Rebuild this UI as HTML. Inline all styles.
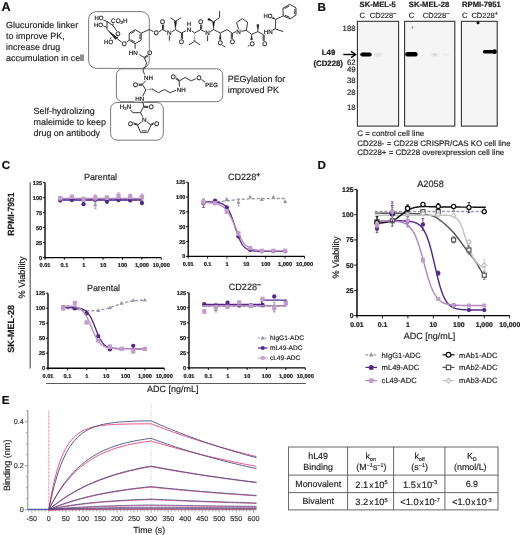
<!DOCTYPE html>
<html><head><meta charset="utf-8"><style>
html,body{margin:0;padding:0;background:#fff;}
svg{display:block;font-family:'Liberation Sans', Arial, sans-serif;text-rendering:geometricPrecision;}
</style></head><body>
<svg width="520" height="535" viewBox="0 0 520 535">
<rect width="520" height="535" fill="#fff"/>
<text x="1.50" y="11.30" font-size="12.6" font-weight="700" text-anchor="start" fill="#111" stroke="#111" stroke-width="0.22" >A</text>
<text x="6.10" y="28.10" font-size="8.95" font-weight="400" text-anchor="start" fill="#1e1e1e" stroke="#1e1e1e" stroke-width="0.16" >Glucuronide linker</text>
<text x="6.10" y="38.90" font-size="8.95" font-weight="400" text-anchor="start" fill="#1e1e1e" stroke="#1e1e1e" stroke-width="0.16" >to improve PK,</text>
<text x="6.10" y="49.70" font-size="8.95" font-weight="400" text-anchor="start" fill="#1e1e1e" stroke="#1e1e1e" stroke-width="0.16" >increase drug</text>
<text x="6.10" y="60.50" font-size="8.95" font-weight="400" text-anchor="start" fill="#1e1e1e" stroke="#1e1e1e" stroke-width="0.16" >accumulation in cell</text>
<text x="227.70" y="81.90" font-size="8.95" font-weight="400" text-anchor="start" fill="#1e1e1e" stroke="#1e1e1e" stroke-width="0.16" >PEGylation for</text>
<text x="227.70" y="92.60" font-size="8.95" font-weight="400" text-anchor="start" fill="#1e1e1e" stroke="#1e1e1e" stroke-width="0.16" >improved PK</text>
<text x="33.50" y="114.20" font-size="8.95" font-weight="400" text-anchor="start" fill="#1e1e1e" stroke="#1e1e1e" stroke-width="0.16" >Self-hydrolizing</text>
<text x="33.50" y="124.90" font-size="8.95" font-weight="400" text-anchor="start" fill="#1e1e1e" stroke="#1e1e1e" stroke-width="0.16" >maleimide to keep</text>
<text x="33.50" y="135.60" font-size="8.95" font-weight="400" text-anchor="start" fill="#1e1e1e" stroke="#1e1e1e" stroke-width="0.16" >drug on antibody</text>
<rect x="88.6" y="11.6" width="60.7" height="56.8" rx="8" fill="none" stroke="#6a6a6a" stroke-width="0.9"/>
<rect x="116.4" y="68.8" width="106.3" height="32.9" rx="6" fill="none" stroke="#6a6a6a" stroke-width="0.9"/>
<rect x="110.6" y="102.5" width="52.7" height="37.7" rx="6.5" fill="none" stroke="#6a6a6a" stroke-width="0.9"/>
<polyline points="102.50,19.50 107.00,21.50 113.00,25.50 117.50,32.00" fill="none" stroke="#151515" stroke-width="0.85" stroke-linejoin="round"/>
<polyline points="117.50,34.50 117.00,38.50" fill="none" stroke="#151515" stroke-width="0.85" stroke-linejoin="round"/>
<polyline points="107.00,21.50 107.00,29.50" fill="none" stroke="#151515" stroke-width="0.85" stroke-linejoin="round"/>
<polygon points="107.00,29.50 115.61,39.44 117.39,37.56" fill="#151515" stroke="#151515" stroke-width="0.3" />
<polyline points="113.00,25.50 113.50,21.80" fill="none" stroke="#151515" stroke-width="0.85" stroke-linejoin="round"/>
<polyline points="101.50,25.00 107.00,27.50" fill="none" stroke="#151515" stroke-width="0.85" stroke-linejoin="round"/>
<polyline points="111.00,37.50 109.50,40.00" fill="none" stroke="#151515" stroke-width="0.85" stroke-linejoin="round"/>
<polyline points="117.00,38.50 122.00,42.50" fill="none" stroke="#151515" stroke-width="0.85" stroke-linejoin="round"/>
<polygon points="129.20,40.20 129.20,33.20 135.10,29.70 141.20,33.20 141.20,40.20 135.10,43.60" fill="none" stroke="#151515" stroke-width="0.85" stroke-linejoin="round"/>
<line x1="130.68" y1="33.71" x2="134.81" y2="31.26" stroke="#151515" stroke-width="0.85" />
<line x1="140.00" y1="34.24" x2="140.00" y2="39.14" stroke="#151515" stroke-width="0.85" />
<line x1="134.81" y1="42.05" x2="130.68" y2="39.67" stroke="#151515" stroke-width="0.85" />
<polyline points="126.00,43.00 129.20,40.20" fill="none" stroke="#151515" stroke-width="0.85" stroke-linejoin="round"/>
<polyline points="135.10,43.60 135.10,48.80" fill="none" stroke="#151515" stroke-width="0.85" stroke-linejoin="round"/>
<polyline points="141.20,33.20 149.30,29.50 154.50,32.20" fill="none" stroke="#151515" stroke-width="0.85" stroke-linejoin="round"/>
<polyline points="158.30,32.20 162.50,29.60 167.50,32.20" fill="none" stroke="#151515" stroke-width="0.85" stroke-linejoin="round"/>
<polyline points="162.50,29.60 162.50,23.80" fill="none" stroke="#151515" stroke-width="0.85" stroke-linejoin="round"/>
<line x1="163.60" y1="29.60" x2="163.60" y2="23.80" stroke="#151515" stroke-width="0.85" />
<polyline points="169.40,35.20 169.40,40.70" fill="none" stroke="#151515" stroke-width="0.85" stroke-linejoin="round"/>
<polyline points="171.30,32.20 175.50,29.60 181.40,33.00" fill="none" stroke="#151515" stroke-width="0.85" stroke-linejoin="round"/>
<polygon points="175.50,29.60 176.70,21.20 174.30,21.20" fill="#151515" stroke="#151515" stroke-width="0.3" />
<polyline points="170.40,17.70 175.50,21.20 181.10,17.70" fill="none" stroke="#151515" stroke-width="0.85" stroke-linejoin="round"/>
<polyline points="181.40,33.00 181.40,39.00" fill="none" stroke="#151515" stroke-width="0.85" stroke-linejoin="round"/>
<line x1="182.50" y1="33.00" x2="182.50" y2="39.00" stroke="#151515" stroke-width="0.85" />
<polyline points="181.40,33.00 186.50,30.50" fill="none" stroke="#151515" stroke-width="0.85" stroke-linejoin="round"/>
<polyline points="191.20,30.50 194.60,33.00 200.60,29.60" fill="none" stroke="#151515" stroke-width="0.85" stroke-linejoin="round"/>
<line x1="194.30" y1="34.95" x2="194.90" y2="34.95" stroke="#151515" stroke-width="0.6" />
<line x1="194.00" y1="36.91" x2="195.20" y2="36.91" stroke="#151515" stroke-width="0.6" />
<line x1="193.69" y1="38.86" x2="195.51" y2="38.86" stroke="#151515" stroke-width="0.6" />
<line x1="193.39" y1="40.81" x2="195.81" y2="40.81" stroke="#151515" stroke-width="0.6" />
<polyline points="189.00,44.80 194.60,41.40 200.20,44.80" fill="none" stroke="#151515" stroke-width="0.85" stroke-linejoin="round"/>
<polyline points="200.60,29.60 200.60,24.00" fill="none" stroke="#151515" stroke-width="0.85" stroke-linejoin="round"/>
<line x1="201.70" y1="29.60" x2="201.70" y2="24.00" stroke="#151515" stroke-width="0.85" />
<polyline points="200.60,29.60 205.80,32.30" fill="none" stroke="#151515" stroke-width="0.85" stroke-linejoin="round"/>
<polyline points="207.60,35.30 207.60,41.20" fill="none" stroke="#151515" stroke-width="0.85" stroke-linejoin="round"/>
<polyline points="209.50,32.30 213.60,29.60 220.20,33.00" fill="none" stroke="#151515" stroke-width="0.85" stroke-linejoin="round"/>
<polygon points="213.60,29.60 214.70,21.80 212.50,21.80" fill="#151515" stroke="#151515" stroke-width="0.3" />
<polygon points="213.60,21.80 208.71,18.02 207.69,19.98" fill="#151515" stroke="#151515" stroke-width="0.3" />
<polyline points="213.60,21.80 219.60,17.60 219.60,11.00" fill="none" stroke="#151515" stroke-width="0.85" stroke-linejoin="round"/>
<polygon points="220.20,33.00 219.20,39.60 221.20,39.60" fill="#151515" stroke="#151515" stroke-width="0.3" />
<polyline points="221.80,44.60 225.20,47.00" fill="none" stroke="#151515" stroke-width="0.85" stroke-linejoin="round"/>
<polyline points="220.20,33.00 227.10,29.60 232.40,33.40" fill="none" stroke="#151515" stroke-width="0.85" stroke-linejoin="round"/>
<polyline points="232.40,33.40 232.40,39.80" fill="none" stroke="#151515" stroke-width="0.85" stroke-linejoin="round"/>
<line x1="231.30" y1="33.40" x2="231.30" y2="39.80" stroke="#151515" stroke-width="0.85" />
<polyline points="232.40,33.40 236.60,31.20" fill="none" stroke="#151515" stroke-width="0.85" stroke-linejoin="round"/>
<polyline points="238.60,29.00 236.60,22.60 242.20,18.60 247.60,22.20 246.40,30.40 240.60,31.40" fill="none" stroke="#151515" stroke-width="0.85" stroke-linejoin="round"/>
<polyline points="246.40,30.40 251.60,34.40 257.90,31.60 264.20,35.20" fill="none" stroke="#151515" stroke-width="0.85" stroke-linejoin="round"/>
<polygon points="251.60,34.40 250.60,39.80 252.60,39.80" fill="#151515" stroke="#151515" stroke-width="0.3" />
<polyline points="250.20,44.60 247.80,46.40" fill="none" stroke="#151515" stroke-width="0.85" stroke-linejoin="round"/>
<polygon points="257.90,31.60 259.00,24.60 256.80,24.60" fill="#151515" stroke="#151515" stroke-width="0.3" />
<polyline points="264.20,35.20 264.20,41.20" fill="none" stroke="#151515" stroke-width="0.85" stroke-linejoin="round"/>
<line x1="263.10" y1="35.20" x2="263.10" y2="41.20" stroke="#151515" stroke-width="0.85" />
<polyline points="264.20,35.20 266.20,33.20" fill="none" stroke="#151515" stroke-width="0.85" stroke-linejoin="round"/>
<polygon points="275.20,28.80 270.35,30.11 271.25,31.89" fill="#151515" stroke="#151515" stroke-width="0.3" />
<polyline points="275.20,28.80 283.20,31.60" fill="none" stroke="#151515" stroke-width="0.85" stroke-linejoin="round"/>
<polyline points="275.20,28.80 275.80,19.40" fill="none" stroke="#151515" stroke-width="0.85" stroke-linejoin="round"/>
<polygon points="275.80,19.40 271.88,16.12 270.92,17.88" fill="#151515" stroke="#151515" stroke-width="0.3" />
<polyline points="275.80,19.40 283.30,15.90" fill="none" stroke="#151515" stroke-width="0.85" stroke-linejoin="round"/>
<polygon points="283.30,15.90 282.90,8.30 289.60,4.40 296.00,7.80 296.00,15.00 290.20,18.80" fill="none" stroke="#151515" stroke-width="0.85" stroke-linejoin="round"/>
<line x1="284.55" y1="8.73" x2="289.24" y2="6.00" stroke="#151515" stroke-width="0.85" />
<line x1="294.80" y1="8.92" x2="294.80" y2="13.96" stroke="#151515" stroke-width="0.85" />
<line x1="289.70" y1="17.29" x2="284.87" y2="15.26" stroke="#151515" stroke-width="0.85" />
<polyline points="139.30,54.60 144.20,57.40" fill="none" stroke="#151515" stroke-width="0.85" stroke-linejoin="round"/>
<polyline points="144.20,57.40 148.20,54.60" fill="none" stroke="#151515" stroke-width="0.85" stroke-linejoin="round"/>
<line x1="144.77" y1="58.22" x2="148.77" y2="55.42" stroke="#151515" stroke-width="0.85" />
<polyline points="144.20,57.40 146.50,63.00 145.80,65.50 142.90,70.20 144.60,74.60" fill="none" stroke="#151515" stroke-width="0.85" stroke-linejoin="round"/>
<polyline points="146.00,80.40 142.30,84.20" fill="none" stroke="#151515" stroke-width="0.85" stroke-linejoin="round"/>
<polyline points="142.30,84.20 137.60,84.20" fill="none" stroke="#151515" stroke-width="0.85" stroke-linejoin="round"/>
<line x1="142.30" y1="85.20" x2="137.60" y2="85.20" stroke="#151515" stroke-width="0.85" />
<polyline points="142.30,84.20 145.80,89.80" fill="none" stroke="#151515" stroke-width="0.85" stroke-linejoin="round"/>
<line x1="147.43" y1="89.96" x2="147.38" y2="89.36" stroke="#151515" stroke-width="0.6" />
<line x1="149.06" y1="90.12" x2="148.96" y2="88.92" stroke="#151515" stroke-width="0.6" />
<line x1="150.69" y1="90.28" x2="150.54" y2="88.48" stroke="#151515" stroke-width="0.6" />
<line x1="152.32" y1="90.45" x2="152.11" y2="88.04" stroke="#151515" stroke-width="0.6" />
<polyline points="152.70,89.20 158.40,92.70 164.30,89.60 170.20,92.70 176.20,90.20" fill="none" stroke="#151515" stroke-width="0.85" stroke-linejoin="round"/>
<polyline points="145.80,89.80 142.60,96.40" fill="none" stroke="#151515" stroke-width="0.85" stroke-linejoin="round"/>
<polyline points="179.40,86.60 179.20,81.10" fill="none" stroke="#151515" stroke-width="0.85" stroke-linejoin="round"/>
<polyline points="179.20,81.10 175.00,78.30" fill="none" stroke="#151515" stroke-width="0.85" stroke-linejoin="round"/>
<line x1="179.75" y1="80.27" x2="175.55" y2="77.47" stroke="#151515" stroke-width="0.85" />
<polyline points="179.20,81.10 185.00,77.50 191.30,80.80 196.60,78.40" fill="none" stroke="#151515" stroke-width="0.85" stroke-linejoin="round"/>
<polyline points="201.00,79.00 205.30,82.40" fill="none" stroke="#151515" stroke-width="0.85" stroke-linejoin="round"/>
<polyline points="142.40,100.80 143.80,106.20" fill="none" stroke="#151515" stroke-width="0.85" stroke-linejoin="round"/>
<polyline points="143.80,106.20 149.00,106.60" fill="none" stroke="#151515" stroke-width="0.85" stroke-linejoin="round"/>
<line x1="143.72" y1="107.20" x2="148.92" y2="107.60" stroke="#151515" stroke-width="0.85" />
<polyline points="143.80,106.20 140.50,112.70 132.80,112.70 130.60,110.00" fill="none" stroke="#151515" stroke-width="0.85" stroke-linejoin="round"/>
<polyline points="140.50,112.70 143.20,117.80" fill="none" stroke="#151515" stroke-width="0.85" stroke-linejoin="round"/>
<polyline points="142.20,121.40 137.60,125.20 140.50,132.40" fill="none" stroke="#151515" stroke-width="0.85" stroke-linejoin="round"/>
<polyline points="146.40,121.40 151.10,125.20 147.70,132.40" fill="none" stroke="#151515" stroke-width="0.85" stroke-linejoin="round"/>
<line x1="140.5" y1="132.4" x2="147.7" y2="132.4" stroke="#2a2a2a" stroke-width="0.85"/>
<line x1="141.5" y1="130.8" x2="146.7" y2="130.8" stroke="#2a2a2a" stroke-width="0.85"/>
<polyline points="137.60,125.20 132.60,123.60" fill="none" stroke="#151515" stroke-width="0.85" stroke-linejoin="round"/>
<line x1="137.87" y1="124.34" x2="132.87" y2="122.74" stroke="#151515" stroke-width="0.85" />
<polyline points="151.10,125.20 154.40,123.60" fill="none" stroke="#151515" stroke-width="0.85" stroke-linejoin="round"/>
<line x1="150.71" y1="124.39" x2="154.01" y2="122.79" stroke="#151515" stroke-width="0.85" />
<text x="99.00" y="20.46" font-size="5.99" text-anchor="middle" fill="#fff" stroke="#fff" stroke-width="1.6" stroke-linejoin="round">HO</text>
<text x="99.00" y="20.46" font-size="5.99" text-anchor="middle" fill="#151515" stroke="#151515" stroke-width="0.2">HO</text>
<text x="98.40" y="26.76" font-size="5.99" text-anchor="middle" fill="#fff" stroke="#fff" stroke-width="1.6" stroke-linejoin="round">HO</text>
<text x="98.40" y="26.76" font-size="5.99" text-anchor="middle" fill="#151515" stroke="#151515" stroke-width="0.2">HO</text>
<text x="108.60" y="43.56" font-size="5.99" text-anchor="middle" fill="#fff" stroke="#fff" stroke-width="1.6" stroke-linejoin="round">HO</text>
<text x="108.60" y="43.56" font-size="5.99" text-anchor="middle" fill="#151515" stroke="#151515" stroke-width="0.2">HO</text>
<text x="111.1" y="23.1" font-size="6.3" fill="#fff" stroke="#fff" stroke-width="1.6">CO<tspan font-size="4.4" dy="1.3">2</tspan><tspan dy="-1.3">H</tspan></text>
<text x="111.1" y="23.1" font-size="6.3" fill="#151515" stroke="#151515" stroke-width="0.2">CO<tspan font-size="4.4" dy="1.3">2</tspan><tspan dy="-1.3">H</tspan></text>
<text x="118.00" y="35.58" font-size="6.33" text-anchor="middle" fill="#fff" stroke="#fff" stroke-width="1.6" stroke-linejoin="round">O</text>
<text x="118.00" y="35.58" font-size="6.33" text-anchor="middle" fill="#151515" stroke="#151515" stroke-width="0.2">O</text>
<text x="124.20" y="46.48" font-size="6.33" text-anchor="middle" fill="#fff" stroke="#fff" stroke-width="1.6" stroke-linejoin="round">O</text>
<text x="124.20" y="46.48" font-size="6.33" text-anchor="middle" fill="#151515" stroke="#151515" stroke-width="0.2">O</text>
<text x="133.20" y="54.84" font-size="6.21" text-anchor="middle" fill="#fff" stroke="#fff" stroke-width="1.6" stroke-linejoin="round">HN</text>
<text x="133.20" y="54.84" font-size="6.21" text-anchor="middle" fill="#151515" stroke="#151515" stroke-width="0.2">HN</text>
<text x="149.70" y="54.98" font-size="6.33" text-anchor="middle" fill="#fff" stroke="#fff" stroke-width="1.6" stroke-linejoin="round">O</text>
<text x="149.70" y="54.98" font-size="6.33" text-anchor="middle" fill="#151515" stroke="#151515" stroke-width="0.2">O</text>
<text x="156.30" y="35.28" font-size="6.33" text-anchor="middle" fill="#fff" stroke="#fff" stroke-width="1.6" stroke-linejoin="round">O</text>
<text x="156.30" y="35.28" font-size="6.33" text-anchor="middle" fill="#151515" stroke="#151515" stroke-width="0.2">O</text>
<text x="162.50" y="23.88" font-size="6.33" text-anchor="middle" fill="#fff" stroke="#fff" stroke-width="1.6" stroke-linejoin="round">O</text>
<text x="162.50" y="23.88" font-size="6.33" text-anchor="middle" fill="#151515" stroke="#151515" stroke-width="0.2">O</text>
<text x="169.40" y="35.48" font-size="6.33" text-anchor="middle" fill="#fff" stroke="#fff" stroke-width="1.6" stroke-linejoin="round">N</text>
<text x="169.40" y="35.48" font-size="6.33" text-anchor="middle" fill="#151515" stroke="#151515" stroke-width="0.2">N</text>
<text x="181.40" y="43.88" font-size="6.33" text-anchor="middle" fill="#fff" stroke="#fff" stroke-width="1.6" stroke-linejoin="round">O</text>
<text x="181.40" y="43.88" font-size="6.33" text-anchor="middle" fill="#151515" stroke="#151515" stroke-width="0.2">O</text>
<text x="189.00" y="31.88" font-size="6.33" text-anchor="middle" fill="#fff" stroke="#fff" stroke-width="1.6" stroke-linejoin="round">N</text>
<text x="189.00" y="31.88" font-size="6.33" text-anchor="middle" fill="#151515" stroke="#151515" stroke-width="0.2">N</text>
<text x="189.00" y="26.36" font-size="5.99" text-anchor="middle" fill="#fff" stroke="#fff" stroke-width="1.6" stroke-linejoin="round">H</text>
<text x="189.00" y="26.36" font-size="5.99" text-anchor="middle" fill="#151515" stroke="#151515" stroke-width="0.2">H</text>
<text x="200.60" y="24.28" font-size="6.33" text-anchor="middle" fill="#fff" stroke="#fff" stroke-width="1.6" stroke-linejoin="round">O</text>
<text x="200.60" y="24.28" font-size="6.33" text-anchor="middle" fill="#151515" stroke="#151515" stroke-width="0.2">O</text>
<text x="207.60" y="35.48" font-size="6.33" text-anchor="middle" fill="#fff" stroke="#fff" stroke-width="1.6" stroke-linejoin="round">N</text>
<text x="207.60" y="35.48" font-size="6.33" text-anchor="middle" fill="#151515" stroke="#151515" stroke-width="0.2">N</text>
<text x="220.20" y="44.88" font-size="6.33" text-anchor="middle" fill="#fff" stroke="#fff" stroke-width="1.6" stroke-linejoin="round">O</text>
<text x="220.20" y="44.88" font-size="6.33" text-anchor="middle" fill="#151515" stroke="#151515" stroke-width="0.2">O</text>
<text x="232.40" y="44.28" font-size="6.33" text-anchor="middle" fill="#fff" stroke="#fff" stroke-width="1.6" stroke-linejoin="round">O</text>
<text x="232.40" y="44.28" font-size="6.33" text-anchor="middle" fill="#151515" stroke="#151515" stroke-width="0.2">O</text>
<text x="238.60" y="34.08" font-size="6.33" text-anchor="middle" fill="#fff" stroke="#fff" stroke-width="1.6" stroke-linejoin="round">N</text>
<text x="238.60" y="34.08" font-size="6.33" text-anchor="middle" fill="#151515" stroke="#151515" stroke-width="0.2">N</text>
<text x="252.10" y="45.88" font-size="6.33" text-anchor="middle" fill="#fff" stroke="#fff" stroke-width="1.6" stroke-linejoin="round">O</text>
<text x="252.10" y="45.88" font-size="6.33" text-anchor="middle" fill="#151515" stroke="#151515" stroke-width="0.2">O</text>
<text x="264.60" y="45.88" font-size="6.33" text-anchor="middle" fill="#fff" stroke="#fff" stroke-width="1.6" stroke-linejoin="round">O</text>
<text x="264.60" y="45.88" font-size="6.33" text-anchor="middle" fill="#151515" stroke="#151515" stroke-width="0.2">O</text>
<text x="268.20" y="33.84" font-size="6.21" text-anchor="middle" fill="#fff" stroke="#fff" stroke-width="1.6" stroke-linejoin="round">HN</text>
<text x="268.20" y="33.84" font-size="6.21" text-anchor="middle" fill="#151515" stroke="#151515" stroke-width="0.2">HN</text>
<text x="267.90" y="18.36" font-size="5.99" text-anchor="middle" fill="#fff" stroke="#fff" stroke-width="1.6" stroke-linejoin="round">HO</text>
<text x="267.90" y="18.36" font-size="5.99" text-anchor="middle" fill="#151515" stroke="#151515" stroke-width="0.2">HO</text>
<text x="148.50" y="79.94" font-size="6.21" text-anchor="middle" fill="#fff" stroke="#fff" stroke-width="1.6" stroke-linejoin="round">NH</text>
<text x="148.50" y="79.94" font-size="6.21" text-anchor="middle" fill="#151515" stroke="#151515" stroke-width="0.2">NH</text>
<text x="135.40" y="86.68" font-size="6.33" text-anchor="middle" fill="#fff" stroke="#fff" stroke-width="1.6" stroke-linejoin="round">O</text>
<text x="135.40" y="86.68" font-size="6.33" text-anchor="middle" fill="#151515" stroke="#151515" stroke-width="0.2">O</text>
<text x="173.20" y="79.38" font-size="6.33" text-anchor="middle" fill="#fff" stroke="#fff" stroke-width="1.6" stroke-linejoin="round">O</text>
<text x="173.20" y="79.38" font-size="6.33" text-anchor="middle" fill="#151515" stroke="#151515" stroke-width="0.2">O</text>
<text x="181.30" y="91.54" font-size="6.21" text-anchor="middle" fill="#fff" stroke="#fff" stroke-width="1.6" stroke-linejoin="round">NH</text>
<text x="181.30" y="91.54" font-size="6.21" text-anchor="middle" fill="#151515" stroke="#151515" stroke-width="0.2">NH</text>
<text x="198.90" y="79.88" font-size="6.33" text-anchor="middle" fill="#fff" stroke="#fff" stroke-width="1.6" stroke-linejoin="round">O</text>
<text x="198.90" y="79.88" font-size="6.33" text-anchor="middle" fill="#151515" stroke="#151515" stroke-width="0.2">O</text>
<text x="211.60" y="86.56" font-size="5.99" text-anchor="middle" fill="#fff" stroke="#fff" stroke-width="1.6" stroke-linejoin="round">PEG</text>
<text x="211.60" y="86.56" font-size="5.99" text-anchor="middle" fill="#151515" stroke="#151515" stroke-width="0.2">PEG</text>
<text x="139.80" y="100.94" font-size="6.21" text-anchor="middle" fill="#fff" stroke="#fff" stroke-width="1.6" stroke-linejoin="round">HN</text>
<text x="139.80" y="100.94" font-size="6.21" text-anchor="middle" fill="#151515" stroke="#151515" stroke-width="0.2">HN</text>
<text x="151.30" y="109.18" font-size="6.33" text-anchor="middle" fill="#fff" stroke="#fff" stroke-width="1.6" stroke-linejoin="round">O</text>
<text x="151.30" y="109.18" font-size="6.33" text-anchor="middle" fill="#151515" stroke="#151515" stroke-width="0.2">O</text>
<text x="125.6" y="109.1" font-size="6.3" text-anchor="middle" fill="#fff" stroke="#fff" stroke-width="1.6">H<tspan font-size="4.4" dy="1.3">2</tspan><tspan dy="-1.3">N</tspan></text>
<text x="125.6" y="109.1" font-size="6.3" text-anchor="middle" fill="#151515" stroke="#151515" stroke-width="0.2">H<tspan font-size="4.4" dy="1.3">2</tspan><tspan dy="-1.3">N</tspan></text>
<text x="144.30" y="122.18" font-size="6.33" text-anchor="middle" fill="#fff" stroke="#fff" stroke-width="1.6" stroke-linejoin="round">N</text>
<text x="144.30" y="122.18" font-size="6.33" text-anchor="middle" fill="#151515" stroke="#151515" stroke-width="0.2">N</text>
<text x="130.40" y="125.58" font-size="6.33" text-anchor="middle" fill="#fff" stroke="#fff" stroke-width="1.6" stroke-linejoin="round">O</text>
<text x="130.40" y="125.58" font-size="6.33" text-anchor="middle" fill="#151515" stroke="#151515" stroke-width="0.2">O</text>
<text x="156.60" y="125.58" font-size="6.33" text-anchor="middle" fill="#fff" stroke="#fff" stroke-width="1.6" stroke-linejoin="round">O</text>
<text x="156.60" y="125.58" font-size="6.33" text-anchor="middle" fill="#151515" stroke="#151515" stroke-width="0.2">O</text>
<text x="317.60" y="11.20" font-size="11.6" font-weight="700" text-anchor="start" fill="#111" stroke="#111" stroke-width="0.22" >B</text>
<text x="359.50" y="7.40" font-size="7.7" font-weight="700" text-anchor="start" fill="#1e1e1e" stroke="#1e1e1e" stroke-width="0.22" >SK-MEL-5</text>
<text x="408.80" y="7.40" font-size="7.7" font-weight="700" text-anchor="start" fill="#1e1e1e" stroke="#1e1e1e" stroke-width="0.22" >SK-MEL-28</text>
<text x="462.00" y="7.40" font-size="7.7" font-weight="700" text-anchor="start" fill="#1e1e1e" stroke="#1e1e1e" stroke-width="0.22" >RPMI-7951</text>
<text x="359.60" y="18.20" font-size="7.6" font-weight="400" text-anchor="start" fill="#1e1e1e" stroke="#1e1e1e" stroke-width="0.16" >C</text>
<text x="369.8" y="18.2" font-size="7.5" fill="#1e1e1e" stroke="#1e1e1e" stroke-width="0.16">CD228<tspan font-size="5.2" dy="-3" font-weight="700">−</tspan></text>
<text x="408.70" y="18.20" font-size="7.6" font-weight="400" text-anchor="start" fill="#1e1e1e" stroke="#1e1e1e" stroke-width="0.16" >C</text>
<text x="422.8" y="18.2" font-size="7.5" fill="#1e1e1e" stroke="#1e1e1e" stroke-width="0.16">CD228<tspan font-size="5.2" dy="-3" font-weight="700">−</tspan></text>
<text x="462.00" y="18.20" font-size="7.6" font-weight="400" text-anchor="start" fill="#1e1e1e" stroke="#1e1e1e" stroke-width="0.16" >C</text>
<text x="471.4" y="18.2" font-size="7.5" fill="#1e1e1e" stroke="#1e1e1e" stroke-width="0.16">CD228<tspan font-size="5.2" dy="-3" font-weight="700">+</tspan></text>
<rect x="357.4" y="21.3" width="41.20" height="104.8" fill="#f5f5f6" stroke="#2a2a2a" stroke-width="1.05"/>
<rect x="404.6" y="21.3" width="50.20" height="104.8" fill="#f5f5f6" stroke="#2a2a2a" stroke-width="1.05"/>
<rect x="461.4" y="21.3" width="35.80" height="104.8" fill="#f5f5f6" stroke="#2a2a2a" stroke-width="1.05"/>
<defs><filter id="bl" x="-50%" y="-50%" width="200%" height="200%"><feGaussianBlur stdDeviation="0.6"/></filter><filter id="bl2" x="-50%" y="-50%" width="200%" height="200%"><feGaussianBlur stdDeviation="0.9"/></filter></defs>
<rect x="360.3" y="52.6" width="11.4" height="3.9" rx="1.95" fill="#000" filter="url(#bl)"/>
<ellipse cx="378.0" cy="54.7" rx="4" ry="0.9" fill="#ccc" filter="url(#bl2)"/>
<rect x="405.2" y="52.0" width="12.4" height="4.4" rx="2.2" fill="#000" filter="url(#bl)"/>
<ellipse cx="434.8" cy="54.6" rx="3.0" ry="0.75" fill="#aaa" filter="url(#bl2)"/>
<ellipse cx="446" cy="54.5" rx="3" ry="0.7" fill="#ddd" filter="url(#bl2)"/>
<rect x="482.8" y="49.9" width="13.6" height="3.6" rx="1.8" fill="#000" filter="url(#bl)"/>
<rect x="492.5" y="49.3" width="4.2" height="4.8" rx="2" fill="#000" filter="url(#bl)"/>
<circle cx="478" cy="22.8" r="1.5" fill="#000" filter="url(#bl)"/>
<ellipse cx="412.5" cy="27.5" rx="0.8" ry="1.5" fill="#999" filter="url(#bl)"/>
<text x="355.60" y="31.30" font-size="7.8" font-weight="400" text-anchor="end" fill="#222" stroke="#222" stroke-width="0.16" >188</text>
<text x="355.60" y="64.80" font-size="7.8" font-weight="400" text-anchor="end" fill="#222" stroke="#222" stroke-width="0.16" >62</text>
<text x="355.60" y="71.90" font-size="7.8" font-weight="400" text-anchor="end" fill="#222" stroke="#222" stroke-width="0.16" >49</text>
<text x="355.60" y="82.80" font-size="7.8" font-weight="400" text-anchor="end" fill="#222" stroke="#222" stroke-width="0.16" >38</text>
<text x="355.60" y="94.90" font-size="7.8" font-weight="400" text-anchor="end" fill="#222" stroke="#222" stroke-width="0.16" >28</text>
<text x="355.60" y="110.30" font-size="7.8" font-weight="400" text-anchor="end" fill="#222" stroke="#222" stroke-width="0.16" >18</text>
<text x="328.50" y="55.40" font-size="7.8" font-weight="700" text-anchor="middle" fill="#1e1e1e" stroke="#1e1e1e" stroke-width="0.22" >L49</text>
<text x="328.20" y="66.00" font-size="7.8" font-weight="700" text-anchor="middle" fill="#1e1e1e" stroke="#1e1e1e" stroke-width="0.22" >(CD228)</text>
<line x1="343.30" y1="54.50" x2="355.00" y2="54.50" stroke="#000" stroke-width="1.4" />
<polyline points="351.00,51.40 355.60,54.50 351.00,57.60" fill="none" stroke="#000" stroke-width="1.4" stroke-linejoin="miter"/>
<text x="357.30" y="136.00" font-size="7.9" font-weight="400" text-anchor="start" fill="#1e1e1e" stroke="#1e1e1e" stroke-width="0.16" >C = control cell line</text>
<text x="357.30" y="145.80" font-size="7.9" font-weight="400" text-anchor="start" fill="#1e1e1e" stroke="#1e1e1e" stroke-width="0.16" >CD228- = CD228 CRISPR/CAS KO cell line</text>
<text x="357.30" y="155.20" font-size="7.9" font-weight="400" text-anchor="start" fill="#1e1e1e" stroke="#1e1e1e" stroke-width="0.16" >CD228+ = CD228 overexpression cell line</text>
<text x="1.80" y="169.20" font-size="11.6" font-weight="700" text-anchor="start" fill="#111" stroke="#111" stroke-width="0.22" >C</text>
<line x1="45.00" y1="182.60" x2="45.00" y2="258.20" stroke="#000" stroke-width="1.35" />
<line x1="44.40" y1="257.60" x2="161.28" y2="257.60" stroke="#000" stroke-width="1.35" />
<line x1="42.80" y1="257.60" x2="45.00" y2="257.60" stroke="#000" stroke-width="0.9" />
<text x="42.20" y="259.62" font-size="5.6" font-weight="700" text-anchor="end" fill="#222" stroke="#222" stroke-width="0.22" >0</text>
<line x1="42.80" y1="242.60" x2="45.00" y2="242.60" stroke="#000" stroke-width="0.9" />
<text x="42.20" y="244.62" font-size="5.6" font-weight="700" text-anchor="end" fill="#222" stroke="#222" stroke-width="0.22" >25</text>
<line x1="42.80" y1="227.60" x2="45.00" y2="227.60" stroke="#000" stroke-width="0.9" />
<text x="42.20" y="229.62" font-size="5.6" font-weight="700" text-anchor="end" fill="#222" stroke="#222" stroke-width="0.22" >50</text>
<line x1="42.80" y1="212.60" x2="45.00" y2="212.60" stroke="#000" stroke-width="0.9" />
<text x="42.20" y="214.62" font-size="5.6" font-weight="700" text-anchor="end" fill="#222" stroke="#222" stroke-width="0.22" >75</text>
<line x1="42.80" y1="197.60" x2="45.00" y2="197.60" stroke="#000" stroke-width="0.9" />
<text x="42.20" y="199.62" font-size="5.6" font-weight="700" text-anchor="end" fill="#222" stroke="#222" stroke-width="0.22" >100</text>
<line x1="42.80" y1="182.60" x2="45.00" y2="182.60" stroke="#000" stroke-width="0.9" />
<text x="42.20" y="184.62" font-size="5.6" font-weight="700" text-anchor="end" fill="#222" stroke="#222" stroke-width="0.22" >125</text>
<line x1="45.00" y1="257.60" x2="45.00" y2="259.80" stroke="#000" stroke-width="0.9" />
<text x="45.00" y="267.31" font-size="5.6" font-weight="700" text-anchor="middle" fill="#222" stroke="#222" stroke-width="0.22" >0.01</text>
<line x1="64.38" y1="257.60" x2="64.38" y2="259.80" stroke="#000" stroke-width="0.9" />
<text x="64.38" y="267.31" font-size="5.6" font-weight="700" text-anchor="middle" fill="#222" stroke="#222" stroke-width="0.22" >0.1</text>
<line x1="83.76" y1="257.60" x2="83.76" y2="259.80" stroke="#000" stroke-width="0.9" />
<text x="83.76" y="267.31" font-size="5.6" font-weight="700" text-anchor="middle" fill="#222" stroke="#222" stroke-width="0.22" >1</text>
<line x1="103.14" y1="257.60" x2="103.14" y2="259.80" stroke="#000" stroke-width="0.9" />
<text x="103.14" y="267.31" font-size="5.6" font-weight="700" text-anchor="middle" fill="#222" stroke="#222" stroke-width="0.22" >10</text>
<line x1="122.52" y1="257.60" x2="122.52" y2="259.80" stroke="#000" stroke-width="0.9" />
<text x="122.52" y="267.31" font-size="5.6" font-weight="700" text-anchor="middle" fill="#222" stroke="#222" stroke-width="0.22" >100</text>
<line x1="141.90" y1="257.60" x2="141.90" y2="259.80" stroke="#000" stroke-width="0.9" />
<text x="141.90" y="267.31" font-size="5.6" font-weight="700" text-anchor="middle" fill="#222" stroke="#222" stroke-width="0.22" >1,000</text>
<line x1="161.28" y1="257.60" x2="161.28" y2="259.80" stroke="#000" stroke-width="0.9" />
<text x="161.28" y="267.31" font-size="5.6" font-weight="700" text-anchor="middle" fill="#222" stroke="#222" stroke-width="0.22" >10,000</text>
<text x="100.54" y="180.00" font-size="8.9" font-weight="400" text-anchor="middle" fill="#1e1e1e" stroke="#1e1e1e" stroke-width="0.16" >Parental</text>
<polyline points="58.55,199.70 59.25,199.70 59.95,199.70 60.65,199.70 61.35,199.70 62.05,199.70 62.75,199.70 63.46,199.70 64.16,199.70 64.86,199.70 65.56,199.70 66.26,199.70 66.96,199.70 67.66,199.70 68.36,199.70 69.07,199.70 69.77,199.70 70.47,199.70 71.17,199.70 71.87,199.70 72.57,199.70 73.27,199.70 73.97,199.70 74.68,199.70 75.38,199.70 76.08,199.70 76.78,199.70 77.48,199.70 78.18,199.70 78.88,199.70 79.59,199.70 80.29,199.70 80.99,199.70 81.69,199.70 82.39,199.70 83.09,199.70 83.79,199.70 84.49,199.70 85.20,199.70 85.90,199.70 86.60,199.70 87.30,199.70 88.00,199.70 88.70,199.70 89.40,199.70 90.10,199.70 90.81,199.70 91.51,199.70 92.21,199.70 92.91,199.70 93.61,199.70 94.31,199.70 95.01,199.70 95.72,199.70 96.42,199.70 97.12,199.70 97.82,199.70 98.52,199.70 99.22,199.70 99.92,199.70 100.62,199.70 101.33,199.70 102.03,199.70 102.73,199.70 103.43,199.70 104.13,199.70 104.83,199.70 105.53,199.70 106.23,199.70 106.94,199.70 107.64,199.70 108.34,199.70 109.04,199.70 109.74,199.70 110.44,199.70 111.14,199.70 111.84,199.70 112.55,199.70 113.25,199.70 113.95,199.70 114.65,199.70 115.35,199.70 116.05,199.70 116.75,199.70 117.46,199.70 118.16,199.70 118.86,199.70 119.56,199.70 120.26,199.70 120.96,199.70 121.66,199.70 122.36,199.70 123.07,199.70 123.77,199.70 124.47,199.70 125.17,199.70 125.87,199.70 126.57,199.70 127.27,199.70 127.97,199.70 128.68,199.70 129.38,199.70 130.08,199.70 130.78,199.70 131.48,199.70 132.18,199.70 132.88,199.70 133.59,199.70 134.29,199.70 134.99,199.70 135.69,199.70 136.39,199.70 137.09,199.70 137.79,199.70 138.49,199.70 139.20,199.70 139.90,199.70 140.60,199.70 141.30,199.70 142.00,199.70 142.70,199.70" fill="none" stroke="#9a9aa6" stroke-width="1.35" stroke-dasharray="3.2,1.8" stroke-linejoin="round"/>
<line x1="60.22" y1="198.20" x2="60.22" y2="200.60" stroke="#9a9aa6" stroke-width="0.8" />
<line x1="58.92" y1="198.20" x2="61.52" y2="198.20" stroke="#9a9aa6" stroke-width="0.8" />
<line x1="58.92" y1="200.60" x2="61.52" y2="200.60" stroke="#9a9aa6" stroke-width="0.8" />
<polygon points="60.22,197.09 62.32,200.87 58.12,200.87" fill="#9a9aa6"/>
<polygon points="71.89,196.49 73.99,200.27 69.79,200.27" fill="#9a9aa6"/>
<line x1="83.56" y1="197.00" x2="83.56" y2="203.00" stroke="#9a9aa6" stroke-width="0.8" />
<line x1="82.26" y1="197.00" x2="84.86" y2="197.00" stroke="#9a9aa6" stroke-width="0.8" />
<line x1="82.26" y1="203.00" x2="84.86" y2="203.00" stroke="#9a9aa6" stroke-width="0.8" />
<polygon points="83.56,197.69 85.66,201.47 81.46,201.47" fill="#9a9aa6"/>
<line x1="95.23" y1="201.20" x2="95.23" y2="208.40" stroke="#9a9aa6" stroke-width="0.8" />
<line x1="93.93" y1="201.20" x2="96.53" y2="201.20" stroke="#9a9aa6" stroke-width="0.8" />
<line x1="93.93" y1="208.40" x2="96.53" y2="208.40" stroke="#9a9aa6" stroke-width="0.8" />
<polygon points="95.23,202.49 97.33,206.27 93.13,206.27" fill="#9a9aa6"/>
<polygon points="106.90,197.69 109.00,201.47 104.80,201.47" fill="#9a9aa6"/>
<line x1="118.56" y1="197.00" x2="118.56" y2="201.80" stroke="#9a9aa6" stroke-width="0.8" />
<line x1="117.26" y1="197.00" x2="119.86" y2="197.00" stroke="#9a9aa6" stroke-width="0.8" />
<line x1="117.26" y1="201.80" x2="119.86" y2="201.80" stroke="#9a9aa6" stroke-width="0.8" />
<polygon points="118.56,197.09 120.66,200.87 116.46,200.87" fill="#9a9aa6"/>
<polygon points="130.23,197.69 132.33,201.47 128.13,201.47" fill="#9a9aa6"/>
<line x1="141.90" y1="198.80" x2="141.90" y2="204.80" stroke="#9a9aa6" stroke-width="0.8" />
<line x1="140.60" y1="198.80" x2="143.20" y2="198.80" stroke="#9a9aa6" stroke-width="0.8" />
<line x1="140.60" y1="204.80" x2="143.20" y2="204.80" stroke="#9a9aa6" stroke-width="0.8" />
<polygon points="141.90,199.49 144.00,203.27 139.80,203.27" fill="#9a9aa6"/>
<polyline points="58.55,200.00 59.25,200.00 59.95,200.00 60.65,200.00 61.35,200.00 62.05,200.00 62.75,200.00 63.46,200.00 64.16,200.00 64.86,200.00 65.56,200.00 66.26,200.00 66.96,200.00 67.66,200.00 68.36,200.00 69.07,200.00 69.77,200.00 70.47,200.00 71.17,200.00 71.87,200.00 72.57,200.00 73.27,200.00 73.97,200.00 74.68,200.00 75.38,200.00 76.08,200.00 76.78,200.00 77.48,200.00 78.18,200.00 78.88,200.00 79.59,200.00 80.29,200.00 80.99,200.00 81.69,200.00 82.39,200.00 83.09,200.00 83.79,200.00 84.49,200.00 85.20,200.00 85.90,200.00 86.60,200.00 87.30,200.00 88.00,200.00 88.70,200.00 89.40,200.00 90.10,200.00 90.81,200.00 91.51,200.00 92.21,200.00 92.91,200.00 93.61,200.00 94.31,200.00 95.01,200.00 95.72,200.00 96.42,200.00 97.12,200.00 97.82,200.00 98.52,200.00 99.22,200.00 99.92,200.00 100.62,200.00 101.33,200.00 102.03,200.00 102.73,200.00 103.43,200.00 104.13,200.00 104.83,200.00 105.53,200.00 106.23,200.00 106.94,200.00 107.64,200.00 108.34,200.00 109.04,200.00 109.74,200.00 110.44,200.00 111.14,200.00 111.84,200.00 112.55,200.00 113.25,200.00 113.95,200.00 114.65,200.00 115.35,200.00 116.05,200.00 116.75,200.00 117.46,200.00 118.16,200.00 118.86,200.00 119.56,200.00 120.26,200.00 120.96,200.00 121.66,200.00 122.36,200.00 123.07,200.00 123.77,200.00 124.47,200.00 125.17,200.00 125.87,200.00 126.57,200.00 127.27,200.00 127.97,200.00 128.68,200.00 129.38,200.00 130.08,200.00 130.78,200.00 131.48,200.00 132.18,200.00 132.88,200.00 133.59,200.00 134.29,200.00 134.99,200.00 135.69,200.00 136.39,200.00 137.09,200.00 137.79,200.00 138.49,200.00 139.20,200.00 139.90,200.00 140.60,200.00 141.30,200.00 142.00,200.00 142.70,200.00" fill="none" stroke="#52288a" stroke-width="1.35"  stroke-linejoin="round"/>
<circle cx="60.22" cy="200.60" r="2.15" fill="#52288a"/>
<circle cx="71.89" cy="200.00" r="2.15" fill="#52288a"/>
<circle cx="83.56" cy="204.20" r="2.15" fill="#52288a"/>
<circle cx="95.23" cy="200.00" r="2.15" fill="#52288a"/>
<circle cx="106.90" cy="201.80" r="2.15" fill="#52288a"/>
<circle cx="118.56" cy="200.00" r="2.15" fill="#52288a"/>
<circle cx="130.23" cy="200.60" r="2.15" fill="#52288a"/>
<circle cx="141.90" cy="203.00" r="2.15" fill="#52288a"/>
<polyline points="58.55,198.32 59.25,198.32 59.95,198.32 60.65,198.32 61.35,198.32 62.05,198.32 62.75,198.32 63.46,198.32 64.16,198.32 64.86,198.32 65.56,198.32 66.26,198.32 66.96,198.32 67.66,198.32 68.36,198.32 69.07,198.32 69.77,198.32 70.47,198.32 71.17,198.32 71.87,198.32 72.57,198.32 73.27,198.32 73.97,198.32 74.68,198.32 75.38,198.32 76.08,198.32 76.78,198.32 77.48,198.32 78.18,198.32 78.88,198.32 79.59,198.32 80.29,198.32 80.99,198.32 81.69,198.32 82.39,198.32 83.09,198.32 83.79,198.32 84.49,198.32 85.20,198.32 85.90,198.32 86.60,198.32 87.30,198.32 88.00,198.32 88.70,198.32 89.40,198.32 90.10,198.32 90.81,198.32 91.51,198.32 92.21,198.32 92.91,198.32 93.61,198.32 94.31,198.32 95.01,198.32 95.72,198.32 96.42,198.32 97.12,198.32 97.82,198.32 98.52,198.32 99.22,198.32 99.92,198.32 100.62,198.32 101.33,198.32 102.03,198.32 102.73,198.32 103.43,198.32 104.13,198.32 104.83,198.32 105.53,198.32 106.23,198.32 106.94,198.32 107.64,198.32 108.34,198.32 109.04,198.32 109.74,198.32 110.44,198.32 111.14,198.32 111.84,198.32 112.55,198.32 113.25,198.32 113.95,198.32 114.65,198.32 115.35,198.32 116.05,198.32 116.75,198.32 117.46,198.32 118.16,198.32 118.86,198.32 119.56,198.32 120.26,198.32 120.96,198.32 121.66,198.32 122.36,198.32 123.07,198.32 123.77,198.32 124.47,198.32 125.17,198.32 125.87,198.32 126.57,198.32 127.27,198.32 127.97,198.32 128.68,198.32 129.38,198.32 130.08,198.32 130.78,198.32 131.48,198.32 132.18,198.32 132.88,198.32 133.59,198.32 134.29,198.32 134.99,198.32 135.69,198.32 136.39,198.32 137.09,198.32 137.79,198.32 138.49,198.32 139.20,198.32 139.90,198.32 140.60,198.32 141.30,198.32 142.00,198.32 142.70,198.32" fill="none" stroke="#b286c0" stroke-width="1.35"  stroke-linejoin="round"/>
<line x1="60.22" y1="196.40" x2="60.22" y2="200.00" stroke="#c39ccb" stroke-width="0.8" />
<line x1="58.92" y1="196.40" x2="61.52" y2="196.40" stroke="#c39ccb" stroke-width="0.8" />
<line x1="58.92" y1="200.00" x2="61.52" y2="200.00" stroke="#c39ccb" stroke-width="0.8" />
<rect x="58.07" y="196.05" width="4.30" height="4.30" fill="#c39ccb"/>
<line x1="71.89" y1="195.50" x2="71.89" y2="197.90" stroke="#c39ccb" stroke-width="0.8" />
<line x1="70.59" y1="195.50" x2="73.19" y2="195.50" stroke="#c39ccb" stroke-width="0.8" />
<line x1="70.59" y1="197.90" x2="73.19" y2="197.90" stroke="#c39ccb" stroke-width="0.8" />
<rect x="69.74" y="194.55" width="4.30" height="4.30" fill="#c39ccb"/>
<line x1="83.56" y1="197.60" x2="83.56" y2="201.20" stroke="#c39ccb" stroke-width="0.8" />
<line x1="82.26" y1="197.60" x2="84.86" y2="197.60" stroke="#c39ccb" stroke-width="0.8" />
<line x1="82.26" y1="201.20" x2="84.86" y2="201.20" stroke="#c39ccb" stroke-width="0.8" />
<rect x="81.41" y="197.25" width="4.30" height="4.30" fill="#c39ccb"/>
<line x1="95.23" y1="194.60" x2="95.23" y2="200.60" stroke="#c39ccb" stroke-width="0.8" />
<line x1="93.93" y1="194.60" x2="96.53" y2="194.60" stroke="#c39ccb" stroke-width="0.8" />
<line x1="93.93" y1="200.60" x2="96.53" y2="200.60" stroke="#c39ccb" stroke-width="0.8" />
<rect x="93.08" y="195.45" width="4.30" height="4.30" fill="#c39ccb"/>
<line x1="106.90" y1="195.80" x2="106.90" y2="199.40" stroke="#c39ccb" stroke-width="0.8" />
<line x1="105.60" y1="195.80" x2="108.20" y2="195.80" stroke="#c39ccb" stroke-width="0.8" />
<line x1="105.60" y1="199.40" x2="108.20" y2="199.40" stroke="#c39ccb" stroke-width="0.8" />
<rect x="104.75" y="195.45" width="4.30" height="4.30" fill="#c39ccb"/>
<line x1="118.56" y1="192.80" x2="118.56" y2="198.80" stroke="#c39ccb" stroke-width="0.8" />
<line x1="117.26" y1="192.80" x2="119.86" y2="192.80" stroke="#c39ccb" stroke-width="0.8" />
<line x1="117.26" y1="198.80" x2="119.86" y2="198.80" stroke="#c39ccb" stroke-width="0.8" />
<rect x="116.41" y="193.65" width="4.30" height="4.30" fill="#c39ccb"/>
<line x1="130.23" y1="194.00" x2="130.23" y2="198.80" stroke="#c39ccb" stroke-width="0.8" />
<line x1="128.93" y1="194.00" x2="131.53" y2="194.00" stroke="#c39ccb" stroke-width="0.8" />
<line x1="128.93" y1="198.80" x2="131.53" y2="198.80" stroke="#c39ccb" stroke-width="0.8" />
<rect x="128.08" y="194.25" width="4.30" height="4.30" fill="#c39ccb"/>
<line x1="141.90" y1="194.00" x2="141.90" y2="200.00" stroke="#c39ccb" stroke-width="0.8" />
<line x1="140.60" y1="194.00" x2="143.20" y2="194.00" stroke="#c39ccb" stroke-width="0.8" />
<line x1="140.60" y1="200.00" x2="143.20" y2="200.00" stroke="#c39ccb" stroke-width="0.8" />
<rect x="139.75" y="194.85" width="4.30" height="4.30" fill="#c39ccb"/>
<line x1="188.20" y1="182.20" x2="188.20" y2="257.00" stroke="#000" stroke-width="1.35" />
<line x1="187.60" y1="256.40" x2="304.48" y2="256.40" stroke="#000" stroke-width="1.35" />
<line x1="186.00" y1="256.40" x2="188.20" y2="256.40" stroke="#000" stroke-width="0.9" />
<text x="185.40" y="258.42" font-size="5.6" font-weight="700" text-anchor="end" fill="#222" stroke="#222" stroke-width="0.22" >0</text>
<line x1="186.00" y1="241.56" x2="188.20" y2="241.56" stroke="#000" stroke-width="0.9" />
<text x="185.40" y="243.58" font-size="5.6" font-weight="700" text-anchor="end" fill="#222" stroke="#222" stroke-width="0.22" >25</text>
<line x1="186.00" y1="226.72" x2="188.20" y2="226.72" stroke="#000" stroke-width="0.9" />
<text x="185.40" y="228.74" font-size="5.6" font-weight="700" text-anchor="end" fill="#222" stroke="#222" stroke-width="0.22" >50</text>
<line x1="186.00" y1="211.88" x2="188.20" y2="211.88" stroke="#000" stroke-width="0.9" />
<text x="185.40" y="213.90" font-size="5.6" font-weight="700" text-anchor="end" fill="#222" stroke="#222" stroke-width="0.22" >75</text>
<line x1="186.00" y1="197.04" x2="188.20" y2="197.04" stroke="#000" stroke-width="0.9" />
<text x="185.40" y="199.06" font-size="5.6" font-weight="700" text-anchor="end" fill="#222" stroke="#222" stroke-width="0.22" >100</text>
<line x1="186.00" y1="182.20" x2="188.20" y2="182.20" stroke="#000" stroke-width="0.9" />
<text x="185.40" y="184.22" font-size="5.6" font-weight="700" text-anchor="end" fill="#222" stroke="#222" stroke-width="0.22" >125</text>
<line x1="188.20" y1="256.40" x2="188.20" y2="258.60" stroke="#000" stroke-width="0.9" />
<text x="188.20" y="266.11" font-size="5.6" font-weight="700" text-anchor="middle" fill="#222" stroke="#222" stroke-width="0.22" >0.01</text>
<line x1="207.58" y1="256.40" x2="207.58" y2="258.60" stroke="#000" stroke-width="0.9" />
<text x="207.58" y="266.11" font-size="5.6" font-weight="700" text-anchor="middle" fill="#222" stroke="#222" stroke-width="0.22" >0.1</text>
<line x1="226.96" y1="256.40" x2="226.96" y2="258.60" stroke="#000" stroke-width="0.9" />
<text x="226.96" y="266.11" font-size="5.6" font-weight="700" text-anchor="middle" fill="#222" stroke="#222" stroke-width="0.22" >1</text>
<line x1="246.34" y1="256.40" x2="246.34" y2="258.60" stroke="#000" stroke-width="0.9" />
<text x="246.34" y="266.11" font-size="5.6" font-weight="700" text-anchor="middle" fill="#222" stroke="#222" stroke-width="0.22" >10</text>
<line x1="265.72" y1="256.40" x2="265.72" y2="258.60" stroke="#000" stroke-width="0.9" />
<text x="265.72" y="266.11" font-size="5.6" font-weight="700" text-anchor="middle" fill="#222" stroke="#222" stroke-width="0.22" >100</text>
<line x1="285.10" y1="256.40" x2="285.10" y2="258.60" stroke="#000" stroke-width="0.9" />
<text x="285.10" y="266.11" font-size="5.6" font-weight="700" text-anchor="middle" fill="#222" stroke="#222" stroke-width="0.22" >1,000</text>
<line x1="304.48" y1="256.40" x2="304.48" y2="258.60" stroke="#000" stroke-width="0.9" />
<text x="304.48" y="266.11" font-size="5.6" font-weight="700" text-anchor="middle" fill="#222" stroke="#222" stroke-width="0.22" >10,000</text>
<text x="244.14" y="179.70" font-size="9.1" text-anchor="middle" fill="#1e1e1e" stroke="#1e1e1e" stroke-width="0.15">CD228<tspan font-size="7" dy="-3.2" font-weight="700">+</tspan></text>
<polyline points="201.75,202.26 202.45,202.25 203.15,202.24 203.85,202.22 204.55,202.21 205.25,202.20 205.95,202.18 206.66,202.16 207.36,202.15 208.06,202.13 208.76,202.11 209.46,202.09 210.16,202.06 210.86,202.04 211.56,202.01 212.27,201.98 212.97,201.95 213.67,201.92 214.37,201.88 215.07,201.84 215.77,201.80 216.47,201.76 217.17,201.72 217.88,201.67 218.58,201.62 219.28,201.57 219.98,201.51 220.68,201.46 221.38,201.40 222.08,201.33 222.79,201.27 223.49,201.20 224.19,201.13 224.89,201.06 225.59,200.99 226.29,200.91 226.99,200.84 227.69,200.76 228.40,200.68 229.10,200.60 229.80,200.52 230.50,200.44 231.20,200.36 231.90,200.28 232.60,200.20 233.30,200.12 234.01,200.04 234.71,199.97 235.41,199.89 236.11,199.82 236.81,199.75 237.51,199.68 238.21,199.61 238.92,199.55 239.62,199.49 240.32,199.43 241.02,199.37 241.72,199.32 242.42,199.27 243.12,199.22 243.82,199.17 244.53,199.13 245.23,199.09 245.93,199.05 246.63,199.01 247.33,198.98 248.03,198.95 248.73,198.92 249.43,198.89 250.14,198.86 250.84,198.84 251.54,198.81 252.24,198.79 252.94,198.77 253.64,198.75 254.34,198.74 255.04,198.72 255.75,198.70 256.45,198.69 257.15,198.68 257.85,198.67 258.55,198.66 259.25,198.64 259.95,198.64 260.66,198.63 261.36,198.62 262.06,198.61 262.76,198.60 263.46,198.60 264.16,198.59 264.86,198.59 265.56,198.58 266.27,198.58 266.97,198.57 267.67,198.57 268.37,198.57 269.07,198.56 269.77,198.56 270.47,198.56 271.17,198.55 271.88,198.55 272.58,198.55 273.28,198.55 273.98,198.55 274.68,198.54 275.38,198.54 276.08,198.54 276.79,198.54 277.49,198.54 278.19,198.54 278.89,198.54 279.59,198.54 280.29,198.53 280.99,198.53 281.69,198.53 282.40,198.53 283.10,198.53 283.80,198.53 284.50,198.53 285.20,198.53 285.90,198.53" fill="none" stroke="#9a9aa6" stroke-width="1.35" stroke-dasharray="3.2,1.8" stroke-linejoin="round"/>
<polygon points="203.42,200.67 205.52,204.45 201.32,204.45" fill="#9a9aa6"/>
<polygon points="215.09,200.07 217.19,203.85 212.99,203.85" fill="#9a9aa6"/>
<line x1="226.76" y1="198.41" x2="226.76" y2="200.78" stroke="#9a9aa6" stroke-width="0.8" />
<line x1="225.46" y1="198.41" x2="228.06" y2="198.41" stroke="#9a9aa6" stroke-width="0.8" />
<line x1="225.46" y1="200.78" x2="228.06" y2="200.78" stroke="#9a9aa6" stroke-width="0.8" />
<polygon points="226.76,197.28 228.86,201.06 224.66,201.06" fill="#9a9aa6"/>
<line x1="238.43" y1="198.82" x2="238.43" y2="205.94" stroke="#9a9aa6" stroke-width="0.8" />
<line x1="237.13" y1="198.82" x2="239.73" y2="198.82" stroke="#9a9aa6" stroke-width="0.8" />
<line x1="237.13" y1="205.94" x2="239.73" y2="205.94" stroke="#9a9aa6" stroke-width="0.8" />
<polygon points="238.43,200.07 240.53,203.85 236.33,203.85" fill="#9a9aa6"/>
<polygon points="250.10,194.73 252.20,198.51 248.00,198.51" fill="#9a9aa6"/>
<polygon points="261.76,197.10 263.86,200.88 259.66,200.88" fill="#9a9aa6"/>
<polygon points="273.43,194.73 275.53,198.51 271.33,198.51" fill="#9a9aa6"/>
<polygon points="285.10,199.18 287.20,202.96 283.00,202.96" fill="#9a9aa6"/>
<polyline points="201.75,201.80 202.45,201.80 203.15,201.81 203.85,201.81 204.55,201.81 205.25,201.82 205.95,201.82 206.66,201.83 207.36,201.84 208.06,201.85 208.76,201.86 209.46,201.87 210.16,201.89 210.86,201.91 211.56,201.93 212.27,201.96 212.97,201.99 213.67,202.03 214.37,202.08 215.07,202.13 215.77,202.19 216.47,202.27 217.17,202.36 217.88,202.47 218.58,202.60 219.28,202.75 219.98,202.93 220.68,203.14 221.38,203.39 222.08,203.69 222.79,204.03 223.49,204.44 224.19,204.92 224.89,205.47 225.59,206.11 226.29,206.85 226.99,207.71 227.69,208.68 228.40,209.78 229.10,211.03 229.80,212.42 230.50,213.95 231.20,215.63 231.90,217.44 232.60,219.37 233.30,221.40 234.01,223.51 234.71,225.66 235.41,227.83 236.11,229.97 236.81,232.07 237.51,234.09 238.21,236.00 238.92,237.79 239.62,239.45 240.32,240.96 241.02,242.32 241.72,243.54 242.42,244.63 243.12,245.58 243.82,246.42 244.53,247.14 245.23,247.77 245.93,248.31 246.63,248.77 247.33,249.17 248.03,249.51 248.73,249.79 249.43,250.04 250.14,250.24 250.84,250.42 251.54,250.57 252.24,250.69 252.94,250.80 253.64,250.89 254.34,250.96 255.04,251.02 255.75,251.08 256.45,251.12 257.15,251.16 257.85,251.19 258.55,251.22 259.25,251.24 259.95,251.26 260.66,251.27 261.36,251.29 262.06,251.30 262.76,251.31 263.46,251.31 264.16,251.32 264.86,251.33 265.56,251.33 266.27,251.33 266.97,251.34 267.67,251.34 268.37,251.34 269.07,251.34 269.77,251.35 270.47,251.35 271.17,251.35 271.88,251.35 272.58,251.35 273.28,251.35 273.98,251.35 274.68,251.35 275.38,251.35 276.08,251.35 276.79,251.35 277.49,251.35 278.19,251.35 278.89,251.35 279.59,251.35 280.29,251.35 280.99,251.35 281.69,251.35 282.40,251.35 283.10,251.35 283.80,251.35 284.50,251.35 285.20,251.35 285.90,251.35" fill="none" stroke="#52288a" stroke-width="1.35"  stroke-linejoin="round"/>
<line x1="203.42" y1="199.12" x2="203.42" y2="207.43" stroke="#52288a" stroke-width="0.8" />
<line x1="202.12" y1="199.12" x2="204.72" y2="199.12" stroke="#52288a" stroke-width="0.8" />
<line x1="202.12" y1="207.43" x2="204.72" y2="207.43" stroke="#52288a" stroke-width="0.8" />
<circle cx="203.42" cy="203.27" r="2.15" fill="#52288a"/>
<circle cx="215.09" cy="200.60" r="2.15" fill="#52288a"/>
<circle cx="226.76" cy="207.31" r="2.15" fill="#52288a"/>
<circle cx="238.43" cy="236.57" r="2.15" fill="#52288a"/>
<circle cx="250.10" cy="249.93" r="2.15" fill="#52288a"/>
<circle cx="261.76" cy="251.24" r="2.15" fill="#52288a"/>
<circle cx="273.43" cy="251.24" r="2.15" fill="#52288a"/>
<circle cx="285.10" cy="251.24" r="2.15" fill="#52288a"/>
<polyline points="201.75,202.47 202.45,202.48 203.15,202.49 203.85,202.51 204.55,202.53 205.25,202.55 205.95,202.57 206.66,202.60 207.36,202.63 208.06,202.66 208.76,202.70 209.46,202.74 210.16,202.80 210.86,202.85 211.56,202.92 212.27,203.00 212.97,203.08 213.67,203.18 214.37,203.29 215.07,203.42 215.77,203.56 216.47,203.73 217.17,203.91 217.88,204.12 218.58,204.36 219.28,204.63 219.98,204.93 220.68,205.28 221.38,205.66 222.08,206.09 222.79,206.58 223.49,207.12 224.19,207.72 224.89,208.38 225.59,209.12 226.29,209.93 226.99,210.82 227.69,211.79 228.40,212.84 229.10,213.98 229.80,215.20 230.50,216.49 231.20,217.86 231.90,219.30 232.60,220.80 233.30,222.35 234.01,223.93 234.71,225.54 235.41,227.16 236.11,228.77 236.81,230.36 237.51,231.93 238.21,233.44 238.92,234.91 239.62,236.30 240.32,237.63 241.02,238.88 241.72,240.05 242.42,241.13 243.12,242.13 243.82,243.05 244.53,243.90 245.23,244.66 245.93,245.35 246.63,245.98 247.33,246.54 248.03,247.05 248.73,247.50 249.43,247.90 250.14,248.26 250.84,248.58 251.54,248.86 252.24,249.11 252.94,249.33 253.64,249.53 254.34,249.70 255.04,249.85 255.75,249.98 256.45,250.10 257.15,250.20 257.85,250.29 258.55,250.37 259.25,250.44 259.95,250.50 260.66,250.56 261.36,250.61 262.06,250.65 262.76,250.68 263.46,250.71 264.16,250.74 264.86,250.77 265.56,250.79 266.27,250.81 266.97,250.82 267.67,250.84 268.37,250.85 269.07,250.86 269.77,250.87 270.47,250.88 271.17,250.89 271.88,250.89 272.58,250.90 273.28,250.90 273.98,250.91 274.68,250.91 275.38,250.92 276.08,250.92 276.79,250.92 277.49,250.92 278.19,250.93 278.89,250.93 279.59,250.93 280.29,250.93 280.99,250.93 281.69,250.93 282.40,250.93 283.10,250.93 283.80,250.93 284.50,250.93 285.20,250.94 285.90,250.94" fill="none" stroke="#b286c0" stroke-width="1.35"  stroke-linejoin="round"/>
<line x1="203.42" y1="199.41" x2="203.42" y2="205.35" stroke="#c39ccb" stroke-width="0.8" />
<line x1="202.12" y1="199.41" x2="204.72" y2="199.41" stroke="#c39ccb" stroke-width="0.8" />
<line x1="202.12" y1="205.35" x2="204.72" y2="205.35" stroke="#c39ccb" stroke-width="0.8" />
<rect x="201.27" y="200.23" width="4.30" height="4.30" fill="#c39ccb"/>
<rect x="212.94" y="201.12" width="4.30" height="4.30" fill="#c39ccb"/>
<line x1="226.76" y1="209.74" x2="226.76" y2="213.30" stroke="#c39ccb" stroke-width="0.8" />
<line x1="225.46" y1="209.74" x2="228.06" y2="209.74" stroke="#c39ccb" stroke-width="0.8" />
<line x1="225.46" y1="213.30" x2="228.06" y2="213.30" stroke="#c39ccb" stroke-width="0.8" />
<rect x="224.61" y="209.37" width="4.30" height="4.30" fill="#c39ccb"/>
<line x1="238.43" y1="231.65" x2="238.43" y2="235.21" stroke="#c39ccb" stroke-width="0.8" />
<line x1="237.13" y1="231.65" x2="239.73" y2="231.65" stroke="#c39ccb" stroke-width="0.8" />
<line x1="237.13" y1="235.21" x2="239.73" y2="235.21" stroke="#c39ccb" stroke-width="0.8" />
<rect x="236.28" y="231.28" width="4.30" height="4.30" fill="#c39ccb"/>
<line x1="250.10" y1="246.90" x2="250.10" y2="249.28" stroke="#c39ccb" stroke-width="0.8" />
<line x1="248.80" y1="246.90" x2="251.40" y2="246.90" stroke="#c39ccb" stroke-width="0.8" />
<line x1="248.80" y1="249.28" x2="251.40" y2="249.28" stroke="#c39ccb" stroke-width="0.8" />
<rect x="247.95" y="245.94" width="4.30" height="4.30" fill="#c39ccb"/>
<rect x="259.61" y="248.67" width="4.30" height="4.30" fill="#c39ccb"/>
<rect x="271.28" y="248.67" width="4.30" height="4.30" fill="#c39ccb"/>
<rect x="282.95" y="248.67" width="4.30" height="4.30" fill="#c39ccb"/>
<line x1="48.00" y1="293.20" x2="48.00" y2="368.80" stroke="#000" stroke-width="1.35" />
<line x1="47.40" y1="368.20" x2="164.28" y2="368.20" stroke="#000" stroke-width="1.35" />
<line x1="45.80" y1="368.20" x2="48.00" y2="368.20" stroke="#000" stroke-width="0.9" />
<text x="45.20" y="370.22" font-size="5.6" font-weight="700" text-anchor="end" fill="#222" stroke="#222" stroke-width="0.22" >0</text>
<line x1="45.80" y1="353.20" x2="48.00" y2="353.20" stroke="#000" stroke-width="0.9" />
<text x="45.20" y="355.22" font-size="5.6" font-weight="700" text-anchor="end" fill="#222" stroke="#222" stroke-width="0.22" >25</text>
<line x1="45.80" y1="338.20" x2="48.00" y2="338.20" stroke="#000" stroke-width="0.9" />
<text x="45.20" y="340.22" font-size="5.6" font-weight="700" text-anchor="end" fill="#222" stroke="#222" stroke-width="0.22" >50</text>
<line x1="45.80" y1="323.20" x2="48.00" y2="323.20" stroke="#000" stroke-width="0.9" />
<text x="45.20" y="325.22" font-size="5.6" font-weight="700" text-anchor="end" fill="#222" stroke="#222" stroke-width="0.22" >75</text>
<line x1="45.80" y1="308.20" x2="48.00" y2="308.20" stroke="#000" stroke-width="0.9" />
<text x="45.20" y="310.22" font-size="5.6" font-weight="700" text-anchor="end" fill="#222" stroke="#222" stroke-width="0.22" >100</text>
<line x1="45.80" y1="293.20" x2="48.00" y2="293.20" stroke="#000" stroke-width="0.9" />
<text x="45.20" y="295.22" font-size="5.6" font-weight="700" text-anchor="end" fill="#222" stroke="#222" stroke-width="0.22" >125</text>
<line x1="48.00" y1="368.20" x2="48.00" y2="370.40" stroke="#000" stroke-width="0.9" />
<text x="48.00" y="377.91" font-size="5.6" font-weight="700" text-anchor="middle" fill="#222" stroke="#222" stroke-width="0.22" >0.01</text>
<line x1="67.38" y1="368.20" x2="67.38" y2="370.40" stroke="#000" stroke-width="0.9" />
<text x="67.38" y="377.91" font-size="5.6" font-weight="700" text-anchor="middle" fill="#222" stroke="#222" stroke-width="0.22" >0.1</text>
<line x1="86.76" y1="368.20" x2="86.76" y2="370.40" stroke="#000" stroke-width="0.9" />
<text x="86.76" y="377.91" font-size="5.6" font-weight="700" text-anchor="middle" fill="#222" stroke="#222" stroke-width="0.22" >1</text>
<line x1="106.14" y1="368.20" x2="106.14" y2="370.40" stroke="#000" stroke-width="0.9" />
<text x="106.14" y="377.91" font-size="5.6" font-weight="700" text-anchor="middle" fill="#222" stroke="#222" stroke-width="0.22" >10</text>
<line x1="125.52" y1="368.20" x2="125.52" y2="370.40" stroke="#000" stroke-width="0.9" />
<text x="125.52" y="377.91" font-size="5.6" font-weight="700" text-anchor="middle" fill="#222" stroke="#222" stroke-width="0.22" >100</text>
<line x1="144.90" y1="368.20" x2="144.90" y2="370.40" stroke="#000" stroke-width="0.9" />
<text x="144.90" y="377.91" font-size="5.6" font-weight="700" text-anchor="middle" fill="#222" stroke="#222" stroke-width="0.22" >1,000</text>
<line x1="164.28" y1="368.20" x2="164.28" y2="370.40" stroke="#000" stroke-width="0.9" />
<text x="164.28" y="377.91" font-size="5.6" font-weight="700" text-anchor="middle" fill="#222" stroke="#222" stroke-width="0.22" >10,000</text>
<text x="103.54" y="290.60" font-size="8.9" font-weight="400" text-anchor="middle" fill="#1e1e1e" stroke="#1e1e1e" stroke-width="0.16" >Parental</text>
<polyline points="61.55,308.51 62.25,308.52 62.95,308.54 63.65,308.55 64.35,308.57 65.05,308.60 65.75,308.62 66.46,308.65 67.16,308.68 67.86,308.71 68.56,308.74 69.26,308.78 69.96,308.81 70.66,308.85 71.36,308.89 72.07,308.93 72.77,308.98 73.47,309.02 74.17,309.06 74.87,309.11 75.57,309.17 76.27,309.25 76.97,309.36 77.68,309.48 78.38,309.61 79.08,309.75 79.78,309.89 80.48,310.04 81.18,310.19 81.88,310.33 82.59,310.46 83.29,310.58 83.99,310.69 84.69,310.78 85.39,310.84 86.09,310.89 86.79,310.90 87.49,310.90 88.20,310.89 88.90,310.87 89.60,310.85 90.30,310.83 91.00,310.80 91.70,310.76 92.40,310.73 93.10,310.69 93.81,310.64 94.51,310.59 95.21,310.54 95.91,310.49 96.61,310.43 97.31,310.38 98.01,310.32 98.72,310.25 99.42,310.17 100.12,310.07 100.82,309.95 101.52,309.81 102.22,309.66 102.92,309.50 103.62,309.33 104.33,309.15 105.03,308.97 105.73,308.77 106.43,308.58 107.13,308.38 107.83,308.18 108.53,307.98 109.23,307.78 109.94,307.59 110.64,307.39 111.34,307.17 112.04,306.95 112.74,306.72 113.44,306.48 114.14,306.23 114.84,305.98 115.55,305.73 116.25,305.48 116.95,305.22 117.65,304.97 118.35,304.73 119.05,304.49 119.75,304.25 120.46,304.03 121.16,303.82 121.86,303.62 122.56,303.41 123.26,303.20 123.96,302.99 124.66,302.78 125.36,302.57 126.07,302.37 126.77,302.17 127.47,301.97 128.17,301.78 128.87,301.61 129.57,301.44 130.27,301.29 130.97,301.15 131.68,301.02 132.38,300.92 133.08,300.84 133.78,300.77 134.48,300.70 135.18,300.64 135.88,300.59 136.59,300.53 137.29,300.48 137.99,300.43 138.69,300.39 139.39,300.35 140.09,300.31 140.79,300.27 141.49,300.24 142.20,300.21 142.90,300.18 143.60,300.15 144.30,300.12 145.00,300.10 145.70,300.07" fill="none" stroke="#9a9aa6" stroke-width="1.35" stroke-dasharray="3.2,1.8" stroke-linejoin="round"/>
<polygon points="63.22,306.01 65.32,309.79 61.12,309.79" fill="#9a9aa6"/>
<polygon points="74.89,306.49 76.99,310.27 72.79,310.27" fill="#9a9aa6"/>
<polygon points="86.56,309.31 88.66,313.09 84.46,313.09" fill="#9a9aa6"/>
<polygon points="98.23,308.17 100.33,311.95 96.13,311.95" fill="#9a9aa6"/>
<polygon points="109.90,305.41 112.00,309.19 107.80,309.19" fill="#9a9aa6"/>
<polygon points="121.56,300.85 123.66,304.63 119.46,304.63" fill="#9a9aa6"/>
<polygon points="133.23,298.09 135.33,301.87 131.13,301.87" fill="#9a9aa6"/>
<polygon points="144.90,297.73 147.00,301.51 142.80,301.51" fill="#9a9aa6"/>
<polyline points="61.55,307.61 62.25,307.61 62.95,307.61 63.65,307.61 64.35,307.62 65.05,307.62 65.75,307.63 66.46,307.63 67.16,307.64 67.86,307.64 68.56,307.65 69.26,307.66 69.96,307.67 70.66,307.69 71.36,307.70 72.07,307.72 72.77,307.74 73.47,307.77 74.17,307.80 74.87,307.84 75.57,307.89 76.27,307.94 76.97,308.01 77.68,308.08 78.38,308.18 79.08,308.28 79.78,308.41 80.48,308.56 81.18,308.74 81.88,308.95 82.59,309.20 83.29,309.50 83.99,309.84 84.69,310.24 85.39,310.71 86.09,311.25 86.79,311.87 87.49,312.59 88.20,313.41 88.90,314.34 89.60,315.38 90.30,316.55 91.00,317.83 91.70,319.24 92.40,320.75 93.10,322.36 93.81,324.05 94.51,325.80 95.21,327.59 95.91,329.39 96.61,331.17 97.31,332.90 98.01,334.56 98.72,336.14 99.42,337.61 100.12,338.97 100.82,340.21 101.52,341.33 102.22,342.33 102.92,343.21 103.62,343.99 104.33,344.68 105.03,345.27 105.73,345.78 106.43,346.22 107.13,346.60 107.83,346.92 108.53,347.20 109.23,347.43 109.94,347.63 110.64,347.80 111.34,347.94 112.04,348.06 112.74,348.16 113.44,348.25 114.14,348.32 114.84,348.38 115.55,348.43 116.25,348.47 116.95,348.51 117.65,348.54 118.35,348.57 119.05,348.59 119.75,348.61 120.46,348.62 121.16,348.63 121.86,348.64 122.56,348.65 123.26,348.66 123.96,348.67 124.66,348.67 125.36,348.68 126.07,348.68 126.77,348.68 127.47,348.69 128.17,348.69 128.87,348.69 129.57,348.69 130.27,348.69 130.97,348.69 131.68,348.70 132.38,348.70 133.08,348.70 133.78,348.70 134.48,348.70 135.18,348.70 135.88,348.70 136.59,348.70 137.29,348.70 137.99,348.70 138.69,348.70 139.39,348.70 140.09,348.70 140.79,348.70 141.49,348.70 142.20,348.70 142.90,348.70 143.60,348.70 144.30,348.70 145.00,348.70 145.70,348.70" fill="none" stroke="#52288a" stroke-width="1.35"  stroke-linejoin="round"/>
<circle cx="63.22" cy="307.42" r="2.15" fill="#52288a"/>
<circle cx="74.89" cy="308.32" r="2.15" fill="#52288a"/>
<circle cx="86.56" cy="313.42" r="2.15" fill="#52288a"/>
<circle cx="98.23" cy="336.10" r="2.15" fill="#52288a"/>
<circle cx="109.90" cy="349.42" r="2.15" fill="#52288a"/>
<circle cx="121.56" cy="348.88" r="2.15" fill="#52288a"/>
<circle cx="133.23" cy="345.82" r="2.15" fill="#52288a"/>
<circle cx="144.90" cy="348.88" r="2.15" fill="#52288a"/>
<polyline points="61.55,305.85 62.25,305.86 62.95,305.87 63.65,305.88 64.35,305.89 65.05,305.91 65.75,305.93 66.46,305.95 67.16,305.98 67.86,306.01 68.56,306.04 69.26,306.08 69.96,306.13 70.66,306.19 71.36,306.25 72.07,306.33 72.77,306.42 73.47,306.52 74.17,306.65 74.87,306.79 75.57,306.95 76.27,307.15 76.97,307.37 77.68,307.62 78.38,307.92 79.08,308.27 79.78,308.66 80.48,309.11 81.18,309.63 81.88,310.22 82.59,310.89 83.29,311.64 83.99,312.49 84.69,313.43 85.39,314.48 86.09,315.62 86.79,316.87 87.49,318.22 88.20,319.66 88.90,321.19 89.60,322.78 90.30,324.43 91.00,326.11 91.70,327.81 92.40,329.50 93.10,331.16 93.81,332.78 94.51,334.33 95.21,335.80 95.91,337.18 96.61,338.47 97.31,339.65 98.01,340.73 98.72,341.70 99.42,342.58 100.12,343.37 100.82,344.06 101.52,344.68 102.22,345.22 102.92,345.69 103.62,346.11 104.33,346.47 105.03,346.78 105.73,347.05 106.43,347.28 107.13,347.48 107.83,347.66 108.53,347.81 109.23,347.94 109.94,348.05 110.64,348.14 111.34,348.22 112.04,348.29 112.74,348.35 113.44,348.40 114.14,348.44 114.84,348.48 115.55,348.51 116.25,348.54 116.95,348.56 117.65,348.58 118.35,348.60 119.05,348.62 119.75,348.63 120.46,348.64 121.16,348.65 121.86,348.66 122.56,348.66 123.26,348.67 123.96,348.67 124.66,348.68 125.36,348.68 126.07,348.68 126.77,348.69 127.47,348.69 128.17,348.69 128.87,348.69 129.57,348.69 130.27,348.69 130.97,348.69 131.68,348.70 132.38,348.70 133.08,348.70 133.78,348.70 134.48,348.70 135.18,348.70 135.88,348.70 136.59,348.70 137.29,348.70 137.99,348.70 138.69,348.70 139.39,348.70 140.09,348.70 140.79,348.70 141.49,348.70 142.20,348.70 142.90,348.70 143.60,348.70 144.30,348.70 145.00,348.70 145.70,348.70" fill="none" stroke="#b286c0" stroke-width="1.35"  stroke-linejoin="round"/>
<line x1="63.22" y1="306.52" x2="63.22" y2="310.12" stroke="#c39ccb" stroke-width="0.8" />
<line x1="61.92" y1="306.52" x2="64.52" y2="306.52" stroke="#c39ccb" stroke-width="0.8" />
<line x1="61.92" y1="310.12" x2="64.52" y2="310.12" stroke="#c39ccb" stroke-width="0.8" />
<rect x="61.07" y="306.17" width="4.30" height="4.30" fill="#c39ccb"/>
<line x1="74.89" y1="301.42" x2="74.89" y2="305.02" stroke="#c39ccb" stroke-width="0.8" />
<line x1="73.59" y1="301.42" x2="76.19" y2="301.42" stroke="#c39ccb" stroke-width="0.8" />
<line x1="73.59" y1="305.02" x2="76.19" y2="305.02" stroke="#c39ccb" stroke-width="0.8" />
<rect x="72.74" y="301.07" width="4.30" height="4.30" fill="#c39ccb"/>
<rect x="84.41" y="320.33" width="4.30" height="4.30" fill="#c39ccb"/>
<rect x="96.08" y="338.15" width="4.30" height="4.30" fill="#c39ccb"/>
<line x1="109.90" y1="344.92" x2="109.90" y2="348.52" stroke="#c39ccb" stroke-width="0.8" />
<line x1="108.60" y1="344.92" x2="111.20" y2="344.92" stroke="#c39ccb" stroke-width="0.8" />
<line x1="108.60" y1="348.52" x2="111.20" y2="348.52" stroke="#c39ccb" stroke-width="0.8" />
<rect x="107.75" y="344.57" width="4.30" height="4.30" fill="#c39ccb"/>
<rect x="119.41" y="346.73" width="4.30" height="4.30" fill="#c39ccb"/>
<line x1="133.23" y1="349.60" x2="133.23" y2="353.20" stroke="#c39ccb" stroke-width="0.8" />
<line x1="131.93" y1="349.60" x2="134.53" y2="349.60" stroke="#c39ccb" stroke-width="0.8" />
<line x1="131.93" y1="353.20" x2="134.53" y2="353.20" stroke="#c39ccb" stroke-width="0.8" />
<rect x="131.08" y="349.25" width="4.30" height="4.30" fill="#c39ccb"/>
<rect x="142.75" y="346.73" width="4.30" height="4.30" fill="#c39ccb"/>
<line x1="189.00" y1="292.80" x2="189.00" y2="368.40" stroke="#000" stroke-width="1.35" />
<line x1="188.40" y1="367.80" x2="305.28" y2="367.80" stroke="#000" stroke-width="1.35" />
<line x1="186.80" y1="367.80" x2="189.00" y2="367.80" stroke="#000" stroke-width="0.9" />
<text x="186.20" y="369.82" font-size="5.6" font-weight="700" text-anchor="end" fill="#222" stroke="#222" stroke-width="0.22" >0</text>
<line x1="186.80" y1="352.80" x2="189.00" y2="352.80" stroke="#000" stroke-width="0.9" />
<text x="186.20" y="354.82" font-size="5.6" font-weight="700" text-anchor="end" fill="#222" stroke="#222" stroke-width="0.22" >25</text>
<line x1="186.80" y1="337.80" x2="189.00" y2="337.80" stroke="#000" stroke-width="0.9" />
<text x="186.20" y="339.82" font-size="5.6" font-weight="700" text-anchor="end" fill="#222" stroke="#222" stroke-width="0.22" >50</text>
<line x1="186.80" y1="322.80" x2="189.00" y2="322.80" stroke="#000" stroke-width="0.9" />
<text x="186.20" y="324.82" font-size="5.6" font-weight="700" text-anchor="end" fill="#222" stroke="#222" stroke-width="0.22" >75</text>
<line x1="186.80" y1="307.80" x2="189.00" y2="307.80" stroke="#000" stroke-width="0.9" />
<text x="186.20" y="309.82" font-size="5.6" font-weight="700" text-anchor="end" fill="#222" stroke="#222" stroke-width="0.22" >100</text>
<line x1="186.80" y1="292.80" x2="189.00" y2="292.80" stroke="#000" stroke-width="0.9" />
<text x="186.20" y="294.82" font-size="5.6" font-weight="700" text-anchor="end" fill="#222" stroke="#222" stroke-width="0.22" >125</text>
<line x1="189.00" y1="367.80" x2="189.00" y2="370.00" stroke="#000" stroke-width="0.9" />
<text x="189.00" y="377.51" font-size="5.6" font-weight="700" text-anchor="middle" fill="#222" stroke="#222" stroke-width="0.22" >0.01</text>
<line x1="208.38" y1="367.80" x2="208.38" y2="370.00" stroke="#000" stroke-width="0.9" />
<text x="208.38" y="377.51" font-size="5.6" font-weight="700" text-anchor="middle" fill="#222" stroke="#222" stroke-width="0.22" >0.1</text>
<line x1="227.76" y1="367.80" x2="227.76" y2="370.00" stroke="#000" stroke-width="0.9" />
<text x="227.76" y="377.51" font-size="5.6" font-weight="700" text-anchor="middle" fill="#222" stroke="#222" stroke-width="0.22" >1</text>
<line x1="247.14" y1="367.80" x2="247.14" y2="370.00" stroke="#000" stroke-width="0.9" />
<text x="247.14" y="377.51" font-size="5.6" font-weight="700" text-anchor="middle" fill="#222" stroke="#222" stroke-width="0.22" >10</text>
<line x1="266.52" y1="367.80" x2="266.52" y2="370.00" stroke="#000" stroke-width="0.9" />
<text x="266.52" y="377.51" font-size="5.6" font-weight="700" text-anchor="middle" fill="#222" stroke="#222" stroke-width="0.22" >100</text>
<line x1="285.90" y1="367.80" x2="285.90" y2="370.00" stroke="#000" stroke-width="0.9" />
<text x="285.90" y="377.51" font-size="5.6" font-weight="700" text-anchor="middle" fill="#222" stroke="#222" stroke-width="0.22" >1,000</text>
<line x1="305.28" y1="367.80" x2="305.28" y2="370.00" stroke="#000" stroke-width="0.9" />
<text x="305.28" y="377.51" font-size="5.6" font-weight="700" text-anchor="middle" fill="#222" stroke="#222" stroke-width="0.22" >10,000</text>
<text x="244.94" y="290.30" font-size="9.1" text-anchor="middle" fill="#1e1e1e" stroke="#1e1e1e" stroke-width="0.15">CD228<tspan font-size="7" dy="-3.2" font-weight="700">−</tspan></text>
<polyline points="202.55,306.30 203.25,306.30 203.95,306.30 204.65,306.30 205.35,306.30 206.05,306.30 206.75,306.30 207.46,306.30 208.16,306.30 208.86,306.30 209.56,306.30 210.26,306.30 210.96,306.30 211.66,306.30 212.36,306.30 213.07,306.30 213.77,306.30 214.47,306.30 215.17,306.30 215.87,306.30 216.57,306.30 217.27,306.30 217.97,306.30 218.68,306.30 219.38,306.30 220.08,306.30 220.78,306.30 221.48,306.30 222.18,306.30 222.88,306.30 223.59,306.30 224.29,306.30 224.99,306.30 225.69,306.30 226.39,306.30 227.09,306.30 227.79,306.30 228.49,306.30 229.20,306.30 229.90,306.30 230.60,306.30 231.30,306.30 232.00,306.30 232.70,306.30 233.40,306.30 234.10,306.30 234.81,306.30 235.51,306.30 236.21,306.30 236.91,306.30 237.61,306.30 238.31,306.30 239.01,306.30 239.72,306.30 240.42,306.30 241.12,306.30 241.82,306.30 242.52,306.30 243.22,306.30 243.92,306.30 244.62,306.30 245.33,306.30 246.03,306.30 246.73,306.30 247.43,306.30 248.13,306.30 248.83,306.30 249.53,306.30 250.23,306.30 250.94,306.30 251.64,306.30 252.34,306.30 253.04,306.30 253.74,306.30 254.44,306.30 255.14,306.30 255.84,306.30 256.55,306.30 257.25,306.30 257.95,306.30 258.65,306.30 259.35,306.30 260.05,306.30 260.75,306.30 261.46,306.30 262.16,306.30 262.86,306.30 263.56,306.30 264.26,306.30 264.96,306.30 265.66,306.30 266.36,306.30 267.07,306.30 267.77,306.30 268.47,306.30 269.17,306.30 269.87,306.30 270.57,306.30 271.27,306.30 271.97,306.30 272.68,306.30 273.38,306.30 274.08,306.30 274.78,306.30 275.48,306.30 276.18,306.30 276.88,306.30 277.59,306.30 278.29,306.30 278.99,306.30 279.69,306.30 280.39,306.30 281.09,306.30 281.79,306.30 282.49,306.30 283.20,306.30 283.90,306.30 284.60,306.30 285.30,306.30 286.00,306.30 286.70,306.30" fill="none" stroke="#9a9aa6" stroke-width="1.35" stroke-dasharray="3.2,1.8" stroke-linejoin="round"/>
<polygon points="204.22,303.09 206.32,306.87 202.12,306.87" fill="#9a9aa6"/>
<line x1="215.89" y1="307.20" x2="215.89" y2="312.00" stroke="#9a9aa6" stroke-width="0.8" />
<line x1="214.59" y1="307.20" x2="217.19" y2="307.20" stroke="#9a9aa6" stroke-width="0.8" />
<line x1="214.59" y1="312.00" x2="217.19" y2="312.00" stroke="#9a9aa6" stroke-width="0.8" />
<polygon points="215.89,307.29 217.99,311.07 213.79,311.07" fill="#9a9aa6"/>
<polygon points="227.56,303.69 229.66,307.47 225.46,307.47" fill="#9a9aa6"/>
<polygon points="239.23,303.69 241.33,307.47 237.13,307.47" fill="#9a9aa6"/>
<polygon points="250.90,303.69 253.00,307.47 248.80,307.47" fill="#9a9aa6"/>
<polygon points="262.56,303.69 264.66,307.47 260.46,307.47" fill="#9a9aa6"/>
<line x1="274.23" y1="302.40" x2="274.23" y2="312.00" stroke="#9a9aa6" stroke-width="0.8" />
<line x1="272.93" y1="302.40" x2="275.53" y2="302.40" stroke="#9a9aa6" stroke-width="0.8" />
<line x1="272.93" y1="312.00" x2="275.53" y2="312.00" stroke="#9a9aa6" stroke-width="0.8" />
<polygon points="274.23,304.89 276.33,308.67 272.13,308.67" fill="#9a9aa6"/>
<polygon points="285.90,299.49 288.00,303.27 283.80,303.27" fill="#9a9aa6"/>
<polyline points="202.55,304.50 203.25,304.50 203.95,304.50 204.65,304.50 205.35,304.50 206.05,304.50 206.75,304.50 207.46,304.50 208.16,304.50 208.86,304.50 209.56,304.50 210.26,304.50 210.96,304.50 211.66,304.50 212.36,304.50 213.07,304.50 213.77,304.50 214.47,304.50 215.17,304.50 215.87,304.50 216.57,304.50 217.27,304.50 217.97,304.50 218.68,304.50 219.38,304.50 220.08,304.50 220.78,304.50 221.48,304.50 222.18,304.50 222.88,304.50 223.59,304.50 224.29,304.50 224.99,304.50 225.69,304.50 226.39,304.50 227.09,304.50 227.79,304.50 228.49,304.50 229.20,304.50 229.90,304.50 230.60,304.50 231.30,304.50 232.00,304.50 232.70,304.50 233.40,304.50 234.10,304.50 234.81,304.50 235.51,304.50 236.21,304.50 236.91,304.50 237.61,304.50 238.31,304.50 239.01,304.50 239.72,304.50 240.42,304.50 241.12,304.50 241.82,304.50 242.52,304.50 243.22,304.50 243.92,304.50 244.62,304.50 245.33,304.50 246.03,304.50 246.73,304.50 247.43,304.50 248.13,304.50 248.83,304.50 249.53,304.50 250.23,304.50 250.94,304.50 251.64,304.50 252.34,304.50 253.04,304.50 253.74,304.50 254.44,304.50 255.14,304.50 255.84,304.50 256.55,304.50 257.25,304.50 257.95,304.50 258.65,304.50 259.35,304.50 260.05,304.50 260.75,304.50 261.46,304.50 262.16,300.12 262.86,300.12 263.56,300.12 264.26,300.12 264.96,300.12 265.66,300.12 266.36,300.12 267.07,300.12 267.77,300.12 268.47,300.12 269.17,300.12 269.87,300.12 270.57,300.12 271.27,300.12 271.97,300.12 272.68,300.12 273.38,300.12 274.08,300.12 274.78,300.12 275.48,300.12 276.18,300.12 276.88,300.12 277.59,300.12 278.29,300.12 278.99,300.12 279.69,300.12 280.39,300.12 281.09,300.12 281.79,300.12 282.49,300.12 283.20,300.12 283.90,300.12 284.60,300.12 285.30,300.12 286.00,300.12 286.70,300.12" fill="none" stroke="#52288a" stroke-width="1.35"  stroke-linejoin="round"/>
<circle cx="204.22" cy="304.20" r="2.15" fill="#52288a"/>
<circle cx="215.89" cy="305.40" r="2.15" fill="#52288a"/>
<circle cx="227.56" cy="302.70" r="2.15" fill="#52288a"/>
<circle cx="239.23" cy="305.40" r="2.15" fill="#52288a"/>
<circle cx="250.90" cy="305.40" r="2.15" fill="#52288a"/>
<circle cx="262.56" cy="304.80" r="2.15" fill="#52288a"/>
<circle cx="274.23" cy="296.52" r="2.15" fill="#52288a"/>
<circle cx="285.90" cy="302.70" r="2.15" fill="#52288a"/>
<polyline points="202.55,305.70 203.25,305.70 203.95,305.70 204.65,305.70 205.35,305.70 206.05,305.70 206.75,305.70 207.46,305.70 208.16,305.70 208.86,305.70 209.56,305.70 210.26,305.70 210.96,305.70 211.66,305.70 212.36,305.70 213.07,305.70 213.77,305.70 214.47,305.70 215.17,305.70 215.87,305.70 216.57,305.70 217.27,305.70 217.97,305.70 218.68,305.70 219.38,305.70 220.08,305.70 220.78,305.70 221.48,305.70 222.18,305.70 222.88,305.70 223.59,305.70 224.29,305.70 224.99,305.70 225.69,305.70 226.39,305.70 227.09,305.70 227.79,305.70 228.49,305.70 229.20,305.70 229.90,305.70 230.60,305.70 231.30,305.70 232.00,305.70 232.70,305.70 233.40,305.70 234.10,305.70 234.81,305.70 235.51,305.70 236.21,305.70 236.91,305.70 237.61,305.70 238.31,305.70 239.01,305.70 239.72,305.70 240.42,305.70 241.12,305.70 241.82,305.70 242.52,305.70 243.22,305.70 243.92,305.70 244.62,305.70 245.33,305.70 246.03,305.70 246.73,305.70 247.43,305.70 248.13,305.70 248.83,305.70 249.53,305.70 250.23,305.70 250.94,305.70 251.64,305.70 252.34,305.70 253.04,305.70 253.74,305.70 254.44,305.70 255.14,305.70 255.84,305.70 256.55,305.70 257.25,305.70 257.95,305.70 258.65,305.70 259.35,305.70 260.05,305.70 260.75,305.70 261.46,305.70 262.16,305.70 262.86,305.70 263.56,305.70 264.26,305.70 264.96,305.70 265.66,305.70 266.36,305.70 267.07,305.70 267.77,305.70 268.47,305.70 269.17,305.70 269.87,305.70 270.57,305.70 271.27,305.70 271.97,305.70 272.68,305.70 273.38,305.70 274.08,305.70 274.78,305.70 275.48,305.70 276.18,305.70 276.88,305.70 277.59,305.70 278.29,305.70 278.99,305.70 279.69,305.70 280.39,305.70 281.09,305.70 281.79,305.70 282.49,305.70 283.20,305.70 283.90,305.70 284.60,305.70 285.30,305.70 286.00,305.70 286.70,305.70" fill="none" stroke="#b286c0" stroke-width="1.35"  stroke-linejoin="round"/>
<line x1="204.22" y1="309.72" x2="204.22" y2="313.32" stroke="#c39ccb" stroke-width="0.8" />
<line x1="202.92" y1="309.72" x2="205.52" y2="309.72" stroke="#c39ccb" stroke-width="0.8" />
<line x1="202.92" y1="313.32" x2="205.52" y2="313.32" stroke="#c39ccb" stroke-width="0.8" />
<rect x="202.07" y="309.37" width="4.30" height="4.30" fill="#c39ccb"/>
<line x1="215.89" y1="305.40" x2="215.89" y2="309.00" stroke="#c39ccb" stroke-width="0.8" />
<line x1="214.59" y1="305.40" x2="217.19" y2="305.40" stroke="#c39ccb" stroke-width="0.8" />
<line x1="214.59" y1="309.00" x2="217.19" y2="309.00" stroke="#c39ccb" stroke-width="0.8" />
<rect x="213.74" y="305.05" width="4.30" height="4.30" fill="#c39ccb"/>
<line x1="227.56" y1="305.70" x2="227.56" y2="308.10" stroke="#c39ccb" stroke-width="0.8" />
<line x1="226.26" y1="305.70" x2="228.86" y2="305.70" stroke="#c39ccb" stroke-width="0.8" />
<line x1="226.26" y1="308.10" x2="228.86" y2="308.10" stroke="#c39ccb" stroke-width="0.8" />
<rect x="225.41" y="304.75" width="4.30" height="4.30" fill="#c39ccb"/>
<rect x="237.08" y="300.25" width="4.30" height="4.30" fill="#c39ccb"/>
<line x1="250.90" y1="304.80" x2="250.90" y2="307.20" stroke="#c39ccb" stroke-width="0.8" />
<line x1="249.60" y1="304.80" x2="252.20" y2="304.80" stroke="#c39ccb" stroke-width="0.8" />
<line x1="249.60" y1="307.20" x2="252.20" y2="307.20" stroke="#c39ccb" stroke-width="0.8" />
<rect x="248.75" y="303.85" width="4.30" height="4.30" fill="#c39ccb"/>
<line x1="262.56" y1="297.24" x2="262.56" y2="300.84" stroke="#c39ccb" stroke-width="0.8" />
<line x1="261.26" y1="297.24" x2="263.86" y2="297.24" stroke="#c39ccb" stroke-width="0.8" />
<line x1="261.26" y1="300.84" x2="263.86" y2="300.84" stroke="#c39ccb" stroke-width="0.8" />
<rect x="260.41" y="296.89" width="4.30" height="4.30" fill="#c39ccb"/>
<line x1="274.23" y1="304.20" x2="274.23" y2="311.40" stroke="#c39ccb" stroke-width="0.8" />
<line x1="272.93" y1="304.20" x2="275.53" y2="304.20" stroke="#c39ccb" stroke-width="0.8" />
<line x1="272.93" y1="311.40" x2="275.53" y2="311.40" stroke="#c39ccb" stroke-width="0.8" />
<rect x="272.08" y="305.65" width="4.30" height="4.30" fill="#c39ccb"/>
<line x1="285.90" y1="301.44" x2="285.90" y2="305.04" stroke="#c39ccb" stroke-width="0.8" />
<line x1="284.60" y1="301.44" x2="287.20" y2="301.44" stroke="#c39ccb" stroke-width="0.8" />
<line x1="284.60" y1="305.04" x2="287.20" y2="305.04" stroke="#c39ccb" stroke-width="0.8" />
<rect x="283.75" y="301.09" width="4.30" height="4.30" fill="#c39ccb"/>
<line x1="30.20" y1="182.30" x2="30.20" y2="368.40" stroke="#6a6a6a" stroke-width="1.3" />
<line x1="46.00" y1="383.50" x2="305.80" y2="383.50" stroke="#5a5a5a" stroke-width="1.2" />
<text transform="translate(14.4,214.1) rotate(-90)" font-size="9.0" font-weight="700" text-anchor="middle" fill="#1e1e1e" textLength="43.2" lengthAdjust="spacingAndGlyphs" stroke="#1e1e1e" stroke-width="0.16">RPMI-7951</text>
<text transform="translate(14.3,328.8) rotate(-90)" font-size="9.05" font-weight="700" text-anchor="middle" fill="#1e1e1e" textLength="47.8" lengthAdjust="spacingAndGlyphs" stroke="#1e1e1e" stroke-width="0.16">SK-MEL-28</text>
<text transform="translate(25.4,277.4) rotate(-90)" font-size="9.2" text-anchor="middle" fill="#1e1e1e" stroke="#1e1e1e" stroke-width="0.16">% Viability</text>
<text x="172.70" y="392.30" font-size="9.0" font-weight="400" text-anchor="middle" fill="#1e1e1e" stroke="#1e1e1e" stroke-width="0.16" >ADC [ng/mL]</text>
<line x1="258.00" y1="338.00" x2="267.50" y2="338.00" stroke="#8a90a8" stroke-width="1.2" stroke-dasharray="2,1.2"/>
<polygon points="262.75,335.80 264.75,339.40 260.75,339.40" fill="#8a90a8"/>
<text x="269.90" y="340.38" font-size="6.6" font-weight="400" text-anchor="start" fill="#222" stroke="#222" stroke-width="0.16" >hIgG1-ADC</text>
<line x1="258.00" y1="348.00" x2="267.50" y2="348.00" stroke="#52288a" stroke-width="1.2" />
<circle cx="262.75" cy="348.00" r="2.00" fill="#52288a"/>
<text x="269.90" y="350.38" font-size="6.6" font-weight="400" text-anchor="start" fill="#222" stroke="#222" stroke-width="0.16" >mL49-ADC</text>
<line x1="258.00" y1="358.00" x2="267.50" y2="358.00" stroke="#c8a2cc" stroke-width="1.2" />
<rect x="260.85" y="356.10" width="3.80" height="3.80" fill="#c8a2cc"/>
<text x="269.90" y="360.38" font-size="6.6" font-weight="400" text-anchor="start" fill="#222" stroke="#222" stroke-width="0.16" >cL49-ADC</text>
<text x="317.60" y="169.40" font-size="11.6" font-weight="700" text-anchor="start" fill="#111" stroke="#111" stroke-width="0.22" >D</text>
<line x1="357.00" y1="189.40" x2="357.00" y2="316.20" stroke="#000" stroke-width="1.45" />
<line x1="356.40" y1="315.60" x2="509.70" y2="315.60" stroke="#000" stroke-width="1.45" />
<line x1="354.20" y1="315.60" x2="357.00" y2="315.60" stroke="#000" stroke-width="0.9" />
<text x="353.60" y="318.08" font-size="6.9" font-weight="700" text-anchor="end" fill="#222" stroke="#222" stroke-width="0.22" >0</text>
<line x1="354.20" y1="290.36" x2="357.00" y2="290.36" stroke="#000" stroke-width="0.9" />
<text x="353.60" y="292.84" font-size="6.9" font-weight="700" text-anchor="end" fill="#222" stroke="#222" stroke-width="0.22" >25</text>
<line x1="354.20" y1="265.12" x2="357.00" y2="265.12" stroke="#000" stroke-width="0.9" />
<text x="353.60" y="267.60" font-size="6.9" font-weight="700" text-anchor="end" fill="#222" stroke="#222" stroke-width="0.22" >50</text>
<line x1="354.20" y1="239.88" x2="357.00" y2="239.88" stroke="#000" stroke-width="0.9" />
<text x="353.60" y="242.36" font-size="6.9" font-weight="700" text-anchor="end" fill="#222" stroke="#222" stroke-width="0.22" >75</text>
<line x1="354.20" y1="214.64" x2="357.00" y2="214.64" stroke="#000" stroke-width="0.9" />
<text x="353.60" y="217.12" font-size="6.9" font-weight="700" text-anchor="end" fill="#222" stroke="#222" stroke-width="0.22" >100</text>
<line x1="354.20" y1="189.40" x2="357.00" y2="189.40" stroke="#000" stroke-width="0.9" />
<text x="353.60" y="191.88" font-size="6.9" font-weight="700" text-anchor="end" fill="#222" stroke="#222" stroke-width="0.22" >125</text>
<line x1="357.00" y1="315.60" x2="357.00" y2="318.40" stroke="#000" stroke-width="0.9" />
<text x="357.00" y="327.24" font-size="6.9" font-weight="700" text-anchor="middle" fill="#222" stroke="#222" stroke-width="0.22" >0.01</text>
<line x1="382.45" y1="315.60" x2="382.45" y2="318.40" stroke="#000" stroke-width="0.9" />
<text x="382.45" y="327.24" font-size="6.9" font-weight="700" text-anchor="middle" fill="#222" stroke="#222" stroke-width="0.22" >0.1</text>
<line x1="407.90" y1="315.60" x2="407.90" y2="318.40" stroke="#000" stroke-width="0.9" />
<text x="407.90" y="327.24" font-size="6.9" font-weight="700" text-anchor="middle" fill="#222" stroke="#222" stroke-width="0.22" >1</text>
<line x1="433.35" y1="315.60" x2="433.35" y2="318.40" stroke="#000" stroke-width="0.9" />
<text x="433.35" y="327.24" font-size="6.9" font-weight="700" text-anchor="middle" fill="#222" stroke="#222" stroke-width="0.22" >10</text>
<line x1="458.80" y1="315.60" x2="458.80" y2="318.40" stroke="#000" stroke-width="0.9" />
<text x="458.80" y="327.24" font-size="6.9" font-weight="700" text-anchor="middle" fill="#222" stroke="#222" stroke-width="0.22" >100</text>
<line x1="484.25" y1="315.60" x2="484.25" y2="318.40" stroke="#000" stroke-width="0.9" />
<text x="484.25" y="327.24" font-size="6.9" font-weight="700" text-anchor="middle" fill="#222" stroke="#222" stroke-width="0.22" >1,000</text>
<line x1="509.70" y1="315.60" x2="509.70" y2="318.40" stroke="#000" stroke-width="0.9" />
<text x="509.70" y="327.24" font-size="6.9" font-weight="700" text-anchor="middle" fill="#222" stroke="#222" stroke-width="0.22" >10,000</text>
<text x="430.50" y="187.40" font-size="9.2" font-weight="400" text-anchor="middle" fill="#1e1e1e" stroke="#1e1e1e" stroke-width="0.16" >A2058</text>
<text transform="translate(338.6,257.5) rotate(-90)" font-size="9.2" text-anchor="middle" fill="#1e1e1e" stroke="#1e1e1e" stroke-width="0.16">% Viability</text>
<text x="429.60" y="339.20" font-size="9.0" font-weight="400" text-anchor="middle" fill="#1e1e1e" stroke="#1e1e1e" stroke-width="0.16" >ADC [ng/mL]</text>
<polyline points="374.79,211.41 375.71,211.41 376.64,211.41 377.56,211.41 378.49,211.41 379.41,211.41 380.34,211.41 381.26,211.41 382.19,211.41 383.11,211.41 384.04,211.41 384.96,211.41 385.89,211.41 386.81,211.41 387.74,211.41 388.66,211.41 389.59,211.41 390.51,211.41 391.44,211.41 392.36,211.41 393.29,211.41 394.21,211.41 395.14,211.41 396.06,211.41 396.99,211.41 397.92,211.41 398.84,211.41 399.77,211.41 400.69,211.41 401.62,211.41 402.54,211.41 403.47,211.41 404.39,211.41 405.32,211.41 406.24,211.41 407.17,211.41 408.09,211.41 409.02,211.41 409.94,211.41 410.87,211.41 411.79,211.41 412.72,211.41 413.64,211.41 414.57,211.41 415.49,211.41 416.42,211.41 417.34,211.41 418.27,211.41 419.19,211.41 420.12,211.41 421.04,211.41 421.97,211.41 422.89,211.41 423.82,211.41 424.74,211.41 425.67,211.41 426.59,211.41 427.52,211.41 428.44,211.41 429.37,211.41 430.29,211.41 431.22,211.41 432.14,211.41 433.07,211.41 433.99,211.41 434.92,211.41 435.84,211.41 436.77,211.41 437.69,211.41 438.62,211.41 439.54,211.41 440.47,211.41 441.39,211.41 442.32,211.41 443.24,211.41 444.17,211.41 445.09,211.41 446.02,211.41 446.94,211.41 447.87,211.41 448.79,211.41 449.72,211.41 450.64,211.41 451.57,211.41 452.49,211.41 453.42,211.41 454.34,211.41 455.27,211.41 456.19,211.41 457.12,211.41 458.04,211.41 458.97,211.41 459.89,211.41 460.82,211.41 461.74,211.41 462.67,211.41 463.59,211.41 464.52,211.41 465.44,211.41 466.37,211.41 467.29,211.41 468.22,211.41 469.14,211.41 470.07,211.41 470.99,211.41 471.92,211.41 472.84,211.41 473.77,211.41 474.69,211.41 475.62,211.41 476.54,211.41 477.47,211.41 478.39,211.41 479.32,211.41 480.24,211.41 481.17,211.41 482.09,211.41 483.02,211.41 483.94,211.41 484.87,211.41 485.79,211.41" fill="none" stroke="#9898a8" stroke-width="1.45" stroke-dasharray="3,1.8" stroke-linejoin="round"/>
<polyline points="374.79,213.13 375.71,213.13 376.64,213.13 377.56,213.13 378.49,213.14 379.41,213.14 380.34,213.14 381.26,213.15 382.19,213.15 383.11,213.16 384.04,213.16 384.96,213.17 385.89,213.17 386.81,213.18 387.74,213.19 388.66,213.20 389.59,213.21 390.51,213.22 391.44,213.23 392.36,213.24 393.29,213.25 394.21,213.26 395.14,213.27 396.06,213.28 396.99,213.30 397.92,213.31 398.84,213.33 399.77,213.34 400.69,213.36 401.62,213.37 402.54,213.39 403.47,213.41 404.39,213.42 405.32,213.44 406.24,213.46 407.17,213.48 408.09,213.50 409.02,213.53 409.94,213.55 410.87,213.57 411.79,213.59 412.72,213.62 413.64,213.64 414.57,213.67 415.49,213.69 416.42,213.72 417.34,213.75 418.27,213.78 419.19,213.80 420.12,213.83 421.04,213.88 421.97,213.94 422.89,214.02 423.82,214.13 424.74,214.25 425.67,214.39 426.59,214.55 427.52,214.72 428.44,214.91 429.37,215.12 430.29,215.34 431.22,215.57 432.14,215.82 433.07,216.07 433.99,216.37 434.92,216.78 435.84,217.29 436.77,217.88 437.69,218.52 438.62,219.20 439.54,219.90 440.47,220.59 441.39,221.27 442.32,221.99 443.24,222.73 444.17,223.50 445.09,224.29 446.02,225.11 446.94,225.95 447.87,226.82 448.79,227.71 449.72,228.63 450.64,229.56 451.57,230.52 452.49,231.50 453.42,232.50 454.34,233.57 455.27,234.68 456.19,235.84 457.12,237.04 458.04,238.26 458.97,239.51 459.89,240.78 460.82,242.05 461.74,243.33 462.67,244.60 463.59,245.86 464.52,247.10 465.44,248.31 466.37,249.50 467.29,250.69 468.22,251.86 469.14,253.03 470.07,254.21 470.99,255.39 471.92,256.59 472.84,257.80 473.77,259.04 474.69,260.30 475.62,261.59 476.54,262.98 477.47,264.52 478.39,266.13 479.32,267.77 480.24,269.37 481.17,270.88 482.09,272.24 483.02,273.39 483.94,274.28 484.87,274.99 485.79,275.59" fill="none" stroke="#555" stroke-width="1.45"  stroke-linejoin="round"/>
<polyline points="374.79,215.14 375.71,215.14 376.64,215.15 377.56,215.15 378.49,215.15 379.41,215.15 380.34,215.15 381.26,215.15 382.19,215.15 383.11,215.15 384.04,215.15 384.96,215.15 385.89,215.15 386.81,215.15 387.74,215.15 388.66,215.15 389.59,215.15 390.51,215.15 391.44,215.15 392.36,215.15 393.29,215.15 394.21,215.15 395.14,215.15 396.06,215.15 396.99,215.16 397.92,215.16 398.84,215.16 399.77,215.16 400.69,215.16 401.62,215.16 402.54,215.16 403.47,215.16 404.39,215.17 405.32,215.17 406.24,215.17 407.17,215.17 408.09,215.17 409.02,215.17 409.94,215.18 410.87,215.18 411.79,215.18 412.72,215.18 413.64,215.18 414.57,215.19 415.49,215.19 416.42,215.19 417.34,215.19 418.27,215.20 419.19,215.20 420.12,215.20 421.04,215.21 421.97,215.21 422.89,215.21 423.82,215.22 424.74,215.22 425.67,215.22 426.59,215.23 427.52,215.23 428.44,215.23 429.37,215.24 430.29,215.24 431.22,215.25 432.14,215.25 433.07,215.25 433.99,215.26 434.92,215.26 435.84,215.27 436.77,215.27 437.69,215.28 438.62,215.28 439.54,215.29 440.47,215.29 441.39,215.30 442.32,215.30 443.24,215.31 444.17,215.32 445.09,215.32 446.02,215.33 446.94,215.33 447.87,215.34 448.79,215.35 449.72,215.42 450.64,215.59 451.57,215.84 452.49,216.17 453.42,216.57 454.34,217.03 455.27,217.54 456.19,218.09 457.12,218.80 458.04,219.87 458.97,221.23 459.89,222.81 460.82,224.54 461.74,226.48 462.67,228.99 463.59,231.89 464.52,234.96 465.44,237.99 466.37,240.76 467.29,243.42 468.22,246.08 469.14,248.64 470.07,251.02 470.99,253.11 471.92,255.03 472.84,256.87 473.77,258.60 474.69,260.15 475.62,261.49 476.54,262.55 477.47,263.41 478.39,264.19 479.32,264.89 480.24,265.52 481.17,266.09 482.09,266.61 483.02,267.08 483.94,267.51 484.87,267.90 485.79,268.24" fill="none" stroke="#c4c4c4" stroke-width="1.45"  stroke-linejoin="round"/>
<polyline points="374.79,223.44 375.71,223.39 376.64,223.33 377.56,223.27 378.49,223.20 379.41,223.13 380.34,223.04 381.26,222.95 382.19,222.84 383.11,222.73 384.04,222.61 384.96,222.47 385.89,222.32 386.81,222.17 387.74,221.99 388.66,221.81 389.59,221.61 390.51,221.40 391.44,221.18 392.36,220.93 393.29,220.58 394.21,220.09 395.14,219.51 396.06,218.85 396.99,218.14 397.92,217.41 398.84,216.69 399.77,215.99 400.69,215.33 401.62,214.62 402.54,213.88 403.47,213.13 404.39,212.38 405.32,211.67 406.24,211.03 407.17,210.46 408.09,210.00 409.02,209.57 409.94,209.15 410.87,208.77 411.79,208.41 412.72,208.09 413.64,207.80 414.57,207.57 415.49,207.38 416.42,207.23 417.34,207.08 418.27,206.94 419.19,206.82 420.12,206.72 421.04,206.64 421.97,206.58 422.89,206.56 423.82,206.57 424.74,206.57 425.67,206.59 426.59,206.60 427.52,206.62 428.44,206.64 429.37,206.67 430.29,206.69 431.22,206.72 432.14,206.75 433.07,206.78 433.99,206.81 434.92,206.84 435.84,206.87 436.77,206.89 437.69,206.91 438.62,206.93 439.54,206.95 440.47,206.96 441.39,206.97 442.32,206.98 443.24,206.98 444.17,206.99 445.09,207.00 446.02,207.01 446.94,207.01 447.87,207.02 448.79,207.03 449.72,207.03 450.64,207.04 451.57,207.04 452.49,207.05 453.42,207.06 454.34,207.06 455.27,207.07 456.19,207.07 457.12,207.08 458.04,207.08 458.97,207.09 459.89,207.09 460.82,207.10 461.74,207.10 462.67,207.11 463.59,207.11 464.52,207.12 465.44,207.12 466.37,207.12 467.29,207.13 468.22,207.13 469.14,207.14 470.07,207.14 470.99,207.14 471.92,207.14 472.84,207.15 473.77,207.15 474.69,207.15 475.62,207.15 476.54,207.16 477.47,207.16 478.39,207.16 479.32,207.16 480.24,207.16 481.17,207.17 482.09,207.17 483.02,207.17 483.94,207.17 484.87,207.17 485.79,207.17" fill="none" stroke="#111" stroke-width="1.45"  stroke-linejoin="round"/>
<polyline points="374.79,220.70 375.71,220.70 376.64,220.70 377.56,220.70 378.49,220.70 379.41,220.70 380.34,220.70 381.26,220.70 382.19,220.70 383.11,220.70 384.04,220.70 384.96,220.70 385.89,220.70 386.81,220.71 387.74,220.71 388.66,220.71 389.59,220.71 390.51,220.71 391.44,220.72 392.36,220.72 393.29,220.73 394.21,220.73 395.14,220.74 396.06,220.75 396.99,220.75 397.92,220.77 398.84,220.78 399.77,220.80 400.69,220.81 401.62,220.84 402.54,220.87 403.47,220.90 404.39,220.94 405.32,220.99 406.24,221.04 407.17,221.11 408.09,221.19 409.02,221.29 409.94,221.40 410.87,221.54 411.79,221.70 412.72,221.90 413.64,222.13 414.57,222.41 415.49,222.74 416.42,223.13 417.34,223.59 418.27,224.14 419.19,224.79 420.12,225.56 421.04,226.45 421.97,227.50 422.89,228.72 423.82,230.14 424.74,231.77 425.67,233.63 426.59,235.75 427.52,238.14 428.44,240.81 429.37,243.75 430.29,246.96 431.22,250.41 432.14,254.08 433.07,257.92 433.99,261.88 434.92,265.89 435.84,269.89 436.77,273.82 437.69,277.62 438.62,281.24 439.54,284.64 440.47,287.78 441.39,290.65 442.32,293.24 443.24,295.56 444.17,297.62 445.09,299.42 446.02,300.99 446.94,302.36 447.87,303.53 448.79,304.54 449.72,305.40 450.64,306.13 451.57,306.75 452.49,307.28 453.42,307.72 454.34,308.10 455.27,308.41 456.19,308.68 457.12,308.90 458.04,309.09 458.97,309.24 459.89,309.37 460.82,309.48 461.74,309.58 462.67,309.65 463.59,309.72 464.52,309.77 465.44,309.82 466.37,309.86 467.29,309.89 468.22,309.91 469.14,309.94 470.07,309.95 470.99,309.97 471.92,309.98 472.84,309.99 473.77,310.00 474.69,310.01 475.62,310.02 476.54,310.02 477.47,310.03 478.39,310.03 479.32,310.03 480.24,310.03 481.17,310.04 482.09,310.04 483.02,310.04 483.94,310.04 484.87,310.04 485.79,310.04" fill="none" stroke="#52288a" stroke-width="1.45"  stroke-linejoin="round"/>
<polyline points="374.79,220.71 375.71,220.71 376.64,220.72 377.56,220.72 378.49,220.73 379.41,220.73 380.34,220.74 381.26,220.74 382.19,220.75 383.11,220.76 384.04,220.77 384.96,220.78 385.89,220.80 386.81,220.82 387.74,220.84 388.66,220.86 389.59,220.89 390.51,220.93 391.44,220.97 392.36,221.01 393.29,221.07 394.21,221.14 395.14,221.21 396.06,221.30 396.99,221.41 397.92,221.54 398.84,221.68 399.77,221.86 400.69,222.06 401.62,222.29 402.54,222.57 403.47,222.90 404.39,223.27 405.32,223.71 406.24,224.23 407.17,224.82 408.09,225.51 409.02,226.31 409.94,227.23 410.87,228.28 411.79,229.48 412.72,230.85 413.64,232.41 414.57,234.15 415.49,236.10 416.42,238.27 417.34,240.65 418.27,243.25 419.19,246.05 420.12,249.04 421.04,252.20 421.97,255.50 422.89,258.89 423.82,262.33 424.74,265.79 425.67,269.21 426.59,272.55 427.52,275.77 428.44,278.84 429.37,281.73 430.29,284.42 431.22,286.90 432.14,289.16 433.07,291.21 433.99,293.04 434.92,294.68 435.84,296.13 436.77,297.41 437.69,298.53 438.62,299.50 439.54,300.35 440.47,301.09 441.39,301.72 442.32,302.27 443.24,302.74 444.17,303.15 445.09,303.49 446.02,303.79 446.94,304.04 447.87,304.26 448.79,304.44 449.72,304.60 450.64,304.74 451.57,304.85 452.49,304.95 453.42,305.03 454.34,305.10 455.27,305.16 456.19,305.21 457.12,305.26 458.04,305.29 458.97,305.33 459.89,305.35 460.82,305.38 461.74,305.39 462.67,305.41 463.59,305.43 464.52,305.44 465.44,305.45 466.37,305.46 467.29,305.46 468.22,305.47 469.14,305.47 470.07,305.48 470.99,305.48 471.92,305.49 472.84,305.49 473.77,305.49 474.69,305.49 475.62,305.49 476.54,305.50 477.47,305.50 478.39,305.50 479.32,305.50 480.24,305.50 481.17,305.50 482.09,305.50 483.02,305.50 483.94,305.50 484.87,305.50 485.79,305.50" fill="none" stroke="#b286c0" stroke-width="1.45"  stroke-linejoin="round"/>
<line x1="376.99" y1="216.66" x2="376.99" y2="222.72" stroke="#9898a8" stroke-width="0.8" />
<line x1="375.69" y1="216.66" x2="378.29" y2="216.66" stroke="#9898a8" stroke-width="0.8" />
<line x1="375.69" y1="222.72" x2="378.29" y2="222.72" stroke="#9898a8" stroke-width="0.8" />
<polygon points="376.99,217.38 379.09,221.16 374.89,221.16" fill="#9898a8"/>
<line x1="392.32" y1="207.57" x2="392.32" y2="213.63" stroke="#9898a8" stroke-width="0.8" />
<line x1="391.02" y1="207.57" x2="393.62" y2="207.57" stroke="#9898a8" stroke-width="0.8" />
<line x1="391.02" y1="213.63" x2="393.62" y2="213.63" stroke="#9898a8" stroke-width="0.8" />
<polygon points="392.32,208.29 394.42,212.07 390.22,212.07" fill="#9898a8"/>
<line x1="407.64" y1="208.58" x2="407.64" y2="214.64" stroke="#9898a8" stroke-width="0.8" />
<line x1="406.34" y1="208.58" x2="408.94" y2="208.58" stroke="#9898a8" stroke-width="0.8" />
<line x1="406.34" y1="214.64" x2="408.94" y2="214.64" stroke="#9898a8" stroke-width="0.8" />
<polygon points="407.64,209.30 409.74,213.08 405.54,213.08" fill="#9898a8"/>
<polygon points="422.96,209.30 425.06,213.08 420.86,213.08" fill="#9898a8"/>
<polygon points="438.28,208.29 440.38,212.07 436.18,212.07" fill="#9898a8"/>
<polygon points="453.61,208.29 455.71,212.07 451.51,212.07" fill="#9898a8"/>
<polygon points="468.93,206.27 471.03,210.05 466.83,210.05" fill="#9898a8"/>
<line x1="484.25" y1="208.58" x2="484.25" y2="212.62" stroke="#9898a8" stroke-width="0.8" />
<line x1="482.95" y1="208.58" x2="485.55" y2="208.58" stroke="#9898a8" stroke-width="0.8" />
<line x1="482.95" y1="212.62" x2="485.55" y2="212.62" stroke="#9898a8" stroke-width="0.8" />
<polygon points="484.25,208.29 486.35,212.07 482.15,212.07" fill="#9898a8"/>
<line x1="376.99" y1="216.66" x2="376.99" y2="226.76" stroke="#555" stroke-width="0.8" />
<line x1="375.69" y1="216.66" x2="378.29" y2="216.66" stroke="#555" stroke-width="0.8" />
<line x1="375.69" y1="226.76" x2="378.29" y2="226.76" stroke="#555" stroke-width="0.8" />
<rect x="374.99" y="219.71" width="4.00" height="4.00" fill="#fff" stroke="#555" stroke-width="1.2"/>
<rect x="390.32" y="218.70" width="4.00" height="4.00" fill="#fff" stroke="#555" stroke-width="1.2"/>
<line x1="407.64" y1="204.54" x2="407.64" y2="212.62" stroke="#555" stroke-width="0.8" />
<line x1="406.34" y1="204.54" x2="408.94" y2="204.54" stroke="#555" stroke-width="0.8" />
<line x1="406.34" y1="212.62" x2="408.94" y2="212.62" stroke="#555" stroke-width="0.8" />
<rect x="405.64" y="206.58" width="4.00" height="4.00" fill="#fff" stroke="#555" stroke-width="1.2"/>
<rect x="420.96" y="209.61" width="4.00" height="4.00" fill="#fff" stroke="#555" stroke-width="1.2"/>
<rect x="436.28" y="209.61" width="4.00" height="4.00" fill="#fff" stroke="#555" stroke-width="1.2"/>
<line x1="453.61" y1="236.85" x2="453.61" y2="242.91" stroke="#555" stroke-width="0.8" />
<line x1="452.31" y1="236.85" x2="454.91" y2="236.85" stroke="#555" stroke-width="0.8" />
<line x1="452.31" y1="242.91" x2="454.91" y2="242.91" stroke="#555" stroke-width="0.8" />
<rect x="451.61" y="237.88" width="4.00" height="4.00" fill="#fff" stroke="#555" stroke-width="1.2"/>
<line x1="468.93" y1="245.94" x2="468.93" y2="254.01" stroke="#555" stroke-width="0.8" />
<line x1="467.63" y1="245.94" x2="470.23" y2="245.94" stroke="#555" stroke-width="0.8" />
<line x1="467.63" y1="254.01" x2="470.23" y2="254.01" stroke="#555" stroke-width="0.8" />
<rect x="466.93" y="247.98" width="4.00" height="4.00" fill="#fff" stroke="#555" stroke-width="1.2"/>
<line x1="484.25" y1="271.18" x2="484.25" y2="279.25" stroke="#555" stroke-width="0.8" />
<line x1="482.95" y1="271.18" x2="485.55" y2="271.18" stroke="#555" stroke-width="0.8" />
<line x1="482.95" y1="279.25" x2="485.55" y2="279.25" stroke="#555" stroke-width="0.8" />
<rect x="482.25" y="273.22" width="4.00" height="4.00" fill="#fff" stroke="#555" stroke-width="1.2"/>
<polygon points="376.99,221.57 379.15,223.73 376.99,225.89 374.83,223.73" fill="#fff" stroke="#c4c4c4" stroke-width="1.3"/>
<polygon points="392.32,212.48 394.48,214.64 392.32,216.80 390.16,214.64" fill="#fff" stroke="#c4c4c4" stroke-width="1.3"/>
<polygon points="407.64,212.48 409.80,214.64 407.64,216.80 405.48,214.64" fill="#fff" stroke="#c4c4c4" stroke-width="1.3"/>
<polygon points="422.96,211.47 425.12,213.63 422.96,215.79 420.80,213.63" fill="#fff" stroke="#c4c4c4" stroke-width="1.3"/>
<polygon points="438.28,212.48 440.44,214.64 438.28,216.80 436.12,214.64" fill="#fff" stroke="#c4c4c4" stroke-width="1.3"/>
<polygon points="453.61,213.49 455.77,215.65 453.61,217.81 451.45,215.65" fill="#fff" stroke="#c4c4c4" stroke-width="1.3"/>
<polygon points="468.93,239.74 471.09,241.90 468.93,244.06 466.77,241.90" fill="#fff" stroke="#c4c4c4" stroke-width="1.3"/>
<line x1="484.25" y1="259.06" x2="484.25" y2="271.18" stroke="#c4c4c4" stroke-width="0.8" />
<line x1="482.95" y1="259.06" x2="485.55" y2="259.06" stroke="#c4c4c4" stroke-width="0.8" />
<line x1="482.95" y1="271.18" x2="485.55" y2="271.18" stroke="#c4c4c4" stroke-width="0.8" />
<polygon points="484.25,262.96 486.41,265.12 484.25,267.28 482.09,265.12" fill="#fff" stroke="#c4c4c4" stroke-width="1.3"/>
<line x1="376.99" y1="216.66" x2="376.99" y2="228.77" stroke="#111" stroke-width="0.8" />
<line x1="375.69" y1="216.66" x2="378.29" y2="216.66" stroke="#111" stroke-width="0.8" />
<line x1="375.69" y1="228.77" x2="378.29" y2="228.77" stroke="#111" stroke-width="0.8" />
<circle cx="376.99" cy="222.72" r="2.10" fill="#fff" stroke="#111" stroke-width="1.25"/>
<line x1="392.32" y1="205.55" x2="392.32" y2="221.71" stroke="#111" stroke-width="0.8" />
<line x1="391.02" y1="205.55" x2="393.62" y2="205.55" stroke="#111" stroke-width="0.8" />
<line x1="391.02" y1="221.71" x2="393.62" y2="221.71" stroke="#111" stroke-width="0.8" />
<circle cx="392.32" cy="213.63" r="2.10" fill="#fff" stroke="#111" stroke-width="1.25"/>
<line x1="407.64" y1="205.55" x2="407.64" y2="211.61" stroke="#111" stroke-width="0.8" />
<line x1="406.34" y1="205.55" x2="408.94" y2="205.55" stroke="#111" stroke-width="0.8" />
<line x1="406.34" y1="211.61" x2="408.94" y2="211.61" stroke="#111" stroke-width="0.8" />
<circle cx="407.64" cy="208.58" r="2.10" fill="#fff" stroke="#111" stroke-width="1.25"/>
<circle cx="422.96" cy="204.54" r="2.10" fill="#fff" stroke="#111" stroke-width="1.25"/>
<line x1="438.28" y1="203.53" x2="438.28" y2="209.59" stroke="#111" stroke-width="0.8" />
<line x1="436.98" y1="203.53" x2="439.58" y2="203.53" stroke="#111" stroke-width="0.8" />
<line x1="436.98" y1="209.59" x2="439.58" y2="209.59" stroke="#111" stroke-width="0.8" />
<circle cx="438.28" cy="206.56" r="2.10" fill="#fff" stroke="#111" stroke-width="1.25"/>
<circle cx="453.61" cy="206.56" r="2.10" fill="#fff" stroke="#111" stroke-width="1.25"/>
<line x1="468.93" y1="202.52" x2="468.93" y2="212.62" stroke="#111" stroke-width="0.8" />
<line x1="467.63" y1="202.52" x2="470.23" y2="202.52" stroke="#111" stroke-width="0.8" />
<line x1="467.63" y1="212.62" x2="470.23" y2="212.62" stroke="#111" stroke-width="0.8" />
<circle cx="468.93" cy="207.57" r="2.10" fill="#fff" stroke="#111" stroke-width="1.25"/>
<line x1="484.25" y1="209.59" x2="484.25" y2="213.63" stroke="#111" stroke-width="0.8" />
<line x1="482.95" y1="209.59" x2="485.55" y2="209.59" stroke="#111" stroke-width="0.8" />
<line x1="482.95" y1="213.63" x2="485.55" y2="213.63" stroke="#111" stroke-width="0.8" />
<circle cx="484.25" cy="211.61" r="2.10" fill="#fff" stroke="#111" stroke-width="1.25"/>
<line x1="376.99" y1="224.74" x2="376.99" y2="232.81" stroke="#52288a" stroke-width="0.8" />
<line x1="375.69" y1="224.74" x2="378.29" y2="224.74" stroke="#52288a" stroke-width="0.8" />
<line x1="375.69" y1="232.81" x2="378.29" y2="232.81" stroke="#52288a" stroke-width="0.8" />
<circle cx="376.99" cy="228.77" r="2.15" fill="#52288a"/>
<line x1="392.32" y1="201.92" x2="392.32" y2="226.15" stroke="#52288a" stroke-width="0.8" />
<line x1="391.02" y1="201.92" x2="393.62" y2="201.92" stroke="#52288a" stroke-width="0.8" />
<line x1="391.02" y1="226.15" x2="393.62" y2="226.15" stroke="#52288a" stroke-width="0.8" />
<circle cx="392.32" cy="214.03" r="2.15" fill="#52288a"/>
<line x1="407.64" y1="216.66" x2="407.64" y2="226.76" stroke="#52288a" stroke-width="0.8" />
<line x1="406.34" y1="216.66" x2="408.94" y2="216.66" stroke="#52288a" stroke-width="0.8" />
<line x1="406.34" y1="226.76" x2="408.94" y2="226.76" stroke="#52288a" stroke-width="0.8" />
<circle cx="407.64" cy="221.71" r="2.15" fill="#52288a"/>
<line x1="422.96" y1="218.38" x2="422.96" y2="230.49" stroke="#52288a" stroke-width="0.8" />
<line x1="421.66" y1="218.38" x2="424.26" y2="218.38" stroke="#52288a" stroke-width="0.8" />
<line x1="421.66" y1="230.49" x2="424.26" y2="230.49" stroke="#52288a" stroke-width="0.8" />
<circle cx="422.96" cy="224.43" r="2.15" fill="#52288a"/>
<line x1="438.28" y1="271.18" x2="438.28" y2="275.22" stroke="#52288a" stroke-width="0.8" />
<line x1="436.98" y1="271.18" x2="439.58" y2="271.18" stroke="#52288a" stroke-width="0.8" />
<line x1="436.98" y1="275.22" x2="439.58" y2="275.22" stroke="#52288a" stroke-width="0.8" />
<circle cx="438.28" cy="273.20" r="2.15" fill="#52288a"/>
<circle cx="453.61" cy="305.50" r="2.15" fill="#52288a"/>
<circle cx="468.93" cy="310.05" r="2.15" fill="#52288a"/>
<circle cx="484.25" cy="310.05" r="2.15" fill="#52288a"/>
<line x1="376.99" y1="221.71" x2="376.99" y2="227.76" stroke="#c39ccb" stroke-width="0.8" />
<line x1="375.69" y1="221.71" x2="378.29" y2="221.71" stroke="#c39ccb" stroke-width="0.8" />
<line x1="375.69" y1="227.76" x2="378.29" y2="227.76" stroke="#c39ccb" stroke-width="0.8" />
<rect x="374.99" y="222.74" width="4.00" height="4.00" fill="#c39ccb"/>
<line x1="392.32" y1="203.53" x2="392.32" y2="219.69" stroke="#c39ccb" stroke-width="0.8" />
<line x1="391.02" y1="203.53" x2="393.62" y2="203.53" stroke="#c39ccb" stroke-width="0.8" />
<line x1="391.02" y1="219.69" x2="393.62" y2="219.69" stroke="#c39ccb" stroke-width="0.8" />
<rect x="390.32" y="209.61" width="4.00" height="4.00" fill="#c39ccb"/>
<line x1="407.64" y1="214.64" x2="407.64" y2="226.76" stroke="#c39ccb" stroke-width="0.8" />
<line x1="406.34" y1="214.64" x2="408.94" y2="214.64" stroke="#c39ccb" stroke-width="0.8" />
<line x1="406.34" y1="226.76" x2="408.94" y2="226.76" stroke="#c39ccb" stroke-width="0.8" />
<rect x="405.64" y="218.70" width="4.00" height="4.00" fill="#c39ccb"/>
<line x1="422.96" y1="258.05" x2="422.96" y2="262.09" stroke="#c39ccb" stroke-width="0.8" />
<line x1="421.66" y1="258.05" x2="424.26" y2="258.05" stroke="#c39ccb" stroke-width="0.8" />
<line x1="421.66" y1="262.09" x2="424.26" y2="262.09" stroke="#c39ccb" stroke-width="0.8" />
<rect x="420.96" y="258.07" width="4.00" height="4.00" fill="#c39ccb"/>
<line x1="438.28" y1="298.03" x2="438.28" y2="300.05" stroke="#c39ccb" stroke-width="0.8" />
<line x1="436.98" y1="298.03" x2="439.58" y2="298.03" stroke="#c39ccb" stroke-width="0.8" />
<line x1="436.98" y1="300.05" x2="439.58" y2="300.05" stroke="#c39ccb" stroke-width="0.8" />
<rect x="436.28" y="297.04" width="4.00" height="4.00" fill="#c39ccb"/>
<rect x="451.61" y="303.50" width="4.00" height="4.00" fill="#c39ccb"/>
<rect x="466.93" y="303.50" width="4.00" height="4.00" fill="#c39ccb"/>
<rect x="482.25" y="303.50" width="4.00" height="4.00" fill="#c39ccb"/>
<line x1="365.50" y1="354.80" x2="377.00" y2="354.80" stroke="#9898a8" stroke-width="1.2" stroke-dasharray="2.5,1.5"/>
<polygon points="371.25,352.27 373.55,356.41 368.95,356.41" fill="#9898a8"/>
<text x="381.60" y="357.54" font-size="7.6" font-weight="400" text-anchor="start" fill="#222" stroke="#222" stroke-width="0.16" >hIgG1-ADC</text>
<line x1="365.50" y1="367.40" x2="377.00" y2="367.40" stroke="#52288a" stroke-width="1.2" />
<circle cx="371.25" cy="367.40" r="2.50" fill="#52288a"/>
<text x="381.60" y="370.14" font-size="7.6" font-weight="400" text-anchor="start" fill="#222" stroke="#222" stroke-width="0.16" >mL49-ADC</text>
<line x1="365.50" y1="380.60" x2="377.00" y2="380.60" stroke="#b286c0" stroke-width="1.2" />
<rect x="368.95" y="378.30" width="4.60" height="4.60" fill="#c39ccb"/>
<text x="381.60" y="383.34" font-size="7.6" font-weight="400" text-anchor="start" fill="#222" stroke="#222" stroke-width="0.16" >cL49-ADC</text>
<line x1="442.50" y1="354.80" x2="454.50" y2="354.80" stroke="#111" stroke-width="1.2" />
<circle cx="448.50" cy="354.80" r="2.40" fill="#fff" stroke="#111" stroke-width="1.25"/>
<text x="459.10" y="357.54" font-size="7.6" font-weight="400" text-anchor="start" fill="#222" stroke="#222" stroke-width="0.16" >mAb1-ADC</text>
<line x1="442.50" y1="367.40" x2="454.50" y2="367.40" stroke="#555" stroke-width="1.2" />
<rect x="446.30" y="365.20" width="4.40" height="4.40" fill="#fff" stroke="#555" stroke-width="1.2"/>
<text x="459.10" y="370.14" font-size="7.6" font-weight="400" text-anchor="start" fill="#222" stroke="#222" stroke-width="0.16" >mAb2-ADC</text>
<line x1="442.50" y1="380.60" x2="454.50" y2="380.60" stroke="#c4c4c4" stroke-width="1.2" />
<polygon points="448.50,378.20 450.90,380.60 448.50,383.00 446.10,380.60" fill="#fff" stroke="#c4c4c4" stroke-width="1.3"/>
<text x="459.10" y="383.34" font-size="7.6" font-weight="400" text-anchor="start" fill="#222" stroke="#222" stroke-width="0.16" >mAb3-ADC</text>
<text x="1.80" y="404.30" font-size="11.6" font-weight="700" text-anchor="start" fill="#111" stroke="#111" stroke-width="0.22" >E</text>
<line x1="27.80" y1="410.20" x2="27.80" y2="509.70" stroke="#888" stroke-width="1.0" />
<line x1="24.80" y1="509.70" x2="27.80" y2="509.70" stroke="#888" stroke-width="0.8" />
<line x1="26.00" y1="498.70" x2="27.80" y2="498.70" stroke="#888" stroke-width="0.8" />
<line x1="26.00" y1="487.70" x2="27.80" y2="487.70" stroke="#888" stroke-width="0.8" />
<line x1="26.00" y1="476.70" x2="27.80" y2="476.70" stroke="#888" stroke-width="0.8" />
<line x1="24.80" y1="465.70" x2="27.80" y2="465.70" stroke="#888" stroke-width="0.8" />
<line x1="26.00" y1="454.70" x2="27.80" y2="454.70" stroke="#888" stroke-width="0.8" />
<line x1="26.00" y1="443.70" x2="27.80" y2="443.70" stroke="#888" stroke-width="0.8" />
<line x1="26.00" y1="432.70" x2="27.80" y2="432.70" stroke="#888" stroke-width="0.8" />
<line x1="24.80" y1="421.70" x2="27.80" y2="421.70" stroke="#888" stroke-width="0.8" />
<line x1="26.00" y1="410.70" x2="27.80" y2="410.70" stroke="#888" stroke-width="0.8" />
<text x="23.80" y="424.29" font-size="7.2" font-weight="400" text-anchor="end" fill="#333" stroke="#333" stroke-width="0.16" >0.4</text>
<text x="23.80" y="468.29" font-size="7.2" font-weight="400" text-anchor="end" fill="#333" stroke="#333" stroke-width="0.16" >0.2</text>
<text x="23.80" y="512.29" font-size="7.2" font-weight="400" text-anchor="end" fill="#333" stroke="#333" stroke-width="0.16" >0</text>
<line x1="27.80" y1="509.70" x2="256.50" y2="509.70" stroke="#888" stroke-width="1.0" />
<line x1="28.34" y1="509.70" x2="28.34" y2="511.50" stroke="#888" stroke-width="0.7" />
<line x1="31.75" y1="509.70" x2="31.75" y2="512.70" stroke="#888" stroke-width="0.7" />
<line x1="35.16" y1="509.70" x2="35.16" y2="511.50" stroke="#888" stroke-width="0.7" />
<line x1="38.57" y1="509.70" x2="38.57" y2="511.50" stroke="#888" stroke-width="0.7" />
<line x1="41.98" y1="509.70" x2="41.98" y2="511.50" stroke="#888" stroke-width="0.7" />
<line x1="45.39" y1="509.70" x2="45.39" y2="511.50" stroke="#888" stroke-width="0.7" />
<line x1="48.80" y1="509.70" x2="48.80" y2="512.70" stroke="#888" stroke-width="0.7" />
<line x1="52.21" y1="509.70" x2="52.21" y2="511.50" stroke="#888" stroke-width="0.7" />
<line x1="55.62" y1="509.70" x2="55.62" y2="511.50" stroke="#888" stroke-width="0.7" />
<line x1="59.03" y1="509.70" x2="59.03" y2="511.50" stroke="#888" stroke-width="0.7" />
<line x1="62.44" y1="509.70" x2="62.44" y2="511.50" stroke="#888" stroke-width="0.7" />
<line x1="65.85" y1="509.70" x2="65.85" y2="512.70" stroke="#888" stroke-width="0.7" />
<line x1="69.26" y1="509.70" x2="69.26" y2="511.50" stroke="#888" stroke-width="0.7" />
<line x1="72.67" y1="509.70" x2="72.67" y2="511.50" stroke="#888" stroke-width="0.7" />
<line x1="76.08" y1="509.70" x2="76.08" y2="511.50" stroke="#888" stroke-width="0.7" />
<line x1="79.49" y1="509.70" x2="79.49" y2="511.50" stroke="#888" stroke-width="0.7" />
<line x1="82.90" y1="509.70" x2="82.90" y2="512.70" stroke="#888" stroke-width="0.7" />
<line x1="86.31" y1="509.70" x2="86.31" y2="511.50" stroke="#888" stroke-width="0.7" />
<line x1="89.72" y1="509.70" x2="89.72" y2="511.50" stroke="#888" stroke-width="0.7" />
<line x1="93.13" y1="509.70" x2="93.13" y2="511.50" stroke="#888" stroke-width="0.7" />
<line x1="96.54" y1="509.70" x2="96.54" y2="511.50" stroke="#888" stroke-width="0.7" />
<line x1="99.95" y1="509.70" x2="99.95" y2="512.70" stroke="#888" stroke-width="0.7" />
<line x1="103.36" y1="509.70" x2="103.36" y2="511.50" stroke="#888" stroke-width="0.7" />
<line x1="106.77" y1="509.70" x2="106.77" y2="511.50" stroke="#888" stroke-width="0.7" />
<line x1="110.18" y1="509.70" x2="110.18" y2="511.50" stroke="#888" stroke-width="0.7" />
<line x1="113.59" y1="509.70" x2="113.59" y2="511.50" stroke="#888" stroke-width="0.7" />
<line x1="117.00" y1="509.70" x2="117.00" y2="512.70" stroke="#888" stroke-width="0.7" />
<line x1="120.41" y1="509.70" x2="120.41" y2="511.50" stroke="#888" stroke-width="0.7" />
<line x1="123.82" y1="509.70" x2="123.82" y2="511.50" stroke="#888" stroke-width="0.7" />
<line x1="127.23" y1="509.70" x2="127.23" y2="511.50" stroke="#888" stroke-width="0.7" />
<line x1="130.64" y1="509.70" x2="130.64" y2="511.50" stroke="#888" stroke-width="0.7" />
<line x1="134.05" y1="509.70" x2="134.05" y2="512.70" stroke="#888" stroke-width="0.7" />
<line x1="137.46" y1="509.70" x2="137.46" y2="511.50" stroke="#888" stroke-width="0.7" />
<line x1="140.87" y1="509.70" x2="140.87" y2="511.50" stroke="#888" stroke-width="0.7" />
<line x1="144.28" y1="509.70" x2="144.28" y2="511.50" stroke="#888" stroke-width="0.7" />
<line x1="147.69" y1="509.70" x2="147.69" y2="511.50" stroke="#888" stroke-width="0.7" />
<line x1="151.10" y1="509.70" x2="151.10" y2="512.70" stroke="#888" stroke-width="0.7" />
<line x1="154.51" y1="509.70" x2="154.51" y2="511.50" stroke="#888" stroke-width="0.7" />
<line x1="157.92" y1="509.70" x2="157.92" y2="511.50" stroke="#888" stroke-width="0.7" />
<line x1="161.33" y1="509.70" x2="161.33" y2="511.50" stroke="#888" stroke-width="0.7" />
<line x1="164.74" y1="509.70" x2="164.74" y2="511.50" stroke="#888" stroke-width="0.7" />
<line x1="168.15" y1="509.70" x2="168.15" y2="512.70" stroke="#888" stroke-width="0.7" />
<line x1="171.56" y1="509.70" x2="171.56" y2="511.50" stroke="#888" stroke-width="0.7" />
<line x1="174.97" y1="509.70" x2="174.97" y2="511.50" stroke="#888" stroke-width="0.7" />
<line x1="178.38" y1="509.70" x2="178.38" y2="511.50" stroke="#888" stroke-width="0.7" />
<line x1="181.79" y1="509.70" x2="181.79" y2="511.50" stroke="#888" stroke-width="0.7" />
<line x1="185.20" y1="509.70" x2="185.20" y2="512.70" stroke="#888" stroke-width="0.7" />
<line x1="188.61" y1="509.70" x2="188.61" y2="511.50" stroke="#888" stroke-width="0.7" />
<line x1="192.02" y1="509.70" x2="192.02" y2="511.50" stroke="#888" stroke-width="0.7" />
<line x1="195.43" y1="509.70" x2="195.43" y2="511.50" stroke="#888" stroke-width="0.7" />
<line x1="198.84" y1="509.70" x2="198.84" y2="511.50" stroke="#888" stroke-width="0.7" />
<line x1="202.25" y1="509.70" x2="202.25" y2="512.70" stroke="#888" stroke-width="0.7" />
<line x1="205.66" y1="509.70" x2="205.66" y2="511.50" stroke="#888" stroke-width="0.7" />
<line x1="209.07" y1="509.70" x2="209.07" y2="511.50" stroke="#888" stroke-width="0.7" />
<line x1="212.48" y1="509.70" x2="212.48" y2="511.50" stroke="#888" stroke-width="0.7" />
<line x1="215.89" y1="509.70" x2="215.89" y2="511.50" stroke="#888" stroke-width="0.7" />
<line x1="219.30" y1="509.70" x2="219.30" y2="512.70" stroke="#888" stroke-width="0.7" />
<line x1="222.71" y1="509.70" x2="222.71" y2="511.50" stroke="#888" stroke-width="0.7" />
<line x1="226.12" y1="509.70" x2="226.12" y2="511.50" stroke="#888" stroke-width="0.7" />
<line x1="229.53" y1="509.70" x2="229.53" y2="511.50" stroke="#888" stroke-width="0.7" />
<line x1="232.94" y1="509.70" x2="232.94" y2="511.50" stroke="#888" stroke-width="0.7" />
<line x1="236.35" y1="509.70" x2="236.35" y2="512.70" stroke="#888" stroke-width="0.7" />
<line x1="239.76" y1="509.70" x2="239.76" y2="511.50" stroke="#888" stroke-width="0.7" />
<line x1="243.17" y1="509.70" x2="243.17" y2="511.50" stroke="#888" stroke-width="0.7" />
<line x1="246.58" y1="509.70" x2="246.58" y2="511.50" stroke="#888" stroke-width="0.7" />
<line x1="249.99" y1="509.70" x2="249.99" y2="511.50" stroke="#888" stroke-width="0.7" />
<line x1="253.40" y1="509.70" x2="253.40" y2="512.70" stroke="#888" stroke-width="0.7" />
<text x="31.75" y="520.60" font-size="7.2" font-weight="400" text-anchor="middle" fill="#333" stroke="#333" stroke-width="0.16" >-50</text>
<text x="48.80" y="520.60" font-size="7.2" font-weight="400" text-anchor="middle" fill="#333" stroke="#333" stroke-width="0.16" >0</text>
<text x="65.85" y="520.60" font-size="7.2" font-weight="400" text-anchor="middle" fill="#333" stroke="#333" stroke-width="0.16" >50</text>
<text x="82.90" y="520.60" font-size="7.2" font-weight="400" text-anchor="middle" fill="#333" stroke="#333" stroke-width="0.16" >100</text>
<text x="99.95" y="520.60" font-size="7.2" font-weight="400" text-anchor="middle" fill="#333" stroke="#333" stroke-width="0.16" >150</text>
<text x="117.00" y="520.60" font-size="7.2" font-weight="400" text-anchor="middle" fill="#333" stroke="#333" stroke-width="0.16" >200</text>
<text x="134.05" y="520.60" font-size="7.2" font-weight="400" text-anchor="middle" fill="#333" stroke="#333" stroke-width="0.16" >250</text>
<text x="151.10" y="520.60" font-size="7.2" font-weight="400" text-anchor="middle" fill="#333" stroke="#333" stroke-width="0.16" >300</text>
<text x="168.15" y="520.60" font-size="7.2" font-weight="400" text-anchor="middle" fill="#333" stroke="#333" stroke-width="0.16" >350</text>
<text x="185.20" y="520.60" font-size="7.2" font-weight="400" text-anchor="middle" fill="#333" stroke="#333" stroke-width="0.16" >400</text>
<text x="202.25" y="520.60" font-size="7.2" font-weight="400" text-anchor="middle" fill="#333" stroke="#333" stroke-width="0.16" >450</text>
<text x="219.30" y="520.60" font-size="7.2" font-weight="400" text-anchor="middle" fill="#333" stroke="#333" stroke-width="0.16" >500</text>
<text x="236.35" y="520.60" font-size="7.2" font-weight="400" text-anchor="middle" fill="#333" stroke="#333" stroke-width="0.16" >550</text>
<text x="253.40" y="520.60" font-size="7.2" font-weight="400" text-anchor="middle" fill="#333" stroke="#333" stroke-width="0.16" >600</text>
<text x="149.20" y="532.60" font-size="8.8" font-weight="400" text-anchor="middle" fill="#1e1e1e" stroke="#1e1e1e" stroke-width="0.16" >Time (s)</text>
<text transform="translate(10.2,465.3) rotate(-90)" font-size="9.1" text-anchor="middle" fill="#1e1e1e" stroke="#1e1e1e" stroke-width="0.16">Binding (nm)</text>
<line x1="27.80" y1="509.40" x2="48.80" y2="509.40" stroke="#4a5aa0" stroke-width="1.3" />
<line x1="48.80" y1="410.50" x2="48.80" y2="509.70" stroke="#e84860" stroke-width="0.9" stroke-dasharray="0.7,0.7"/>
<line x1="151.10" y1="404.00" x2="151.10" y2="509.70" stroke="#c8a0b0" stroke-width="0.6" stroke-dasharray="0.8,0.8"/>
<polyline points="48.80,509.55 50.16,501.39 51.53,494.00 52.89,487.31 54.26,481.26 55.62,475.79 56.98,470.84 58.35,466.36 59.71,462.30 61.08,458.63 62.44,455.31 63.80,452.31 65.17,449.59 66.53,447.13 67.90,444.91 69.26,442.89 70.62,441.07 71.99,439.42 73.35,437.93 74.72,436.58 76.08,435.36 77.44,434.26 78.81,433.26 80.17,432.35 81.54,431.53 82.90,430.79 84.26,430.12 85.63,429.52 86.99,428.97 88.36,428.47 89.72,428.02 91.08,427.62 92.45,427.25 93.81,426.91 95.18,426.61 96.54,426.34 97.90,426.09 99.27,425.87 100.63,425.67 102.00,425.49 103.36,425.32 104.72,425.17 106.09,425.04 107.45,424.91 108.82,424.80 110.18,424.70 111.54,424.61 112.91,424.53 114.27,424.46 115.64,424.39 117.00,424.33 118.36,424.27 119.73,424.22 121.09,424.18 122.46,424.14 123.82,424.10 125.18,424.07 126.55,424.04 127.91,424.01 129.28,423.99 130.64,423.96 132.00,423.94 133.37,423.92 134.73,423.91 136.10,423.89 137.46,423.88 138.82,423.87 140.19,423.86 141.55,423.85 142.92,423.84 144.28,423.83 145.64,423.82 147.01,423.81 148.37,423.81 149.74,423.80 151.10,423.80 152.46,424.33 153.83,424.86 155.19,425.39 156.56,425.91 157.92,426.43 159.28,426.95 160.65,427.46 162.01,427.97 163.38,428.48 164.74,428.98 166.10,429.49 167.47,429.98 168.83,430.48 170.20,430.97 171.56,431.46 172.92,431.95 174.29,432.43 175.65,432.91 177.02,433.38 178.38,433.86 179.74,434.33 181.11,434.80 182.47,435.26 183.84,435.72 185.20,436.18 186.56,436.64 187.93,437.09 189.29,437.54 190.66,437.99 192.02,438.44 193.38,438.88 194.75,439.32 196.11,439.76 197.48,440.19 198.84,440.62 200.20,441.05 201.57,441.48 202.93,441.90 204.30,442.32 205.66,442.74 207.02,443.15 208.39,443.57 209.75,443.98 211.12,444.39 212.48,444.79 213.84,445.19 215.21,445.59 216.57,445.99 217.94,446.39 219.30,446.78 220.66,447.17 222.03,447.56 223.39,447.94 224.76,448.33 226.12,448.71 227.48,449.09 228.85,449.46 230.21,449.84 231.58,450.21 232.94,450.58 234.30,450.94 235.67,451.31 237.03,451.67 238.40,452.03 239.76,452.39 241.12,452.74 242.49,453.10 243.85,453.45 245.22,453.80 246.58,454.15 247.94,454.49 249.31,454.83 250.67,455.17 252.04,455.51 253.40,455.85 254.76,456.18 256.13,456.51 256.47,456.60" fill="none" stroke="#ea3a70" stroke-width="0.95" stroke-linejoin="round" opacity="0.95"/>
<polyline points="48.80,509.90 50.16,503.10 51.53,496.82 52.89,491.01 54.26,485.65 55.62,480.69 56.98,476.12 58.35,471.89 59.71,467.98 61.08,464.37 62.44,461.04 63.80,457.96 65.17,455.11 66.53,452.48 67.90,450.05 69.26,447.81 70.62,445.73 71.99,443.82 73.35,442.05 74.72,440.41 76.08,438.90 77.44,437.51 78.81,436.22 80.17,435.03 81.54,433.93 82.90,432.91 84.26,431.97 85.63,431.11 86.99,430.30 88.36,429.56 89.72,428.88 91.08,428.25 92.45,427.66 93.81,427.12 95.18,426.63 96.54,426.17 97.90,425.74 99.27,425.35 100.63,424.98 102.00,424.65 103.36,424.34 104.72,424.05 106.09,423.79 107.45,423.54 108.82,423.32 110.18,423.11 111.54,422.92 112.91,422.74 114.27,422.57 115.64,422.42 117.00,422.28 118.36,422.15 119.73,422.03 121.09,421.92 122.46,421.82 123.82,421.73 125.18,421.64 126.55,421.56 127.91,421.48 129.28,421.41 130.64,421.35 132.00,421.29 133.37,421.24 134.73,421.19 136.10,421.14 137.46,421.10 138.82,421.06 140.19,421.02 141.55,420.99 142.92,420.96 144.28,420.93 145.64,420.90 147.01,420.88 148.37,420.86 149.74,420.83 151.10,420.82 152.46,421.43 153.83,422.04 155.19,422.65 156.56,423.25 157.92,423.84 159.28,424.44 160.65,425.03 162.01,425.61 163.38,426.19 164.74,426.77 166.10,427.34 167.47,427.91 168.83,428.48 170.20,429.04 171.56,429.60 172.92,430.15 174.29,430.70 175.65,431.25 177.02,431.79 178.38,432.33 179.74,432.86 181.11,433.40 182.47,433.92 183.84,434.45 185.20,434.97 186.56,435.48 187.93,436.00 189.29,436.51 190.66,437.01 192.02,437.52 193.38,438.01 194.75,438.51 196.11,439.00 197.48,439.49 198.84,439.98 200.20,440.46 201.57,440.94 202.93,441.41 204.30,441.89 205.66,442.36 207.02,442.82 208.39,443.28 209.75,443.74 211.12,444.20 212.48,444.65 213.84,445.10 215.21,445.55 216.57,445.99 217.94,446.43 219.30,446.87 220.66,447.31 222.03,447.74 223.39,448.17 224.76,448.59 226.12,449.01 227.48,449.43 228.85,449.85 230.21,450.27 231.58,450.68 232.94,451.09 234.30,451.49 235.67,451.89 237.03,452.29 238.40,452.69 239.76,453.09 241.12,453.48 242.49,453.87 243.85,454.25 245.22,454.64 246.58,455.02 247.94,455.40 249.31,455.77 250.67,456.15 252.04,456.52 253.40,456.88 254.76,457.25 256.13,457.61 256.47,457.70" fill="none" stroke="#3e4684" stroke-width="0.95" stroke-linejoin="round" opacity="0.95"/>
<polyline points="48.80,509.55 50.16,506.88 51.53,504.31 52.89,501.84 54.26,499.45 55.62,497.15 56.98,494.94 58.35,492.81 59.71,490.75 61.08,488.77 62.44,486.86 63.80,485.02 65.17,483.25 66.53,481.54 67.90,479.90 69.26,478.31 70.62,476.79 71.99,475.32 73.35,473.90 74.72,472.53 76.08,471.22 77.44,469.95 78.81,468.73 80.17,467.55 81.54,466.42 82.90,465.33 84.26,464.28 85.63,463.26 86.99,462.29 88.36,461.34 89.72,460.44 91.08,459.56 92.45,458.72 93.81,457.91 95.18,457.13 96.54,456.38 97.90,455.65 99.27,454.95 100.63,454.28 102.00,453.63 103.36,453.00 104.72,452.40 106.09,451.82 107.45,451.26 108.82,450.72 110.18,450.20 111.54,449.70 112.91,449.22 114.27,448.76 115.64,448.31 117.00,447.88 118.36,447.47 119.73,447.07 121.09,446.68 122.46,446.31 123.82,445.95 125.18,445.61 126.55,445.27 127.91,444.95 129.28,444.65 130.64,444.35 132.00,444.06 133.37,443.79 134.73,443.52 136.10,443.26 137.46,443.02 138.82,442.78 140.19,442.55 141.55,442.33 142.92,442.12 144.28,441.91 145.64,441.72 147.01,441.53 148.37,441.34 149.74,441.17 151.10,441.00 152.46,441.41 153.83,441.81 155.19,442.22 156.56,442.62 157.92,443.02 159.28,443.42 160.65,443.82 162.01,444.21 163.38,444.60 164.74,444.99 166.10,445.37 167.47,445.76 168.83,446.14 170.20,446.52 171.56,446.90 172.92,447.27 174.29,447.64 175.65,448.01 177.02,448.38 178.38,448.75 179.74,449.11 181.11,449.47 182.47,449.83 183.84,450.19 185.20,450.55 186.56,450.90 187.93,451.25 189.29,451.60 190.66,451.94 192.02,452.29 193.38,452.63 194.75,452.97 196.11,453.31 197.48,453.65 198.84,453.98 200.20,454.31 201.57,454.64 202.93,454.97 204.30,455.30 205.66,455.62 207.02,455.95 208.39,456.27 209.75,456.59 211.12,456.90 212.48,457.22 213.84,457.53 215.21,457.84 216.57,458.15 217.94,458.46 219.30,458.76 220.66,459.07 222.03,459.37 223.39,459.67 224.76,459.97 226.12,460.27 227.48,460.56 228.85,460.85 230.21,461.14 231.58,461.43 232.94,461.72 234.30,462.01 235.67,462.29 237.03,462.57 238.40,462.86 239.76,463.14 241.12,463.41 242.49,463.69 243.85,463.96 245.22,464.24 246.58,464.51 247.94,464.78 249.31,465.04 250.67,465.31 252.04,465.58 253.40,465.84 254.76,466.10 256.13,466.36 256.47,466.42" fill="none" stroke="#ea3a70" stroke-width="0.95" stroke-linejoin="round" opacity="0.95"/>
<polyline points="48.80,509.90 50.16,507.09 51.53,504.39 52.89,501.78 54.26,499.27 55.62,496.85 56.98,494.53 58.35,492.28 59.71,490.13 61.08,488.05 62.44,486.04 63.80,484.12 65.17,482.26 66.53,480.47 67.90,478.75 69.26,477.09 70.62,475.49 71.99,473.95 73.35,472.47 74.72,471.04 76.08,469.66 77.44,468.34 78.81,467.07 80.17,465.84 81.54,464.65 82.90,463.51 84.26,462.42 85.63,461.36 86.99,460.34 88.36,459.36 89.72,458.42 91.08,457.51 92.45,456.63 93.81,455.79 95.18,454.98 96.54,454.20 97.90,453.44 99.27,452.72 100.63,452.02 102.00,451.35 103.36,450.70 104.72,450.07 106.09,449.47 107.45,448.89 108.82,448.33 110.18,447.80 111.54,447.28 112.91,446.78 114.27,446.30 115.64,445.84 117.00,445.40 118.36,444.97 119.73,444.55 121.09,444.16 122.46,443.77 123.82,443.40 125.18,443.05 126.55,442.71 127.91,442.38 129.28,442.06 130.64,441.75 132.00,441.46 133.37,441.18 134.73,440.90 136.10,440.64 137.46,440.39 138.82,440.14 140.19,439.91 141.55,439.68 142.92,439.47 144.28,439.26 145.64,439.05 147.01,438.86 148.37,438.67 149.74,438.49 151.10,438.32 152.46,438.83 153.83,439.33 155.19,439.83 156.56,440.33 157.92,440.82 159.28,441.31 160.65,441.80 162.01,442.28 163.38,442.76 164.74,443.24 166.10,443.71 167.47,444.18 168.83,444.65 170.20,445.11 171.56,445.57 172.92,446.02 174.29,446.48 175.65,446.93 177.02,447.37 178.38,447.82 179.74,448.26 181.11,448.70 182.47,449.13 183.84,449.56 185.20,449.99 186.56,450.41 187.93,450.84 189.29,451.26 190.66,451.67 192.02,452.08 193.38,452.49 194.75,452.90 196.11,453.31 197.48,453.71 198.84,454.11 200.20,454.50 201.57,454.90 202.93,455.29 204.30,455.67 205.66,456.06 207.02,456.44 208.39,456.82 209.75,457.20 211.12,457.57 212.48,457.94 213.84,458.31 215.21,458.68 216.57,459.04 217.94,459.40 219.30,459.76 220.66,460.11 222.03,460.47 223.39,460.82 224.76,461.17 226.12,461.51 227.48,461.86 228.85,462.20 230.21,462.53 231.58,462.87 232.94,463.20 234.30,463.54 235.67,463.86 237.03,464.19 238.40,464.52 239.76,464.84 241.12,465.16 242.49,465.47 243.85,465.79 245.22,466.10 246.58,466.41 247.94,466.72 249.31,467.03 250.67,467.33 252.04,467.63 253.40,467.93 254.76,468.23 256.13,468.53 256.47,468.60" fill="none" stroke="#3e4684" stroke-width="0.95" stroke-linejoin="round" opacity="0.95"/>
<polyline points="48.80,510.05 50.16,508.91 51.53,507.79 52.89,506.69 54.26,505.61 55.62,504.56 56.98,503.53 58.35,502.53 59.71,501.54 61.08,500.57 62.44,499.63 63.80,498.70 65.17,497.79 66.53,496.91 67.90,496.04 69.26,495.19 70.62,494.36 71.99,493.54 73.35,492.74 74.72,491.96 76.08,491.20 77.44,490.45 78.81,489.71 80.17,489.00 81.54,488.29 82.90,487.60 84.26,486.93 85.63,486.27 86.99,485.63 88.36,484.99 89.72,484.37 91.08,483.77 92.45,483.18 93.81,482.59 95.18,482.03 96.54,481.47 97.90,480.92 99.27,480.39 100.63,479.87 102.00,479.36 103.36,478.86 104.72,478.37 106.09,477.89 107.45,477.42 108.82,476.96 110.18,476.51 111.54,476.07 112.91,475.63 114.27,475.21 115.64,474.80 117.00,474.39 118.36,474.00 119.73,473.61 121.09,473.23 122.46,472.86 123.82,472.49 125.18,472.13 126.55,471.79 127.91,471.44 129.28,471.11 130.64,470.78 132.00,470.46 133.37,470.15 134.73,469.84 136.10,469.54 137.46,469.24 138.82,468.96 140.19,468.67 141.55,468.40 142.92,468.13 144.28,467.86 145.64,467.60 147.01,467.35 148.37,467.10 149.74,466.85 151.10,466.62 152.46,466.87 153.83,467.13 155.19,467.38 156.56,467.63 157.92,467.88 159.28,468.13 160.65,468.38 162.01,468.63 163.38,468.87 164.74,469.11 166.10,469.35 167.47,469.59 168.83,469.83 170.20,470.07 171.56,470.31 172.92,470.54 174.29,470.77 175.65,471.01 177.02,471.24 178.38,471.47 179.74,471.69 181.11,471.92 182.47,472.15 183.84,472.37 185.20,472.59 186.56,472.81 187.93,473.03 189.29,473.25 190.66,473.47 192.02,473.68 193.38,473.90 194.75,474.11 196.11,474.32 197.48,474.53 198.84,474.74 200.20,474.95 201.57,475.16 202.93,475.37 204.30,475.57 205.66,475.77 207.02,475.98 208.39,476.18 209.75,476.38 211.12,476.58 212.48,476.77 213.84,476.97 215.21,477.17 216.57,477.36 217.94,477.55 219.30,477.74 220.66,477.94 222.03,478.12 223.39,478.31 224.76,478.50 226.12,478.69 227.48,478.87 228.85,479.06 230.21,479.24 231.58,479.42 232.94,479.60 234.30,479.78 235.67,479.96 237.03,480.14 238.40,480.31 239.76,480.49 241.12,480.66 242.49,480.84 243.85,481.01 245.22,481.18 246.58,481.35 247.94,481.52 249.31,481.69 250.67,481.86 252.04,482.02 253.40,482.19 254.76,482.35 256.13,482.52 256.47,482.56" fill="none" stroke="#ea3a70" stroke-width="0.95" stroke-linejoin="round" opacity="0.9"/>
<polyline points="48.80,509.50 50.16,508.37 51.53,507.26 52.89,506.17 54.26,505.11 55.62,504.07 56.98,503.05 58.35,502.05 59.71,501.07 61.08,500.11 62.44,499.17 63.80,498.25 65.17,497.35 66.53,496.47 67.90,495.61 69.26,494.76 70.62,493.93 71.99,493.12 73.35,492.32 74.72,491.54 76.08,490.78 77.44,490.04 78.81,489.30 80.17,488.59 81.54,487.89 82.90,487.20 84.26,486.53 85.63,485.87 86.99,485.22 88.36,484.59 89.72,483.97 91.08,483.36 92.45,482.77 93.81,482.19 95.18,481.62 96.54,481.06 97.90,480.51 99.27,479.98 100.63,479.45 102.00,478.94 103.36,478.43 104.72,477.94 106.09,477.46 107.45,476.99 108.82,476.52 110.18,476.07 111.54,475.63 112.91,475.19 114.27,474.77 115.64,474.35 117.00,473.94 118.36,473.54 119.73,473.15 121.09,472.76 122.46,472.39 123.82,472.02 125.18,471.66 126.55,471.31 127.91,470.96 129.28,470.62 130.64,470.29 132.00,469.96 133.37,469.65 134.73,469.33 136.10,469.03 137.46,468.73 138.82,468.44 140.19,468.15 141.55,467.87 142.92,467.59 144.28,467.32 145.64,467.06 147.01,466.80 148.37,466.55 149.74,466.30 151.10,466.06 152.46,466.32 153.83,466.58 155.19,466.84 156.56,467.10 157.92,467.36 159.28,467.61 160.65,467.87 162.01,468.12 163.38,468.37 164.74,468.62 166.10,468.87 167.47,469.11 168.83,469.36 170.20,469.60 171.56,469.84 172.92,470.08 174.29,470.32 175.65,470.56 177.02,470.80 178.38,471.03 179.74,471.26 181.11,471.50 182.47,471.73 183.84,471.96 185.20,472.18 186.56,472.41 187.93,472.63 189.29,472.86 190.66,473.08 192.02,473.30 193.38,473.52 194.75,473.74 196.11,473.96 197.48,474.17 198.84,474.38 200.20,474.60 201.57,474.81 202.93,475.02 204.30,475.23 205.66,475.44 207.02,475.64 208.39,475.85 209.75,476.05 211.12,476.25 212.48,476.46 213.84,476.66 215.21,476.86 216.57,477.05 217.94,477.25 219.30,477.45 220.66,477.64 222.03,477.83 223.39,478.02 224.76,478.22 226.12,478.41 227.48,478.59 228.85,478.78 230.21,478.97 231.58,479.15 232.94,479.34 234.30,479.52 235.67,479.70 237.03,479.88 238.40,480.06 239.76,480.24 241.12,480.42 242.49,480.59 243.85,480.77 245.22,480.94 246.58,481.12 247.94,481.29 249.31,481.46 250.67,481.63 252.04,481.80 253.40,481.97 254.76,482.13 256.13,482.30 256.47,482.34" fill="none" stroke="#3e4684" stroke-width="0.95" stroke-linejoin="round" opacity="0.95"/>
<polyline points="48.80,510.05 50.16,509.47 51.53,508.89 52.89,508.33 54.26,507.78 55.62,507.24 56.98,506.72 58.35,506.20 59.71,505.69 61.08,505.19 62.44,504.71 63.80,504.23 65.17,503.76 66.53,503.30 67.90,502.85 69.26,502.41 70.62,501.98 71.99,501.55 73.35,501.14 74.72,500.73 76.08,500.33 77.44,499.94 78.81,499.56 80.17,499.18 81.54,498.81 82.90,498.45 84.26,498.10 85.63,497.75 86.99,497.41 88.36,497.08 89.72,496.75 91.08,496.43 92.45,496.11 93.81,495.81 95.18,495.51 96.54,495.21 97.90,494.92 99.27,494.64 100.63,494.36 102.00,494.08 103.36,493.82 104.72,493.55 106.09,493.30 107.45,493.04 108.82,492.80 110.18,492.56 111.54,492.32 112.91,492.09 114.27,491.86 115.64,491.63 117.00,491.42 118.36,491.20 119.73,490.99 121.09,490.78 122.46,490.58 123.82,490.38 125.18,490.19 126.55,490.00 127.91,489.81 129.28,489.63 130.64,489.45 132.00,489.27 133.37,489.10 134.73,488.93 136.10,488.77 137.46,488.60 138.82,488.45 140.19,488.29 141.55,488.14 142.92,487.99 144.28,487.84 145.64,487.70 147.01,487.55 148.37,487.42 149.74,487.28 151.10,487.15 152.46,487.29 153.83,487.43 155.19,487.57 156.56,487.71 157.92,487.85 159.28,487.98 160.65,488.12 162.01,488.26 163.38,488.39 164.74,488.52 166.10,488.66 167.47,488.79 168.83,488.92 170.20,489.05 171.56,489.18 172.92,489.31 174.29,489.44 175.65,489.57 177.02,489.69 178.38,489.82 179.74,489.94 181.11,490.07 182.47,490.19 183.84,490.31 185.20,490.44 186.56,490.56 187.93,490.68 189.29,490.80 190.66,490.92 192.02,491.03 193.38,491.15 194.75,491.27 196.11,491.39 197.48,491.50 198.84,491.62 200.20,491.73 201.57,491.84 202.93,491.96 204.30,492.07 205.66,492.18 207.02,492.29 208.39,492.40 209.75,492.51 211.12,492.62 212.48,492.72 213.84,492.83 215.21,492.94 216.57,493.04 217.94,493.15 219.30,493.25 220.66,493.36 222.03,493.46 223.39,493.56 224.76,493.66 226.12,493.77 227.48,493.87 228.85,493.97 230.21,494.07 231.58,494.16 232.94,494.26 234.30,494.36 235.67,494.46 237.03,494.55 238.40,494.65 239.76,494.74 241.12,494.84 242.49,494.93 243.85,495.03 245.22,495.12 246.58,495.21 247.94,495.30 249.31,495.39 250.67,495.48 252.04,495.57 253.40,495.66 254.76,495.75 256.13,495.84 256.47,495.86" fill="none" stroke="#ea3a70" stroke-width="0.9" stroke-linejoin="round" opacity="0.9"/>
<polyline points="48.80,509.50 50.16,508.92 51.53,508.36 52.89,507.80 54.26,507.26 55.62,506.73 56.98,506.20 58.35,505.69 59.71,505.19 61.08,504.70 62.44,504.21 63.80,503.74 65.17,503.28 66.53,502.82 67.90,502.37 69.26,501.93 70.62,501.51 71.99,501.08 73.35,500.67 74.72,500.27 76.08,499.87 77.44,499.48 78.81,499.10 80.17,498.72 81.54,498.36 82.90,498.00 84.26,497.64 85.63,497.30 86.99,496.96 88.36,496.62 89.72,496.30 91.08,495.98 92.45,495.66 93.81,495.35 95.18,495.05 96.54,494.76 97.90,494.47 99.27,494.18 100.63,493.90 102.00,493.63 103.36,493.36 104.72,493.10 106.09,492.84 107.45,492.59 108.82,492.34 110.18,492.09 111.54,491.86 112.91,491.62 114.27,491.39 115.64,491.17 117.00,490.95 118.36,490.73 119.73,490.52 121.09,490.31 122.46,490.11 123.82,489.91 125.18,489.71 126.55,489.52 127.91,489.33 129.28,489.14 130.64,488.96 132.00,488.78 133.37,488.61 134.73,488.44 136.10,488.27 137.46,488.11 138.82,487.95 140.19,487.79 141.55,487.63 142.92,487.48 144.28,487.33 145.64,487.19 147.01,487.04 148.37,486.90 149.74,486.76 151.10,486.63 152.46,486.77 153.83,486.92 155.19,487.06 156.56,487.20 157.92,487.34 159.28,487.48 160.65,487.62 162.01,487.76 163.38,487.89 164.74,488.03 166.10,488.16 167.47,488.30 168.83,488.43 170.20,488.57 171.56,488.70 172.92,488.83 174.29,488.96 175.65,489.09 177.02,489.22 178.38,489.34 179.74,489.47 181.11,489.60 182.47,489.72 183.84,489.85 185.20,489.97 186.56,490.09 187.93,490.22 189.29,490.34 190.66,490.46 192.02,490.58 193.38,490.70 194.75,490.82 196.11,490.93 197.48,491.05 198.84,491.17 200.20,491.28 201.57,491.40 202.93,491.51 204.30,491.63 205.66,491.74 207.02,491.85 208.39,491.96 209.75,492.07 211.12,492.18 212.48,492.29 213.84,492.40 215.21,492.51 216.57,492.61 217.94,492.72 219.30,492.83 220.66,492.93 222.03,493.03 223.39,493.14 224.76,493.24 226.12,493.34 227.48,493.45 228.85,493.55 230.21,493.65 231.58,493.75 232.94,493.85 234.30,493.95 235.67,494.04 237.03,494.14 238.40,494.24 239.76,494.33 241.12,494.43 242.49,494.52 243.85,494.62 245.22,494.71 246.58,494.81 247.94,494.90 249.31,494.99 250.67,495.08 252.04,495.17 253.40,495.26 254.76,495.35 256.13,495.44 256.47,495.46" fill="none" stroke="#3e4684" stroke-width="0.9" stroke-linejoin="round" opacity="0.95"/>
<polyline points="48.80,510.05 50.16,509.73 51.53,509.43 52.89,509.13 54.26,508.84 55.62,508.55 56.98,508.28 58.35,508.01 59.71,507.75 61.08,507.49 62.44,507.24 63.80,507.00 65.17,506.76 66.53,506.53 67.90,506.31 69.26,506.09 70.62,505.88 71.99,505.67 73.35,505.47 74.72,505.28 76.08,505.09 77.44,504.90 78.81,504.72 80.17,504.54 81.54,504.37 82.90,504.20 84.26,504.04 85.63,503.88 86.99,503.73 88.36,503.58 89.72,503.43 91.08,503.29 92.45,503.15 93.81,503.01 95.18,502.88 96.54,502.75 97.90,502.63 99.27,502.51 100.63,502.39 102.00,502.27 103.36,502.16 104.72,502.05 106.09,501.94 107.45,501.84 108.82,501.74 110.18,501.64 111.54,501.54 112.91,501.45 114.27,501.36 115.64,501.27 117.00,501.18 118.36,501.10 119.73,501.02 121.09,500.94 122.46,500.86 123.82,500.78 125.18,500.71 126.55,500.64 127.91,500.57 129.28,500.50 130.64,500.43 132.00,500.37 133.37,500.30 134.73,500.24 136.10,500.18 137.46,500.13 138.82,500.07 140.19,500.01 141.55,499.96 142.92,499.91 144.28,499.86 145.64,499.81 147.01,499.76 148.37,499.71 149.74,499.67 151.10,499.62 152.46,499.68 153.83,499.74 155.19,499.80 156.56,499.86 157.92,499.92 159.28,499.98 160.65,500.04 162.01,500.10 163.38,500.16 164.74,500.22 166.10,500.28 167.47,500.34 168.83,500.39 170.20,500.45 171.56,500.51 172.92,500.56 174.29,500.62 175.65,500.67 177.02,500.73 178.38,500.79 179.74,500.84 181.11,500.89 182.47,500.95 183.84,501.00 185.20,501.06 186.56,501.11 187.93,501.16 189.29,501.21 190.66,501.27 192.02,501.32 193.38,501.37 194.75,501.42 196.11,501.47 197.48,501.52 198.84,501.57 200.20,501.62 201.57,501.67 202.93,501.72 204.30,501.77 205.66,501.82 207.02,501.87 208.39,501.92 209.75,501.96 211.12,502.01 212.48,502.06 213.84,502.11 215.21,502.15 216.57,502.20 217.94,502.25 219.30,502.29 220.66,502.34 222.03,502.38 223.39,502.43 224.76,502.47 226.12,502.52 227.48,502.56 228.85,502.61 230.21,502.65 231.58,502.70 232.94,502.74 234.30,502.78 235.67,502.82 237.03,502.87 238.40,502.91 239.76,502.95 241.12,502.99 242.49,503.04 243.85,503.08 245.22,503.12 246.58,503.16 247.94,503.20 249.31,503.24 250.67,503.28 252.04,503.32 253.40,503.36 254.76,503.40 256.13,503.44 256.47,503.45" fill="none" stroke="#ea3a70" stroke-width="0.85" stroke-linejoin="round" opacity="0.9"/>
<polyline points="48.80,509.50 50.16,509.19 51.53,508.89 52.89,508.59 54.26,508.30 55.62,508.02 56.98,507.75 58.35,507.49 59.71,507.23 61.08,506.98 62.44,506.73 63.80,506.49 65.17,506.26 66.53,506.03 67.90,505.81 69.26,505.59 70.62,505.38 71.99,505.18 73.35,504.98 74.72,504.78 76.08,504.59 77.44,504.41 78.81,504.23 80.17,504.05 81.54,503.88 82.90,503.72 84.26,503.55 85.63,503.40 86.99,503.24 88.36,503.09 89.72,502.95 91.08,502.80 92.45,502.67 93.81,502.53 95.18,502.40 96.54,502.27 97.90,502.15 99.27,502.02 100.63,501.91 102.00,501.79 103.36,501.68 104.72,501.57 106.09,501.46 107.45,501.36 108.82,501.25 110.18,501.16 111.54,501.06 112.91,500.97 114.27,500.87 115.64,500.78 117.00,500.70 118.36,500.61 119.73,500.53 121.09,500.45 122.46,500.37 123.82,500.30 125.18,500.22 126.55,500.15 127.91,500.08 129.28,500.01 130.64,499.94 132.00,499.88 133.37,499.81 134.73,499.75 136.10,499.69 137.46,499.63 138.82,499.58 140.19,499.52 141.55,499.47 142.92,499.41 144.28,499.36 145.64,499.31 147.01,499.26 148.37,499.21 149.74,499.17 151.10,499.12 152.46,499.18 153.83,499.25 155.19,499.31 156.56,499.37 157.92,499.43 159.28,499.49 160.65,499.55 162.01,499.61 163.38,499.67 164.74,499.73 166.10,499.78 167.47,499.84 168.83,499.90 170.20,499.96 171.56,500.01 172.92,500.07 174.29,500.13 175.65,500.18 177.02,500.24 178.38,500.30 179.74,500.35 181.11,500.40 182.47,500.46 183.84,500.51 185.20,500.57 186.56,500.62 187.93,500.67 189.29,500.73 190.66,500.78 192.02,500.83 193.38,500.88 194.75,500.93 196.11,500.99 197.48,501.04 198.84,501.09 200.20,501.14 201.57,501.19 202.93,501.24 204.30,501.29 205.66,501.34 207.02,501.38 208.39,501.43 209.75,501.48 211.12,501.53 212.48,501.58 213.84,501.62 215.21,501.67 216.57,501.72 217.94,501.77 219.30,501.81 220.66,501.86 222.03,501.90 223.39,501.95 224.76,501.99 226.12,502.04 227.48,502.08 228.85,502.13 230.21,502.17 231.58,502.22 232.94,502.26 234.30,502.30 235.67,502.35 237.03,502.39 238.40,502.43 239.76,502.47 241.12,502.52 242.49,502.56 243.85,502.60 245.22,502.64 246.58,502.68 247.94,502.72 249.31,502.76 250.67,502.80 252.04,502.84 253.40,502.88 254.76,502.92 256.13,502.96 256.47,502.97" fill="none" stroke="#3e4684" stroke-width="0.85" stroke-linejoin="round" opacity="0.95"/>
<polyline points="48.80,510.05 50.16,509.91 51.53,509.78 52.89,509.65 54.26,509.53 55.62,509.41 56.98,509.29 58.35,509.17 59.71,509.06 61.08,508.95 62.44,508.84 63.80,508.74 65.17,508.63 66.53,508.54 67.90,508.44 69.26,508.34 70.62,508.25 71.99,508.16 73.35,508.08 74.72,507.99 76.08,507.91 77.44,507.83 78.81,507.75 80.17,507.67 81.54,507.60 82.90,507.53 84.26,507.46 85.63,507.39 86.99,507.32 88.36,507.25 89.72,507.19 91.08,507.13 92.45,507.07 93.81,507.01 95.18,506.95 96.54,506.90 97.90,506.84 99.27,506.79 100.63,506.74 102.00,506.69 103.36,506.64 104.72,506.59 106.09,506.54 107.45,506.50 108.82,506.45 110.18,506.41 111.54,506.37 112.91,506.33 114.27,506.29 115.64,506.25 117.00,506.21 118.36,506.17 119.73,506.14 121.09,506.10 122.46,506.07 123.82,506.03 125.18,506.00 126.55,505.97 127.91,505.94 129.28,505.91 130.64,505.88 132.00,505.85 133.37,505.82 134.73,505.80 136.10,505.77 137.46,505.74 138.82,505.72 140.19,505.69 141.55,505.67 142.92,505.65 144.28,505.63 145.64,505.60 147.01,505.58 148.37,505.56 149.74,505.54 151.10,505.52 152.46,505.54 153.83,505.56 155.19,505.59 156.56,505.61 157.92,505.63 159.28,505.65 160.65,505.67 162.01,505.69 163.38,505.71 164.74,505.73 166.10,505.75 167.47,505.77 168.83,505.80 170.20,505.82 171.56,505.84 172.92,505.86 174.29,505.88 175.65,505.90 177.02,505.92 178.38,505.94 179.74,505.96 181.11,505.98 182.47,505.99 183.84,506.01 185.20,506.03 186.56,506.05 187.93,506.07 189.29,506.09 190.66,506.11 192.02,506.13 193.38,506.15 194.75,506.17 196.11,506.18 197.48,506.20 198.84,506.22 200.20,506.24 201.57,506.26 202.93,506.28 204.30,506.29 205.66,506.31 207.02,506.33 208.39,506.35 209.75,506.37 211.12,506.38 212.48,506.40 213.84,506.42 215.21,506.44 216.57,506.45 217.94,506.47 219.30,506.49 220.66,506.50 222.03,506.52 223.39,506.54 224.76,506.56 226.12,506.57 227.48,506.59 228.85,506.61 230.21,506.62 231.58,506.64 232.94,506.65 234.30,506.67 235.67,506.69 237.03,506.70 238.40,506.72 239.76,506.74 241.12,506.75 242.49,506.77 243.85,506.78 245.22,506.80 246.58,506.81 247.94,506.83 249.31,506.84 250.67,506.86 252.04,506.88 253.40,506.89 254.76,506.91 256.13,506.92 256.47,506.92" fill="none" stroke="#ea3a70" stroke-width="0.75" stroke-linejoin="round" opacity="0.9"/>
<polyline points="48.80,509.50 50.16,509.36 51.53,509.23 52.89,509.10 54.26,508.98 55.62,508.86 56.98,508.74 58.35,508.62 59.71,508.51 61.08,508.40 62.44,508.29 63.80,508.19 65.17,508.08 66.53,507.99 67.90,507.89 69.26,507.79 70.62,507.70 71.99,507.61 73.35,507.53 74.72,507.44 76.08,507.36 77.44,507.28 78.81,507.20 80.17,507.12 81.54,507.05 82.90,506.98 84.26,506.91 85.63,506.84 86.99,506.77 88.36,506.70 89.72,506.64 91.08,506.58 92.45,506.52 93.81,506.46 95.18,506.40 96.54,506.35 97.90,506.29 99.27,506.24 100.63,506.19 102.00,506.14 103.36,506.09 104.72,506.04 106.09,505.99 107.45,505.95 108.82,505.90 110.18,505.86 111.54,505.82 112.91,505.78 114.27,505.74 115.64,505.70 117.00,505.66 118.36,505.62 119.73,505.59 121.09,505.55 122.46,505.52 123.82,505.48 125.18,505.45 126.55,505.42 127.91,505.39 129.28,505.36 130.64,505.33 132.00,505.30 133.37,505.27 134.73,505.25 136.10,505.22 137.46,505.19 138.82,505.17 140.19,505.14 141.55,505.12 142.92,505.10 144.28,505.08 145.64,505.05 147.01,505.03 148.37,505.01 149.74,504.99 151.10,504.97 152.46,504.99 153.83,505.01 155.19,505.04 156.56,505.06 157.92,505.08 159.28,505.10 160.65,505.12 162.01,505.14 163.38,505.16 164.74,505.18 166.10,505.20 167.47,505.22 168.83,505.25 170.20,505.27 171.56,505.29 172.92,505.31 174.29,505.33 175.65,505.35 177.02,505.37 178.38,505.39 179.74,505.41 181.11,505.43 182.47,505.44 183.84,505.46 185.20,505.48 186.56,505.50 187.93,505.52 189.29,505.54 190.66,505.56 192.02,505.58 193.38,505.60 194.75,505.62 196.11,505.63 197.48,505.65 198.84,505.67 200.20,505.69 201.57,505.71 202.93,505.73 204.30,505.74 205.66,505.76 207.02,505.78 208.39,505.80 209.75,505.82 211.12,505.83 212.48,505.85 213.84,505.87 215.21,505.89 216.57,505.90 217.94,505.92 219.30,505.94 220.66,505.95 222.03,505.97 223.39,505.99 224.76,506.01 226.12,506.02 227.48,506.04 228.85,506.06 230.21,506.07 231.58,506.09 232.94,506.10 234.30,506.12 235.67,506.14 237.03,506.15 238.40,506.17 239.76,506.19 241.12,506.20 242.49,506.22 243.85,506.23 245.22,506.25 246.58,506.26 247.94,506.28 249.31,506.29 250.67,506.31 252.04,506.33 253.40,506.34 254.76,506.36 256.13,506.37 256.47,506.37" fill="none" stroke="#3e4684" stroke-width="0.75" stroke-linejoin="round" opacity="0.95"/>
<polyline points="48.80,510.05 50.16,509.98 51.53,509.92 52.89,509.85 54.26,509.79 55.62,509.73 56.98,509.67 58.35,509.61 59.71,509.55 61.08,509.50 62.44,509.45 63.80,509.39 65.17,509.34 66.53,509.29 67.90,509.24 69.26,509.20 70.62,509.15 71.99,509.11 73.35,509.06 74.72,509.02 76.08,508.98 77.44,508.94 78.81,508.90 80.17,508.86 81.54,508.82 82.90,508.79 84.26,508.75 85.63,508.72 86.99,508.68 88.36,508.65 89.72,508.62 91.08,508.59 92.45,508.56 93.81,508.53 95.18,508.50 96.54,508.47 97.90,508.45 99.27,508.42 100.63,508.39 102.00,508.37 103.36,508.34 104.72,508.32 106.09,508.30 107.45,508.27 108.82,508.25 110.18,508.23 111.54,508.21 112.91,508.19 114.27,508.17 115.64,508.15 117.00,508.13 118.36,508.11 119.73,508.09 121.09,508.08 122.46,508.06 123.82,508.04 125.18,508.03 126.55,508.01 127.91,507.99 129.28,507.98 130.64,507.96 132.00,507.95 133.37,507.94 134.73,507.92 136.10,507.91 137.46,507.90 138.82,507.88 140.19,507.87 141.55,507.86 142.92,507.85 144.28,507.84 145.64,507.83 147.01,507.82 148.37,507.81 149.74,507.80 151.10,507.79 152.46,507.79 153.83,507.80 155.19,507.81 156.56,507.82 157.92,507.83 159.28,507.84 160.65,507.85 162.01,507.86 163.38,507.87 164.74,507.87 166.10,507.88 167.47,507.89 168.83,507.90 170.20,507.91 171.56,507.92 172.92,507.93 174.29,507.93 175.65,507.94 177.02,507.95 178.38,507.96 179.74,507.97 181.11,507.98 182.47,507.98 183.84,507.99 185.20,508.00 186.56,508.01 187.93,508.02 189.29,508.03 190.66,508.03 192.02,508.04 193.38,508.05 194.75,508.06 196.11,508.07 197.48,508.07 198.84,508.08 200.20,508.09 201.57,508.10 202.93,508.10 204.30,508.11 205.66,508.12 207.02,508.13 208.39,508.14 209.75,508.14 211.12,508.15 212.48,508.16 213.84,508.17 215.21,508.17 216.57,508.18 217.94,508.19 219.30,508.20 220.66,508.20 222.03,508.21 223.39,508.22 224.76,508.23 226.12,508.23 227.48,508.24 228.85,508.25 230.21,508.25 231.58,508.26 232.94,508.27 234.30,508.28 235.67,508.28 237.03,508.29 238.40,508.30 239.76,508.30 241.12,508.31 242.49,508.32 243.85,508.32 245.22,508.33 246.58,508.34 247.94,508.35 249.31,508.35 250.67,508.36 252.04,508.37 253.40,508.37 254.76,508.38 256.13,508.39 256.47,508.39" fill="none" stroke="#ea3a70" stroke-width="0.7" stroke-linejoin="round" opacity="0.9"/>
<polyline points="48.80,509.50 50.16,509.43 51.53,509.37 52.89,509.30 54.26,509.24 55.62,509.18 56.98,509.12 58.35,509.06 59.71,509.00 61.08,508.95 62.44,508.90 63.80,508.84 65.17,508.79 66.53,508.74 67.90,508.69 69.26,508.65 70.62,508.60 71.99,508.56 73.35,508.51 74.72,508.47 76.08,508.43 77.44,508.39 78.81,508.35 80.17,508.31 81.54,508.27 82.90,508.24 84.26,508.20 85.63,508.17 86.99,508.13 88.36,508.10 89.72,508.07 91.08,508.04 92.45,508.01 93.81,507.98 95.18,507.95 96.54,507.92 97.90,507.90 99.27,507.87 100.63,507.84 102.00,507.82 103.36,507.79 104.72,507.77 106.09,507.75 107.45,507.72 108.82,507.70 110.18,507.68 111.54,507.66 112.91,507.64 114.27,507.62 115.64,507.60 117.00,507.58 118.36,507.56 119.73,507.54 121.09,507.53 122.46,507.51 123.82,507.49 125.18,507.48 126.55,507.46 127.91,507.44 129.28,507.43 130.64,507.41 132.00,507.40 133.37,507.39 134.73,507.37 136.10,507.36 137.46,507.35 138.82,507.33 140.19,507.32 141.55,507.31 142.92,507.30 144.28,507.29 145.64,507.28 147.01,507.27 148.37,507.26 149.74,507.25 151.10,507.24 152.46,507.24 153.83,507.25 155.19,507.26 156.56,507.27 157.92,507.28 159.28,507.29 160.65,507.30 162.01,507.31 163.38,507.32 164.74,507.32 166.10,507.33 167.47,507.34 168.83,507.35 170.20,507.36 171.56,507.37 172.92,507.38 174.29,507.38 175.65,507.39 177.02,507.40 178.38,507.41 179.74,507.42 181.11,507.43 182.47,507.43 183.84,507.44 185.20,507.45 186.56,507.46 187.93,507.47 189.29,507.48 190.66,507.48 192.02,507.49 193.38,507.50 194.75,507.51 196.11,507.52 197.48,507.52 198.84,507.53 200.20,507.54 201.57,507.55 202.93,507.55 204.30,507.56 205.66,507.57 207.02,507.58 208.39,507.59 209.75,507.59 211.12,507.60 212.48,507.61 213.84,507.62 215.21,507.62 216.57,507.63 217.94,507.64 219.30,507.65 220.66,507.65 222.03,507.66 223.39,507.67 224.76,507.68 226.12,507.68 227.48,507.69 228.85,507.70 230.21,507.70 231.58,507.71 232.94,507.72 234.30,507.73 235.67,507.73 237.03,507.74 238.40,507.75 239.76,507.75 241.12,507.76 242.49,507.77 243.85,507.77 245.22,507.78 246.58,507.79 247.94,507.80 249.31,507.80 250.67,507.81 252.04,507.82 253.40,507.82 254.76,507.83 256.13,507.84 256.47,507.84" fill="none" stroke="#3e4684" stroke-width="0.7" stroke-linejoin="round" opacity="0.95"/>
<polyline points="48.80,510.05 50.16,510.02 51.53,509.99 52.89,509.97 54.26,509.94 55.62,509.92 56.98,509.89 58.35,509.87 59.71,509.84 61.08,509.82 62.44,509.80 63.80,509.78 65.17,509.76 66.53,509.73 67.90,509.71 69.26,509.69 70.62,509.68 71.99,509.66 73.35,509.64 74.72,509.62 76.08,509.60 77.44,509.59 78.81,509.57 80.17,509.55 81.54,509.54 82.90,509.52 84.26,509.51 85.63,509.50 86.99,509.48 88.36,509.47 89.72,509.45 91.08,509.44 92.45,509.43 93.81,509.42 95.18,509.40 96.54,509.39 97.90,509.38 99.27,509.37 100.63,509.36 102.00,509.35 103.36,509.34 104.72,509.33 106.09,509.32 107.45,509.31 108.82,509.30 110.18,509.29 111.54,509.28 112.91,509.27 114.27,509.27 115.64,509.26 117.00,509.25 118.36,509.24 119.73,509.23 121.09,509.23 122.46,509.22 123.82,509.21 125.18,509.21 126.55,509.20 127.91,509.19 129.28,509.19 130.64,509.18 132.00,509.18 133.37,509.17 134.73,509.16 136.10,509.16 137.46,509.15 138.82,509.15 140.19,509.14 141.55,509.14 142.92,509.13 144.28,509.13 145.64,509.12 147.01,509.12 148.37,509.11 149.74,509.11 151.10,509.11 152.46,509.11 153.83,509.11 155.19,509.12 156.56,509.12 157.92,509.12 159.28,509.12 160.65,509.13 162.01,509.13 163.38,509.13 164.74,509.14 166.10,509.14 167.47,509.14 168.83,509.14 170.20,509.15 171.56,509.15 172.92,509.15 174.29,509.16 175.65,509.16 177.02,509.16 178.38,509.16 179.74,509.17 181.11,509.17 182.47,509.17 183.84,509.18 185.20,509.18 186.56,509.18 187.93,509.18 189.29,509.19 190.66,509.19 192.02,509.19 193.38,509.20 194.75,509.20 196.11,509.20 197.48,509.20 198.84,509.21 200.20,509.21 201.57,509.21 202.93,509.21 204.30,509.22 205.66,509.22 207.02,509.22 208.39,509.23 209.75,509.23 211.12,509.23 212.48,509.23 213.84,509.24 215.21,509.24 216.57,509.24 217.94,509.24 219.30,509.25 220.66,509.25 222.03,509.25 223.39,509.25 224.76,509.26 226.12,509.26 227.48,509.26 228.85,509.26 230.21,509.27 231.58,509.27 232.94,509.27 234.30,509.27 235.67,509.28 237.03,509.28 238.40,509.28 239.76,509.28 241.12,509.29 242.49,509.29 243.85,509.29 245.22,509.29 246.58,509.30 247.94,509.30 249.31,509.30 250.67,509.30 252.04,509.31 253.40,509.31 254.76,509.31 256.13,509.31 256.47,509.31" fill="none" stroke="#ea3a70" stroke-width="0.7" stroke-linejoin="round" opacity="0.9"/>
<polyline points="48.80,509.50 50.16,509.47 51.53,509.44 52.89,509.42 54.26,509.39 55.62,509.37 56.98,509.34 58.35,509.32 59.71,509.29 61.08,509.27 62.44,509.25 63.80,509.23 65.17,509.21 66.53,509.18 67.90,509.16 69.26,509.14 70.62,509.13 71.99,509.11 73.35,509.09 74.72,509.07 76.08,509.05 77.44,509.04 78.81,509.02 80.17,509.00 81.54,508.99 82.90,508.97 84.26,508.96 85.63,508.95 86.99,508.93 88.36,508.92 89.72,508.90 91.08,508.89 92.45,508.88 93.81,508.87 95.18,508.85 96.54,508.84 97.90,508.83 99.27,508.82 100.63,508.81 102.00,508.80 103.36,508.79 104.72,508.78 106.09,508.77 107.45,508.76 108.82,508.75 110.18,508.74 111.54,508.73 112.91,508.72 114.27,508.72 115.64,508.71 117.00,508.70 118.36,508.69 119.73,508.68 121.09,508.68 122.46,508.67 123.82,508.66 125.18,508.66 126.55,508.65 127.91,508.64 129.28,508.64 130.64,508.63 132.00,508.63 133.37,508.62 134.73,508.61 136.10,508.61 137.46,508.60 138.82,508.60 140.19,508.59 141.55,508.59 142.92,508.58 144.28,508.58 145.64,508.57 147.01,508.57 148.37,508.56 149.74,508.56 151.10,508.56 152.46,508.56 153.83,508.56 155.19,508.57 156.56,508.57 157.92,508.57 159.28,508.57 160.65,508.58 162.01,508.58 163.38,508.58 164.74,508.59 166.10,508.59 167.47,508.59 168.83,508.59 170.20,508.60 171.56,508.60 172.92,508.60 174.29,508.61 175.65,508.61 177.02,508.61 178.38,508.61 179.74,508.62 181.11,508.62 182.47,508.62 183.84,508.63 185.20,508.63 186.56,508.63 187.93,508.63 189.29,508.64 190.66,508.64 192.02,508.64 193.38,508.65 194.75,508.65 196.11,508.65 197.48,508.65 198.84,508.66 200.20,508.66 201.57,508.66 202.93,508.66 204.30,508.67 205.66,508.67 207.02,508.67 208.39,508.68 209.75,508.68 211.12,508.68 212.48,508.68 213.84,508.69 215.21,508.69 216.57,508.69 217.94,508.69 219.30,508.70 220.66,508.70 222.03,508.70 223.39,508.70 224.76,508.71 226.12,508.71 227.48,508.71 228.85,508.71 230.21,508.72 231.58,508.72 232.94,508.72 234.30,508.72 235.67,508.73 237.03,508.73 238.40,508.73 239.76,508.73 241.12,508.74 242.49,508.74 243.85,508.74 245.22,508.74 246.58,508.75 247.94,508.75 249.31,508.75 250.67,508.75 252.04,508.76 253.40,508.76 254.76,508.76 256.13,508.76 256.47,508.76" fill="none" stroke="#3e4684" stroke-width="0.7" stroke-linejoin="round" opacity="0.95"/>
<rect x="288.6" y="447.0" width="209.4" height="62.9" fill="none" stroke="#555" stroke-width="0.9"/>
<line x1="288.60" y1="475.10" x2="498.00" y2="475.10" stroke="#555" stroke-width="0.9" />
<line x1="288.60" y1="492.60" x2="498.00" y2="492.60" stroke="#555" stroke-width="0.9" />
<line x1="347.60" y1="447.00" x2="347.60" y2="509.90" stroke="#555" stroke-width="0.9" />
<line x1="393.60" y1="447.00" x2="393.60" y2="509.90" stroke="#555" stroke-width="0.9" />
<line x1="444.90" y1="447.00" x2="444.90" y2="509.90" stroke="#555" stroke-width="0.9" />
<text x="318.10" y="458.90" font-size="8.9" font-weight="400" text-anchor="middle" fill="#222" stroke="#222" stroke-width="0.16" >hL49</text>
<text x="318.10" y="469.80" font-size="8.9" font-weight="400" text-anchor="middle" fill="#222" stroke="#222" stroke-width="0.16" >Binding</text>
<text x="370.8" y="459.0" font-size="8.9" text-anchor="middle" fill="#222" stroke="#222" stroke-width="0.16">k<tspan font-size="5.4" dy="1.9">on</tspan></text>
<text x="371.4" y="470.0" font-size="8.9" text-anchor="middle" fill="#222" stroke="#222" stroke-width="0.16">(M<tspan font-size="5.4" dy="-3.3">−1</tspan><tspan dy="3.3">s</tspan><tspan font-size="5.4" dy="-3.3">−1</tspan><tspan dy="3.3">)</tspan></text>
<text x="419.6" y="459.0" font-size="8.9" text-anchor="middle" fill="#222" stroke="#222" stroke-width="0.16">k<tspan font-size="5.4" dy="1.9">off</tspan></text>
<text x="419.6" y="470.0" font-size="8.9" text-anchor="middle" fill="#222" stroke="#222" stroke-width="0.16">(s<tspan font-size="5.4" dy="-3.3">−1</tspan><tspan dy="3.3">)</tspan></text>
<text x="471.8" y="459.0" font-size="8.9" text-anchor="middle" fill="#222" stroke="#222" stroke-width="0.16">K<tspan font-size="5.4" dy="1.9">D</tspan></text>
<text x="470.30" y="470.00" font-size="8.9" font-weight="400" text-anchor="middle" fill="#222" stroke="#222" stroke-width="0.16" >(nmol/L)</text>
<text x="318.20" y="486.60" font-size="8.9" font-weight="400" text-anchor="middle" fill="#222" stroke="#222" stroke-width="0.16" >Monovalent</text>
<text x="318.20" y="503.90" font-size="8.9" font-weight="400" text-anchor="middle" fill="#222" stroke="#222" stroke-width="0.16" >Bivalent</text>
<text x="371.5" y="488.0" font-size="8.9" text-anchor="middle" fill="#222" stroke="#222" stroke-width="0.16"><tspan font-size="9.3">2.1</tspan><tspan font-size="8.4" dx="1.0">x</tspan><tspan font-size="9.3" dx="0.7">10</tspan><tspan font-size="5.6" dy="-3.6">5</tspan></text>
<text x="371.5" y="505.2" font-size="8.9" text-anchor="middle" fill="#222" stroke="#222" stroke-width="0.16"><tspan font-size="9.3">3.2</tspan><tspan font-size="8.4" dx="1.0">x</tspan><tspan font-size="9.3" dx="0.7">10</tspan><tspan font-size="5.6" dy="-3.6">5</tspan></text>
<text x="420.0" y="488.0" font-size="8.9" text-anchor="middle" fill="#222" stroke="#222" stroke-width="0.16"><tspan font-size="9.3">1.5</tspan><tspan font-size="8.4" dx="1.0">x</tspan><tspan font-size="9.3" dx="0.7">10</tspan><tspan font-size="5.6" dy="-3.6">-3</tspan></text>
<text x="420.0" y="505.2" font-size="8.9" text-anchor="middle" fill="#222" stroke="#222" stroke-width="0.16"><tspan font-size="9.3">&lt;1.0</tspan><tspan font-size="8.4" dx="1.0">x</tspan><tspan font-size="9.3" dx="0.7">10</tspan><tspan font-size="5.6" dy="-3.6">-7</tspan></text>
<text x="471.80" y="487.00" font-size="8.9" font-weight="400" text-anchor="middle" fill="#222" stroke="#222" stroke-width="0.16" >6.9</text>
<text x="471.8" y="505.2" font-size="8.9" text-anchor="middle" fill="#222" stroke="#222" stroke-width="0.16"><tspan font-size="9.3">&lt;1.0</tspan><tspan font-size="8.4" dx="1.0">x</tspan><tspan font-size="9.3" dx="0.7">10</tspan><tspan font-size="5.6" dy="-3.6">-3</tspan></text>
</svg>
</body></html>
